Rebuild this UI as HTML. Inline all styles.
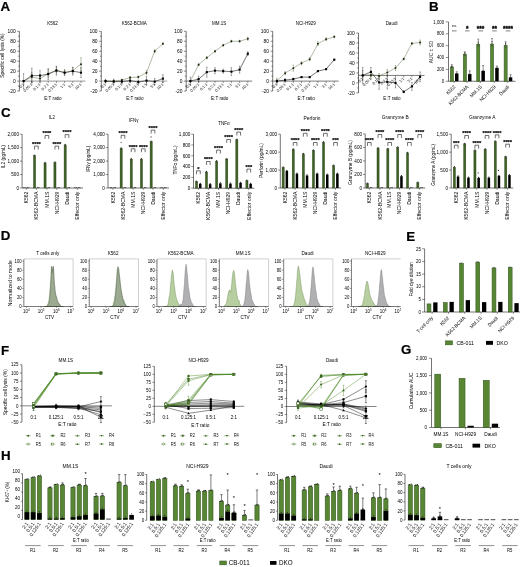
<!DOCTYPE html>
<html><head><meta charset="utf-8"><title>Figure</title>
<style>
html,body{margin:0;padding:0;background:#fff;}
svg{display:block;font-family:"Liberation Sans",sans-serif;}
</style></head><body>
<svg width="520" height="567" viewBox="0 0 520 567">
<rect x="0" y="0" width="520" height="567" fill="#fff"/>
<text transform="translate(0.6 11.3)" font-size="13.3" text-anchor="start" fill="#000" font-weight="bold" stroke="#000" stroke-width="0.2">A</text>
<text transform="translate(428.9 11.1)" font-size="13.3" text-anchor="start" fill="#000" font-weight="bold" stroke="#000" stroke-width="0.2">B</text>
<text transform="translate(0.9 116.5)" font-size="13.3" text-anchor="start" fill="#000" font-weight="bold" stroke="#000" stroke-width="0.2">C</text>
<text transform="translate(0.7 240.4)" font-size="13.3" text-anchor="start" fill="#000" font-weight="bold" stroke="#000" stroke-width="0.2">D</text>
<text transform="translate(406.2 240.6)" font-size="13.3" text-anchor="start" fill="#000" font-weight="bold" stroke="#000" stroke-width="0.2">E</text>
<text transform="translate(0.9 354.5)" font-size="13.3" text-anchor="start" fill="#000" font-weight="bold" stroke="#000" stroke-width="0.2">F</text>
<text transform="translate(401.1 354.3)" font-size="13.3" text-anchor="start" fill="#000" font-weight="bold" stroke="#000" stroke-width="0.2">G</text>
<text transform="translate(1 459.5)" font-size="13.3" text-anchor="start" fill="#000" font-weight="bold" stroke="#000" stroke-width="0.2">H</text>
<line x1="19.4" y1="31.3" x2="19.4" y2="91.06" stroke="#000" stroke-width="0.55" />
<line x1="17.2" y1="91.06" x2="19.4" y2="91.06" stroke="#000" stroke-width="0.45" />
<text transform="translate(15.7 92.76)" font-size="4.9" text-anchor="end" fill="#000" >-20</text>
<line x1="18.1" y1="86.08" x2="19.4" y2="86.08" stroke="#000" stroke-width="0.45" />
<line x1="17.2" y1="81.1" x2="19.4" y2="81.1" stroke="#000" stroke-width="0.45" />
<text transform="translate(15.7 82.8)" font-size="4.9" text-anchor="end" fill="#000" >0</text>
<line x1="18.1" y1="76.12" x2="19.4" y2="76.12" stroke="#000" stroke-width="0.45" />
<line x1="17.2" y1="71.14" x2="19.4" y2="71.14" stroke="#000" stroke-width="0.45" />
<text transform="translate(15.7 72.84)" font-size="4.9" text-anchor="end" fill="#000" >20</text>
<line x1="18.1" y1="66.16" x2="19.4" y2="66.16" stroke="#000" stroke-width="0.45" />
<line x1="17.2" y1="61.18" x2="19.4" y2="61.18" stroke="#000" stroke-width="0.45" />
<text transform="translate(15.7 62.88)" font-size="4.9" text-anchor="end" fill="#000" >40</text>
<line x1="18.1" y1="56.2" x2="19.4" y2="56.2" stroke="#000" stroke-width="0.45" />
<line x1="17.2" y1="51.22" x2="19.4" y2="51.22" stroke="#000" stroke-width="0.45" />
<text transform="translate(15.7 52.92)" font-size="4.9" text-anchor="end" fill="#000" >60</text>
<line x1="18.1" y1="46.24" x2="19.4" y2="46.24" stroke="#000" stroke-width="0.45" />
<line x1="17.2" y1="41.26" x2="19.4" y2="41.26" stroke="#000" stroke-width="0.45" />
<text transform="translate(15.7 42.96)" font-size="4.9" text-anchor="end" fill="#000" >80</text>
<line x1="18.1" y1="36.28" x2="19.4" y2="36.28" stroke="#000" stroke-width="0.45" />
<line x1="17.2" y1="31.3" x2="19.4" y2="31.3" stroke="#000" stroke-width="0.45" />
<text transform="translate(15.7 33)" font-size="4.9" text-anchor="end" fill="#000" >100</text>
<line x1="19.4" y1="81.1" x2="85.4" y2="81.1" stroke="#8a8a8a" stroke-width="0.9" />
<line x1="23.6" y1="81.1" x2="23.6" y2="83.1" stroke="#222" stroke-width="0.45" />
<text transform="translate(24.5 84.6) rotate(-45)" font-size="3.9" text-anchor="end" fill="#111" >0:1</text>
<line x1="31.8" y1="81.1" x2="31.8" y2="83.1" stroke="#222" stroke-width="0.45" />
<text transform="translate(32.7 84.6) rotate(-45)" font-size="3.9" text-anchor="end" fill="#111" >0.05:1</text>
<line x1="40" y1="81.1" x2="40" y2="83.1" stroke="#222" stroke-width="0.45" />
<text transform="translate(40.9 84.6) rotate(-45)" font-size="3.9" text-anchor="end" fill="#111" >0.1:1</text>
<line x1="48.2" y1="81.1" x2="48.2" y2="83.1" stroke="#222" stroke-width="0.45" />
<text transform="translate(49.1 84.6) rotate(-45)" font-size="3.9" text-anchor="end" fill="#111" >0.2:1</text>
<line x1="56.4" y1="81.1" x2="56.4" y2="83.1" stroke="#222" stroke-width="0.45" />
<text transform="translate(57.3 84.6) rotate(-45)" font-size="3.9" text-anchor="end" fill="#111" >0.33:1</text>
<line x1="64.6" y1="81.1" x2="64.6" y2="83.1" stroke="#222" stroke-width="0.45" />
<text transform="translate(65.5 84.6) rotate(-45)" font-size="3.9" text-anchor="end" fill="#111" >1:1</text>
<line x1="72.8" y1="81.1" x2="72.8" y2="83.1" stroke="#222" stroke-width="0.45" />
<text transform="translate(73.7 84.6) rotate(-45)" font-size="3.9" text-anchor="end" fill="#111" >3:1</text>
<line x1="81" y1="81.1" x2="81" y2="83.1" stroke="#222" stroke-width="0.45" />
<text transform="translate(81.9 84.6) rotate(-45)" font-size="3.9" text-anchor="end" fill="#111" >10:1</text>
<text transform="translate(52.4 24.9)" font-size="4.5" text-anchor="middle" fill="#000" >K562</text>
<text transform="translate(52.9 99.66)" font-size="4.6" text-anchor="middle" fill="#000" >E:T ratio</text>
<text transform="translate(4.3 55.5) rotate(-90)" font-size="4.75" text-anchor="middle" fill="#000" >Specific cell lysis (%)</text>
<line x1="31.8" y1="82.1" x2="31.8" y2="72.14" stroke="#2e4a18" stroke-width="0.35" />
<line x1="31.1" y1="82.1" x2="32.5" y2="82.1" stroke="#2e4a18" stroke-width="0.35" />
<line x1="31.1" y1="72.14" x2="32.5" y2="72.14" stroke="#2e4a18" stroke-width="0.35" />
<line x1="40" y1="82.59" x2="40" y2="74.63" stroke="#2e4a18" stroke-width="0.35" />
<line x1="39.3" y1="82.59" x2="40.7" y2="82.59" stroke="#2e4a18" stroke-width="0.35" />
<line x1="39.3" y1="74.63" x2="40.7" y2="74.63" stroke="#2e4a18" stroke-width="0.35" />
<line x1="48.2" y1="77.61" x2="48.2" y2="69.65" stroke="#2e4a18" stroke-width="0.35" />
<line x1="47.5" y1="77.61" x2="48.9" y2="77.61" stroke="#2e4a18" stroke-width="0.35" />
<line x1="47.5" y1="69.65" x2="48.9" y2="69.65" stroke="#2e4a18" stroke-width="0.35" />
<line x1="56.4" y1="73.13" x2="56.4" y2="67.16" stroke="#2e4a18" stroke-width="0.35" />
<line x1="55.7" y1="73.13" x2="57.1" y2="73.13" stroke="#2e4a18" stroke-width="0.35" />
<line x1="55.7" y1="67.16" x2="57.1" y2="67.16" stroke="#2e4a18" stroke-width="0.35" />
<line x1="64.6" y1="74.63" x2="64.6" y2="70.64" stroke="#2e4a18" stroke-width="0.35" />
<line x1="63.9" y1="74.63" x2="65.3" y2="74.63" stroke="#2e4a18" stroke-width="0.35" />
<line x1="63.9" y1="70.64" x2="65.3" y2="70.64" stroke="#2e4a18" stroke-width="0.35" />
<line x1="72.8" y1="73.63" x2="72.8" y2="67.65" stroke="#2e4a18" stroke-width="0.35" />
<line x1="72.1" y1="73.63" x2="73.5" y2="73.63" stroke="#2e4a18" stroke-width="0.35" />
<line x1="72.1" y1="67.65" x2="73.5" y2="67.65" stroke="#2e4a18" stroke-width="0.35" />
<line x1="81" y1="70.64" x2="81" y2="57.69" stroke="#2e4a18" stroke-width="0.35" />
<line x1="80.3" y1="70.64" x2="81.7" y2="70.64" stroke="#2e4a18" stroke-width="0.35" />
<line x1="80.3" y1="57.69" x2="81.7" y2="57.69" stroke="#2e4a18" stroke-width="0.35" />
<line x1="23.6" y1="88.57" x2="23.6" y2="73.63" stroke="#000" stroke-width="0.35" />
<line x1="22.9" y1="88.57" x2="24.3" y2="88.57" stroke="#000" stroke-width="0.35" />
<line x1="22.9" y1="73.63" x2="24.3" y2="73.63" stroke="#000" stroke-width="0.35" />
<line x1="31.8" y1="83.09" x2="31.8" y2="68.15" stroke="#000" stroke-width="0.35" />
<line x1="31.1" y1="83.09" x2="32.5" y2="83.09" stroke="#000" stroke-width="0.35" />
<line x1="31.1" y1="68.15" x2="32.5" y2="68.15" stroke="#000" stroke-width="0.35" />
<line x1="40" y1="80.6" x2="40" y2="70.64" stroke="#000" stroke-width="0.35" />
<line x1="39.3" y1="80.6" x2="40.7" y2="80.6" stroke="#000" stroke-width="0.35" />
<line x1="39.3" y1="70.64" x2="40.7" y2="70.64" stroke="#000" stroke-width="0.35" />
<line x1="48.2" y1="79.61" x2="48.2" y2="68.65" stroke="#000" stroke-width="0.35" />
<line x1="47.5" y1="79.61" x2="48.9" y2="79.61" stroke="#000" stroke-width="0.35" />
<line x1="47.5" y1="68.65" x2="48.9" y2="68.65" stroke="#000" stroke-width="0.35" />
<line x1="56.4" y1="75.12" x2="56.4" y2="66.16" stroke="#000" stroke-width="0.35" />
<line x1="55.7" y1="75.12" x2="57.1" y2="75.12" stroke="#000" stroke-width="0.35" />
<line x1="55.7" y1="66.16" x2="57.1" y2="66.16" stroke="#000" stroke-width="0.35" />
<line x1="64.6" y1="75.62" x2="64.6" y2="69.65" stroke="#000" stroke-width="0.35" />
<line x1="63.9" y1="75.62" x2="65.3" y2="75.62" stroke="#000" stroke-width="0.35" />
<line x1="63.9" y1="69.65" x2="65.3" y2="69.65" stroke="#000" stroke-width="0.35" />
<line x1="72.8" y1="75.12" x2="72.8" y2="67.16" stroke="#000" stroke-width="0.35" />
<line x1="72.1" y1="75.12" x2="73.5" y2="75.12" stroke="#000" stroke-width="0.35" />
<line x1="72.1" y1="67.16" x2="73.5" y2="67.16" stroke="#000" stroke-width="0.35" />
<line x1="81" y1="77.61" x2="81" y2="67.65" stroke="#000" stroke-width="0.35" />
<line x1="80.3" y1="77.61" x2="81.7" y2="77.61" stroke="#000" stroke-width="0.35" />
<line x1="80.3" y1="67.65" x2="81.7" y2="67.65" stroke="#000" stroke-width="0.35" />
<polyline points="23.6,81.1 31.8,77.12 40,78.61 48.2,73.63 56.4,70.14 64.6,72.63 72.8,70.64 81,64.17" fill="none" stroke="#56683f" stroke-width="0.45" stroke-linejoin="round" />
<polyline points="23.6,81.1 31.8,75.62 40,75.62 48.2,74.13 56.4,70.64 64.6,72.63 72.8,71.14 81,72.63" fill="none" stroke="#000" stroke-width="0.55" stroke-linejoin="round" />
<circle cx="23.6" cy="81.1" r="1" fill="#1d2b10"/>
<circle cx="31.8" cy="77.12" r="1" fill="#1d2b10"/>
<circle cx="40" cy="78.61" r="1" fill="#1d2b10"/>
<circle cx="48.2" cy="73.63" r="1" fill="#1d2b10"/>
<circle cx="56.4" cy="70.14" r="1" fill="#1d2b10"/>
<circle cx="64.6" cy="72.63" r="1" fill="#1d2b10"/>
<circle cx="72.8" cy="70.64" r="1" fill="#1d2b10"/>
<circle cx="81" cy="64.17" r="1" fill="#1d2b10"/>
<rect x="22.55" y="80.05" width="2.1" height="2.1" fill="#000" />
<rect x="30.75" y="74.57" width="2.1" height="2.1" fill="#000" />
<rect x="38.95" y="74.57" width="2.1" height="2.1" fill="#000" />
<rect x="47.15" y="73.08" width="2.1" height="2.1" fill="#000" />
<rect x="55.35" y="69.59" width="2.1" height="2.1" fill="#000" />
<rect x="63.55" y="71.58" width="2.1" height="2.1" fill="#000" />
<rect x="71.75" y="70.09" width="2.1" height="2.1" fill="#000" />
<rect x="79.95" y="71.58" width="2.1" height="2.1" fill="#000" />
<line x1="101.3" y1="31.3" x2="101.3" y2="91.06" stroke="#000" stroke-width="0.55" />
<line x1="99.1" y1="91.06" x2="101.3" y2="91.06" stroke="#000" stroke-width="0.45" />
<text transform="translate(97.6 92.76)" font-size="4.9" text-anchor="end" fill="#000" >-20</text>
<line x1="100" y1="86.08" x2="101.3" y2="86.08" stroke="#000" stroke-width="0.45" />
<line x1="99.1" y1="81.1" x2="101.3" y2="81.1" stroke="#000" stroke-width="0.45" />
<text transform="translate(97.6 82.8)" font-size="4.9" text-anchor="end" fill="#000" >0</text>
<line x1="100" y1="76.12" x2="101.3" y2="76.12" stroke="#000" stroke-width="0.45" />
<line x1="99.1" y1="71.14" x2="101.3" y2="71.14" stroke="#000" stroke-width="0.45" />
<text transform="translate(97.6 72.84)" font-size="4.9" text-anchor="end" fill="#000" >20</text>
<line x1="100" y1="66.16" x2="101.3" y2="66.16" stroke="#000" stroke-width="0.45" />
<line x1="99.1" y1="61.18" x2="101.3" y2="61.18" stroke="#000" stroke-width="0.45" />
<text transform="translate(97.6 62.88)" font-size="4.9" text-anchor="end" fill="#000" >40</text>
<line x1="100" y1="56.2" x2="101.3" y2="56.2" stroke="#000" stroke-width="0.45" />
<line x1="99.1" y1="51.22" x2="101.3" y2="51.22" stroke="#000" stroke-width="0.45" />
<text transform="translate(97.6 52.92)" font-size="4.9" text-anchor="end" fill="#000" >60</text>
<line x1="100" y1="46.24" x2="101.3" y2="46.24" stroke="#000" stroke-width="0.45" />
<line x1="99.1" y1="41.26" x2="101.3" y2="41.26" stroke="#000" stroke-width="0.45" />
<text transform="translate(97.6 42.96)" font-size="4.9" text-anchor="end" fill="#000" >80</text>
<line x1="100" y1="36.28" x2="101.3" y2="36.28" stroke="#000" stroke-width="0.45" />
<line x1="99.1" y1="31.3" x2="101.3" y2="31.3" stroke="#000" stroke-width="0.45" />
<text transform="translate(97.6 33)" font-size="4.9" text-anchor="end" fill="#000" >100</text>
<line x1="101.3" y1="81.1" x2="167.3" y2="81.1" stroke="#666" stroke-width="0.6" />
<line x1="105.5" y1="81.1" x2="105.5" y2="83.1" stroke="#222" stroke-width="0.45" />
<text transform="translate(106.4 84.6) rotate(-45)" font-size="3.9" text-anchor="end" fill="#111" >0:1</text>
<line x1="113.7" y1="81.1" x2="113.7" y2="83.1" stroke="#222" stroke-width="0.45" />
<text transform="translate(114.6 84.6) rotate(-45)" font-size="3.9" text-anchor="end" fill="#111" >0.05:1</text>
<line x1="121.9" y1="81.1" x2="121.9" y2="83.1" stroke="#222" stroke-width="0.45" />
<text transform="translate(122.8 84.6) rotate(-45)" font-size="3.9" text-anchor="end" fill="#111" >0.1:1</text>
<line x1="130.1" y1="81.1" x2="130.1" y2="83.1" stroke="#222" stroke-width="0.45" />
<text transform="translate(131 84.6) rotate(-45)" font-size="3.9" text-anchor="end" fill="#111" >0.2:1</text>
<line x1="138.3" y1="81.1" x2="138.3" y2="83.1" stroke="#222" stroke-width="0.45" />
<text transform="translate(139.2 84.6) rotate(-45)" font-size="3.9" text-anchor="end" fill="#111" >0.33:1</text>
<line x1="146.5" y1="81.1" x2="146.5" y2="83.1" stroke="#222" stroke-width="0.45" />
<text transform="translate(147.4 84.6) rotate(-45)" font-size="3.9" text-anchor="end" fill="#111" >1:1</text>
<line x1="154.7" y1="81.1" x2="154.7" y2="83.1" stroke="#222" stroke-width="0.45" />
<text transform="translate(155.6 84.6) rotate(-45)" font-size="3.9" text-anchor="end" fill="#111" >3:1</text>
<line x1="162.9" y1="81.1" x2="162.9" y2="83.1" stroke="#222" stroke-width="0.45" />
<text transform="translate(163.8 84.6) rotate(-45)" font-size="3.9" text-anchor="end" fill="#111" >10:1</text>
<text transform="translate(134.3 24.9)" font-size="4.5" text-anchor="middle" fill="#000" >K562-BCMA</text>
<text transform="translate(134.8 99.66)" font-size="4.6" text-anchor="middle" fill="#000" >E:T ratio</text>
<line x1="105.5" y1="82.1" x2="105.5" y2="80.1" stroke="#2e4a18" stroke-width="0.35" />
<line x1="104.8" y1="82.1" x2="106.2" y2="82.1" stroke="#2e4a18" stroke-width="0.35" />
<line x1="104.8" y1="80.1" x2="106.2" y2="80.1" stroke="#2e4a18" stroke-width="0.35" />
<line x1="113.7" y1="82.1" x2="113.7" y2="80.1" stroke="#2e4a18" stroke-width="0.35" />
<line x1="113" y1="82.1" x2="114.4" y2="82.1" stroke="#2e4a18" stroke-width="0.35" />
<line x1="113" y1="80.1" x2="114.4" y2="80.1" stroke="#2e4a18" stroke-width="0.35" />
<line x1="121.9" y1="81.1" x2="121.9" y2="79.11" stroke="#2e4a18" stroke-width="0.35" />
<line x1="121.2" y1="81.1" x2="122.6" y2="81.1" stroke="#2e4a18" stroke-width="0.35" />
<line x1="121.2" y1="79.11" x2="122.6" y2="79.11" stroke="#2e4a18" stroke-width="0.35" />
<line x1="130.1" y1="78.61" x2="130.1" y2="76.62" stroke="#2e4a18" stroke-width="0.35" />
<line x1="129.4" y1="78.61" x2="130.8" y2="78.61" stroke="#2e4a18" stroke-width="0.35" />
<line x1="129.4" y1="76.62" x2="130.8" y2="76.62" stroke="#2e4a18" stroke-width="0.35" />
<line x1="138.3" y1="78.11" x2="138.3" y2="76.12" stroke="#2e4a18" stroke-width="0.35" />
<line x1="137.6" y1="78.11" x2="139" y2="78.11" stroke="#2e4a18" stroke-width="0.35" />
<line x1="137.6" y1="76.12" x2="139" y2="76.12" stroke="#2e4a18" stroke-width="0.35" />
<line x1="146.5" y1="74.63" x2="146.5" y2="70.64" stroke="#2e4a18" stroke-width="0.35" />
<line x1="145.8" y1="74.63" x2="147.2" y2="74.63" stroke="#2e4a18" stroke-width="0.35" />
<line x1="145.8" y1="70.64" x2="147.2" y2="70.64" stroke="#2e4a18" stroke-width="0.35" />
<line x1="154.7" y1="52.71" x2="154.7" y2="49.73" stroke="#2e4a18" stroke-width="0.35" />
<line x1="154" y1="52.71" x2="155.4" y2="52.71" stroke="#2e4a18" stroke-width="0.35" />
<line x1="154" y1="49.73" x2="155.4" y2="49.73" stroke="#2e4a18" stroke-width="0.35" />
<line x1="162.9" y1="44.75" x2="162.9" y2="42.75" stroke="#2e4a18" stroke-width="0.35" />
<line x1="162.2" y1="44.75" x2="163.6" y2="44.75" stroke="#2e4a18" stroke-width="0.35" />
<line x1="162.2" y1="42.75" x2="163.6" y2="42.75" stroke="#2e4a18" stroke-width="0.35" />
<line x1="105.5" y1="83.09" x2="105.5" y2="79.11" stroke="#000" stroke-width="0.35" />
<line x1="104.8" y1="83.09" x2="106.2" y2="83.09" stroke="#000" stroke-width="0.35" />
<line x1="104.8" y1="79.11" x2="106.2" y2="79.11" stroke="#000" stroke-width="0.35" />
<line x1="113.7" y1="84.09" x2="113.7" y2="79.11" stroke="#000" stroke-width="0.35" />
<line x1="113" y1="84.09" x2="114.4" y2="84.09" stroke="#000" stroke-width="0.35" />
<line x1="113" y1="79.11" x2="114.4" y2="79.11" stroke="#000" stroke-width="0.35" />
<line x1="121.9" y1="83.59" x2="121.9" y2="79.61" stroke="#000" stroke-width="0.35" />
<line x1="121.2" y1="83.59" x2="122.6" y2="83.59" stroke="#000" stroke-width="0.35" />
<line x1="121.2" y1="79.61" x2="122.6" y2="79.61" stroke="#000" stroke-width="0.35" />
<line x1="130.1" y1="82.59" x2="130.1" y2="78.61" stroke="#000" stroke-width="0.35" />
<line x1="129.4" y1="82.59" x2="130.8" y2="82.59" stroke="#000" stroke-width="0.35" />
<line x1="129.4" y1="78.61" x2="130.8" y2="78.61" stroke="#000" stroke-width="0.35" />
<line x1="138.3" y1="84.09" x2="138.3" y2="80.1" stroke="#000" stroke-width="0.35" />
<line x1="137.6" y1="84.09" x2="139" y2="84.09" stroke="#000" stroke-width="0.35" />
<line x1="137.6" y1="80.1" x2="139" y2="80.1" stroke="#000" stroke-width="0.35" />
<line x1="146.5" y1="84.59" x2="146.5" y2="76.62" stroke="#000" stroke-width="0.35" />
<line x1="145.8" y1="84.59" x2="147.2" y2="84.59" stroke="#000" stroke-width="0.35" />
<line x1="145.8" y1="76.62" x2="147.2" y2="76.62" stroke="#000" stroke-width="0.35" />
<line x1="154.7" y1="84.59" x2="154.7" y2="78.61" stroke="#000" stroke-width="0.35" />
<line x1="154" y1="84.59" x2="155.4" y2="84.59" stroke="#000" stroke-width="0.35" />
<line x1="154" y1="78.61" x2="155.4" y2="78.61" stroke="#000" stroke-width="0.35" />
<line x1="162.9" y1="82.59" x2="162.9" y2="74.63" stroke="#000" stroke-width="0.35" />
<line x1="162.2" y1="82.59" x2="163.6" y2="82.59" stroke="#000" stroke-width="0.35" />
<line x1="162.2" y1="74.63" x2="163.6" y2="74.63" stroke="#000" stroke-width="0.35" />
<polyline points="105.5,81.1 113.7,81.1 121.9,80.1 130.1,77.61 138.3,77.12 146.5,72.63 154.7,51.22 162.9,43.75" fill="none" stroke="#56683f" stroke-width="0.45" stroke-linejoin="round" />
<polyline points="105.5,81.1 113.7,81.6 121.9,81.6 130.1,80.6 138.3,82.1 146.5,80.6 154.7,81.6 162.9,78.61" fill="none" stroke="#000" stroke-width="0.55" stroke-linejoin="round" />
<circle cx="105.5" cy="81.1" r="1" fill="#1d2b10"/>
<circle cx="113.7" cy="81.1" r="1" fill="#1d2b10"/>
<circle cx="121.9" cy="80.1" r="1" fill="#1d2b10"/>
<circle cx="130.1" cy="77.61" r="1" fill="#1d2b10"/>
<circle cx="138.3" cy="77.12" r="1" fill="#1d2b10"/>
<circle cx="146.5" cy="72.63" r="1" fill="#1d2b10"/>
<circle cx="154.7" cy="51.22" r="1" fill="#1d2b10"/>
<circle cx="162.9" cy="43.75" r="1" fill="#1d2b10"/>
<rect x="104.45" y="80.05" width="2.1" height="2.1" fill="#000" />
<rect x="112.65" y="80.55" width="2.1" height="2.1" fill="#000" />
<rect x="120.85" y="80.55" width="2.1" height="2.1" fill="#000" />
<rect x="129.05" y="79.55" width="2.1" height="2.1" fill="#000" />
<rect x="137.25" y="81.05" width="2.1" height="2.1" fill="#000" />
<rect x="145.45" y="79.55" width="2.1" height="2.1" fill="#000" />
<rect x="153.65" y="80.55" width="2.1" height="2.1" fill="#000" />
<rect x="161.85" y="77.56" width="2.1" height="2.1" fill="#000" />
<line x1="186.2" y1="31.3" x2="186.2" y2="91.06" stroke="#000" stroke-width="0.55" />
<line x1="184" y1="91.06" x2="186.2" y2="91.06" stroke="#000" stroke-width="0.45" />
<text transform="translate(182.5 92.76)" font-size="4.9" text-anchor="end" fill="#000" >-20</text>
<line x1="184.9" y1="86.08" x2="186.2" y2="86.08" stroke="#000" stroke-width="0.45" />
<line x1="184" y1="81.1" x2="186.2" y2="81.1" stroke="#000" stroke-width="0.45" />
<text transform="translate(182.5 82.8)" font-size="4.9" text-anchor="end" fill="#000" >0</text>
<line x1="184.9" y1="76.12" x2="186.2" y2="76.12" stroke="#000" stroke-width="0.45" />
<line x1="184" y1="71.14" x2="186.2" y2="71.14" stroke="#000" stroke-width="0.45" />
<text transform="translate(182.5 72.84)" font-size="4.9" text-anchor="end" fill="#000" >20</text>
<line x1="184.9" y1="66.16" x2="186.2" y2="66.16" stroke="#000" stroke-width="0.45" />
<line x1="184" y1="61.18" x2="186.2" y2="61.18" stroke="#000" stroke-width="0.45" />
<text transform="translate(182.5 62.88)" font-size="4.9" text-anchor="end" fill="#000" >40</text>
<line x1="184.9" y1="56.2" x2="186.2" y2="56.2" stroke="#000" stroke-width="0.45" />
<line x1="184" y1="51.22" x2="186.2" y2="51.22" stroke="#000" stroke-width="0.45" />
<text transform="translate(182.5 52.92)" font-size="4.9" text-anchor="end" fill="#000" >60</text>
<line x1="184.9" y1="46.24" x2="186.2" y2="46.24" stroke="#000" stroke-width="0.45" />
<line x1="184" y1="41.26" x2="186.2" y2="41.26" stroke="#000" stroke-width="0.45" />
<text transform="translate(182.5 42.96)" font-size="4.9" text-anchor="end" fill="#000" >80</text>
<line x1="184.9" y1="36.28" x2="186.2" y2="36.28" stroke="#000" stroke-width="0.45" />
<line x1="184" y1="31.3" x2="186.2" y2="31.3" stroke="#000" stroke-width="0.45" />
<text transform="translate(182.5 33)" font-size="4.9" text-anchor="end" fill="#000" >100</text>
<line x1="186.2" y1="81.1" x2="252.2" y2="81.1" stroke="#222" stroke-width="0.6" />
<line x1="190.4" y1="81.1" x2="190.4" y2="83.1" stroke="#222" stroke-width="0.45" />
<text transform="translate(191.3 84.6) rotate(-45)" font-size="3.9" text-anchor="end" fill="#111" >0:1</text>
<line x1="198.6" y1="81.1" x2="198.6" y2="83.1" stroke="#222" stroke-width="0.45" />
<text transform="translate(199.5 84.6) rotate(-45)" font-size="3.9" text-anchor="end" fill="#111" >0.05:1</text>
<line x1="206.8" y1="81.1" x2="206.8" y2="83.1" stroke="#222" stroke-width="0.45" />
<text transform="translate(207.7 84.6) rotate(-45)" font-size="3.9" text-anchor="end" fill="#111" >0.1:1</text>
<line x1="215" y1="81.1" x2="215" y2="83.1" stroke="#222" stroke-width="0.45" />
<text transform="translate(215.9 84.6) rotate(-45)" font-size="3.9" text-anchor="end" fill="#111" >0.2:1</text>
<line x1="223.2" y1="81.1" x2="223.2" y2="83.1" stroke="#222" stroke-width="0.45" />
<text transform="translate(224.1 84.6) rotate(-45)" font-size="3.9" text-anchor="end" fill="#111" >0.33:1</text>
<line x1="231.4" y1="81.1" x2="231.4" y2="83.1" stroke="#222" stroke-width="0.45" />
<text transform="translate(232.3 84.6) rotate(-45)" font-size="3.9" text-anchor="end" fill="#111" >1:1</text>
<line x1="239.6" y1="81.1" x2="239.6" y2="83.1" stroke="#222" stroke-width="0.45" />
<text transform="translate(240.5 84.6) rotate(-45)" font-size="3.9" text-anchor="end" fill="#111" >3:1</text>
<line x1="247.8" y1="81.1" x2="247.8" y2="83.1" stroke="#222" stroke-width="0.45" />
<text transform="translate(248.7 84.6) rotate(-45)" font-size="3.9" text-anchor="end" fill="#111" >10:1</text>
<text transform="translate(219.2 24.9)" font-size="4.5" text-anchor="middle" fill="#000" >MM.1S</text>
<text transform="translate(219.7 99.66)" font-size="4.6" text-anchor="middle" fill="#000" >E:T ratio</text>
<line x1="190.4" y1="82.1" x2="190.4" y2="80.1" stroke="#2e4a18" stroke-width="0.35" />
<line x1="189.7" y1="82.1" x2="191.1" y2="82.1" stroke="#2e4a18" stroke-width="0.35" />
<line x1="189.7" y1="80.1" x2="191.1" y2="80.1" stroke="#2e4a18" stroke-width="0.35" />
<line x1="198.6" y1="65.66" x2="198.6" y2="63.67" stroke="#2e4a18" stroke-width="0.35" />
<line x1="197.9" y1="65.66" x2="199.3" y2="65.66" stroke="#2e4a18" stroke-width="0.35" />
<line x1="197.9" y1="63.67" x2="199.3" y2="63.67" stroke="#2e4a18" stroke-width="0.35" />
<line x1="206.8" y1="58.69" x2="206.8" y2="56.7" stroke="#2e4a18" stroke-width="0.35" />
<line x1="206.1" y1="58.69" x2="207.5" y2="58.69" stroke="#2e4a18" stroke-width="0.35" />
<line x1="206.1" y1="56.7" x2="207.5" y2="56.7" stroke="#2e4a18" stroke-width="0.35" />
<line x1="215" y1="52.22" x2="215" y2="50.22" stroke="#2e4a18" stroke-width="0.35" />
<line x1="214.3" y1="52.22" x2="215.7" y2="52.22" stroke="#2e4a18" stroke-width="0.35" />
<line x1="214.3" y1="50.22" x2="215.7" y2="50.22" stroke="#2e4a18" stroke-width="0.35" />
<line x1="223.2" y1="46.24" x2="223.2" y2="44.25" stroke="#2e4a18" stroke-width="0.35" />
<line x1="222.5" y1="46.24" x2="223.9" y2="46.24" stroke="#2e4a18" stroke-width="0.35" />
<line x1="222.5" y1="44.25" x2="223.9" y2="44.25" stroke="#2e4a18" stroke-width="0.35" />
<line x1="231.4" y1="42.26" x2="231.4" y2="40.26" stroke="#2e4a18" stroke-width="0.35" />
<line x1="230.7" y1="42.26" x2="232.1" y2="42.26" stroke="#2e4a18" stroke-width="0.35" />
<line x1="230.7" y1="40.26" x2="232.1" y2="40.26" stroke="#2e4a18" stroke-width="0.35" />
<line x1="239.6" y1="42.26" x2="239.6" y2="40.26" stroke="#2e4a18" stroke-width="0.35" />
<line x1="238.9" y1="42.26" x2="240.3" y2="42.26" stroke="#2e4a18" stroke-width="0.35" />
<line x1="238.9" y1="40.26" x2="240.3" y2="40.26" stroke="#2e4a18" stroke-width="0.35" />
<line x1="247.8" y1="40.26" x2="247.8" y2="37.28" stroke="#2e4a18" stroke-width="0.35" />
<line x1="247.1" y1="40.26" x2="248.5" y2="40.26" stroke="#2e4a18" stroke-width="0.35" />
<line x1="247.1" y1="37.28" x2="248.5" y2="37.28" stroke="#2e4a18" stroke-width="0.35" />
<line x1="190.4" y1="85.08" x2="190.4" y2="77.12" stroke="#000" stroke-width="0.35" />
<line x1="189.7" y1="85.08" x2="191.1" y2="85.08" stroke="#000" stroke-width="0.35" />
<line x1="189.7" y1="77.12" x2="191.1" y2="77.12" stroke="#000" stroke-width="0.35" />
<line x1="198.6" y1="82.1" x2="198.6" y2="76.12" stroke="#000" stroke-width="0.35" />
<line x1="197.9" y1="82.1" x2="199.3" y2="82.1" stroke="#000" stroke-width="0.35" />
<line x1="197.9" y1="76.12" x2="199.3" y2="76.12" stroke="#000" stroke-width="0.35" />
<line x1="206.8" y1="77.12" x2="206.8" y2="67.16" stroke="#000" stroke-width="0.35" />
<line x1="206.1" y1="77.12" x2="207.5" y2="77.12" stroke="#000" stroke-width="0.35" />
<line x1="206.1" y1="67.16" x2="207.5" y2="67.16" stroke="#000" stroke-width="0.35" />
<line x1="215" y1="73.63" x2="215" y2="67.65" stroke="#000" stroke-width="0.35" />
<line x1="214.3" y1="73.63" x2="215.7" y2="73.63" stroke="#000" stroke-width="0.35" />
<line x1="214.3" y1="67.65" x2="215.7" y2="67.65" stroke="#000" stroke-width="0.35" />
<line x1="223.2" y1="73.13" x2="223.2" y2="69.15" stroke="#000" stroke-width="0.35" />
<line x1="222.5" y1="73.13" x2="223.9" y2="73.13" stroke="#000" stroke-width="0.35" />
<line x1="222.5" y1="69.15" x2="223.9" y2="69.15" stroke="#000" stroke-width="0.35" />
<line x1="231.4" y1="75.62" x2="231.4" y2="67.65" stroke="#000" stroke-width="0.35" />
<line x1="230.7" y1="75.62" x2="232.1" y2="75.62" stroke="#000" stroke-width="0.35" />
<line x1="230.7" y1="67.65" x2="232.1" y2="67.65" stroke="#000" stroke-width="0.35" />
<line x1="239.6" y1="73.13" x2="239.6" y2="66.16" stroke="#000" stroke-width="0.35" />
<line x1="238.9" y1="73.13" x2="240.3" y2="73.13" stroke="#000" stroke-width="0.35" />
<line x1="238.9" y1="66.16" x2="240.3" y2="66.16" stroke="#000" stroke-width="0.35" />
<line x1="247.8" y1="55.7" x2="247.8" y2="51.72" stroke="#000" stroke-width="0.35" />
<line x1="247.1" y1="55.7" x2="248.5" y2="55.7" stroke="#000" stroke-width="0.35" />
<line x1="247.1" y1="51.72" x2="248.5" y2="51.72" stroke="#000" stroke-width="0.35" />
<polyline points="190.4,81.1 198.6,64.67 206.8,57.69 215,51.22 223.2,45.24 231.4,41.26 239.6,41.26 247.8,38.77" fill="none" stroke="#56683f" stroke-width="0.45" stroke-linejoin="round" />
<polyline points="190.4,81.1 198.6,79.11 206.8,72.14 215,70.64 223.2,71.14 231.4,71.64 239.6,69.65 247.8,53.71" fill="none" stroke="#000" stroke-width="0.55" stroke-linejoin="round" />
<circle cx="190.4" cy="81.1" r="1" fill="#1d2b10"/>
<circle cx="198.6" cy="64.67" r="1" fill="#1d2b10"/>
<circle cx="206.8" cy="57.69" r="1" fill="#1d2b10"/>
<circle cx="215" cy="51.22" r="1" fill="#1d2b10"/>
<circle cx="223.2" cy="45.24" r="1" fill="#1d2b10"/>
<circle cx="231.4" cy="41.26" r="1" fill="#1d2b10"/>
<circle cx="239.6" cy="41.26" r="1" fill="#1d2b10"/>
<circle cx="247.8" cy="38.77" r="1" fill="#1d2b10"/>
<rect x="189.35" y="80.05" width="2.1" height="2.1" fill="#000" />
<rect x="197.55" y="78.06" width="2.1" height="2.1" fill="#000" />
<rect x="205.75" y="71.09" width="2.1" height="2.1" fill="#000" />
<rect x="213.95" y="69.59" width="2.1" height="2.1" fill="#000" />
<rect x="222.15" y="70.09" width="2.1" height="2.1" fill="#000" />
<rect x="230.35" y="70.59" width="2.1" height="2.1" fill="#000" />
<rect x="238.55" y="68.6" width="2.1" height="2.1" fill="#000" />
<rect x="246.75" y="52.66" width="2.1" height="2.1" fill="#000" />
<line x1="272.7" y1="31.3" x2="272.7" y2="91.06" stroke="#000" stroke-width="0.55" />
<line x1="270.5" y1="91.06" x2="272.7" y2="91.06" stroke="#000" stroke-width="0.45" />
<text transform="translate(269 92.76)" font-size="4.9" text-anchor="end" fill="#000" >-20</text>
<line x1="271.4" y1="86.08" x2="272.7" y2="86.08" stroke="#000" stroke-width="0.45" />
<line x1="270.5" y1="81.1" x2="272.7" y2="81.1" stroke="#000" stroke-width="0.45" />
<text transform="translate(269 82.8)" font-size="4.9" text-anchor="end" fill="#000" >0</text>
<line x1="271.4" y1="76.12" x2="272.7" y2="76.12" stroke="#000" stroke-width="0.45" />
<line x1="270.5" y1="71.14" x2="272.7" y2="71.14" stroke="#000" stroke-width="0.45" />
<text transform="translate(269 72.84)" font-size="4.9" text-anchor="end" fill="#000" >20</text>
<line x1="271.4" y1="66.16" x2="272.7" y2="66.16" stroke="#000" stroke-width="0.45" />
<line x1="270.5" y1="61.18" x2="272.7" y2="61.18" stroke="#000" stroke-width="0.45" />
<text transform="translate(269 62.88)" font-size="4.9" text-anchor="end" fill="#000" >40</text>
<line x1="271.4" y1="56.2" x2="272.7" y2="56.2" stroke="#000" stroke-width="0.45" />
<line x1="270.5" y1="51.22" x2="272.7" y2="51.22" stroke="#000" stroke-width="0.45" />
<text transform="translate(269 52.92)" font-size="4.9" text-anchor="end" fill="#000" >60</text>
<line x1="271.4" y1="46.24" x2="272.7" y2="46.24" stroke="#000" stroke-width="0.45" />
<line x1="270.5" y1="41.26" x2="272.7" y2="41.26" stroke="#000" stroke-width="0.45" />
<text transform="translate(269 42.96)" font-size="4.9" text-anchor="end" fill="#000" >80</text>
<line x1="271.4" y1="36.28" x2="272.7" y2="36.28" stroke="#000" stroke-width="0.45" />
<line x1="270.5" y1="31.3" x2="272.7" y2="31.3" stroke="#000" stroke-width="0.45" />
<text transform="translate(269 33)" font-size="4.9" text-anchor="end" fill="#000" >100</text>
<line x1="272.7" y1="81.1" x2="338.7" y2="81.1" stroke="#222" stroke-width="0.6" />
<line x1="276.9" y1="81.1" x2="276.9" y2="83.1" stroke="#222" stroke-width="0.45" />
<text transform="translate(277.8 84.6) rotate(-45)" font-size="3.9" text-anchor="end" fill="#111" >0:1</text>
<line x1="285.1" y1="81.1" x2="285.1" y2="83.1" stroke="#222" stroke-width="0.45" />
<text transform="translate(286 84.6) rotate(-45)" font-size="3.9" text-anchor="end" fill="#111" >0.05:1</text>
<line x1="293.3" y1="81.1" x2="293.3" y2="83.1" stroke="#222" stroke-width="0.45" />
<text transform="translate(294.2 84.6) rotate(-45)" font-size="3.9" text-anchor="end" fill="#111" >0.1:1</text>
<line x1="301.5" y1="81.1" x2="301.5" y2="83.1" stroke="#222" stroke-width="0.45" />
<text transform="translate(302.4 84.6) rotate(-45)" font-size="3.9" text-anchor="end" fill="#111" >0.2:1</text>
<line x1="309.7" y1="81.1" x2="309.7" y2="83.1" stroke="#222" stroke-width="0.45" />
<text transform="translate(310.6 84.6) rotate(-45)" font-size="3.9" text-anchor="end" fill="#111" >0.33:1</text>
<line x1="317.9" y1="81.1" x2="317.9" y2="83.1" stroke="#222" stroke-width="0.45" />
<text transform="translate(318.8 84.6) rotate(-45)" font-size="3.9" text-anchor="end" fill="#111" >1:1</text>
<line x1="326.1" y1="81.1" x2="326.1" y2="83.1" stroke="#222" stroke-width="0.45" />
<text transform="translate(327 84.6) rotate(-45)" font-size="3.9" text-anchor="end" fill="#111" >3:1</text>
<line x1="334.3" y1="81.1" x2="334.3" y2="83.1" stroke="#222" stroke-width="0.45" />
<text transform="translate(335.2 84.6) rotate(-45)" font-size="3.9" text-anchor="end" fill="#111" >10:1</text>
<text transform="translate(305.7 24.9)" font-size="4.5" text-anchor="middle" fill="#000" >NCI-H929</text>
<text transform="translate(306.2 99.66)" font-size="4.6" text-anchor="middle" fill="#000" >E:T ratio</text>
<line x1="276.9" y1="84.09" x2="276.9" y2="78.11" stroke="#2e4a18" stroke-width="0.35" />
<line x1="276.2" y1="84.09" x2="277.6" y2="84.09" stroke="#2e4a18" stroke-width="0.35" />
<line x1="276.2" y1="78.11" x2="277.6" y2="78.11" stroke="#2e4a18" stroke-width="0.35" />
<line x1="285.1" y1="74.63" x2="285.1" y2="71.64" stroke="#2e4a18" stroke-width="0.35" />
<line x1="284.4" y1="74.63" x2="285.8" y2="74.63" stroke="#2e4a18" stroke-width="0.35" />
<line x1="284.4" y1="71.64" x2="285.8" y2="71.64" stroke="#2e4a18" stroke-width="0.35" />
<line x1="293.3" y1="71.14" x2="293.3" y2="65.16" stroke="#2e4a18" stroke-width="0.35" />
<line x1="292.6" y1="71.14" x2="294" y2="71.14" stroke="#2e4a18" stroke-width="0.35" />
<line x1="292.6" y1="65.16" x2="294" y2="65.16" stroke="#2e4a18" stroke-width="0.35" />
<line x1="301.5" y1="64.67" x2="301.5" y2="61.68" stroke="#2e4a18" stroke-width="0.35" />
<line x1="300.8" y1="64.67" x2="302.2" y2="64.67" stroke="#2e4a18" stroke-width="0.35" />
<line x1="300.8" y1="61.68" x2="302.2" y2="61.68" stroke="#2e4a18" stroke-width="0.35" />
<line x1="309.7" y1="60.68" x2="309.7" y2="57.69" stroke="#2e4a18" stroke-width="0.35" />
<line x1="309" y1="60.68" x2="310.4" y2="60.68" stroke="#2e4a18" stroke-width="0.35" />
<line x1="309" y1="57.69" x2="310.4" y2="57.69" stroke="#2e4a18" stroke-width="0.35" />
<line x1="317.9" y1="45.74" x2="317.9" y2="41.76" stroke="#2e4a18" stroke-width="0.35" />
<line x1="317.2" y1="45.74" x2="318.6" y2="45.74" stroke="#2e4a18" stroke-width="0.35" />
<line x1="317.2" y1="41.76" x2="318.6" y2="41.76" stroke="#2e4a18" stroke-width="0.35" />
<line x1="326.1" y1="40.76" x2="326.1" y2="37.77" stroke="#2e4a18" stroke-width="0.35" />
<line x1="325.4" y1="40.76" x2="326.8" y2="40.76" stroke="#2e4a18" stroke-width="0.35" />
<line x1="325.4" y1="37.77" x2="326.8" y2="37.77" stroke="#2e4a18" stroke-width="0.35" />
<line x1="334.3" y1="37.77" x2="334.3" y2="35.78" stroke="#2e4a18" stroke-width="0.35" />
<line x1="333.6" y1="37.77" x2="335" y2="37.77" stroke="#2e4a18" stroke-width="0.35" />
<line x1="333.6" y1="35.78" x2="335" y2="35.78" stroke="#2e4a18" stroke-width="0.35" />
<line x1="276.9" y1="82.59" x2="276.9" y2="79.61" stroke="#000" stroke-width="0.35" />
<line x1="276.2" y1="82.59" x2="277.6" y2="82.59" stroke="#000" stroke-width="0.35" />
<line x1="276.2" y1="79.61" x2="277.6" y2="79.61" stroke="#000" stroke-width="0.35" />
<line x1="285.1" y1="81.6" x2="285.1" y2="78.61" stroke="#000" stroke-width="0.35" />
<line x1="284.4" y1="81.6" x2="285.8" y2="81.6" stroke="#000" stroke-width="0.35" />
<line x1="284.4" y1="78.61" x2="285.8" y2="78.61" stroke="#000" stroke-width="0.35" />
<line x1="293.3" y1="80.1" x2="293.3" y2="78.11" stroke="#000" stroke-width="0.35" />
<line x1="292.6" y1="80.1" x2="294" y2="80.1" stroke="#000" stroke-width="0.35" />
<line x1="292.6" y1="78.11" x2="294" y2="78.11" stroke="#000" stroke-width="0.35" />
<line x1="301.5" y1="77.61" x2="301.5" y2="76.62" stroke="#000" stroke-width="0.35" />
<line x1="300.8" y1="77.61" x2="302.2" y2="77.61" stroke="#000" stroke-width="0.35" />
<line x1="300.8" y1="76.62" x2="302.2" y2="76.62" stroke="#000" stroke-width="0.35" />
<line x1="309.7" y1="77.61" x2="309.7" y2="76.62" stroke="#000" stroke-width="0.35" />
<line x1="309" y1="77.61" x2="310.4" y2="77.61" stroke="#000" stroke-width="0.35" />
<line x1="309" y1="76.62" x2="310.4" y2="76.62" stroke="#000" stroke-width="0.35" />
<line x1="317.9" y1="71.64" x2="317.9" y2="70.64" stroke="#000" stroke-width="0.35" />
<line x1="317.2" y1="71.64" x2="318.6" y2="71.64" stroke="#000" stroke-width="0.35" />
<line x1="317.2" y1="70.64" x2="318.6" y2="70.64" stroke="#000" stroke-width="0.35" />
<line x1="326.1" y1="69.65" x2="326.1" y2="68.65" stroke="#000" stroke-width="0.35" />
<line x1="325.4" y1="69.65" x2="326.8" y2="69.65" stroke="#000" stroke-width="0.35" />
<line x1="325.4" y1="68.65" x2="326.8" y2="68.65" stroke="#000" stroke-width="0.35" />
<line x1="334.3" y1="60.18" x2="334.3" y2="59.19" stroke="#000" stroke-width="0.35" />
<line x1="333.6" y1="60.18" x2="335" y2="60.18" stroke="#000" stroke-width="0.35" />
<line x1="333.6" y1="59.19" x2="335" y2="59.19" stroke="#000" stroke-width="0.35" />
<polyline points="276.9,81.1 285.1,73.13 293.3,68.15 301.5,63.17 309.7,59.19 317.9,43.75 326.1,39.27 334.3,36.78" fill="none" stroke="#56683f" stroke-width="0.45" stroke-linejoin="round" />
<polyline points="276.9,81.1 285.1,80.1 293.3,79.11 301.5,77.12 309.7,77.12 317.9,71.14 326.1,69.15 334.3,59.69" fill="none" stroke="#000" stroke-width="0.55" stroke-linejoin="round" />
<circle cx="276.9" cy="81.1" r="1" fill="#1d2b10"/>
<circle cx="285.1" cy="73.13" r="1" fill="#1d2b10"/>
<circle cx="293.3" cy="68.15" r="1" fill="#1d2b10"/>
<circle cx="301.5" cy="63.17" r="1" fill="#1d2b10"/>
<circle cx="309.7" cy="59.19" r="1" fill="#1d2b10"/>
<circle cx="317.9" cy="43.75" r="1" fill="#1d2b10"/>
<circle cx="326.1" cy="39.27" r="1" fill="#1d2b10"/>
<circle cx="334.3" cy="36.78" r="1" fill="#1d2b10"/>
<rect x="275.85" y="80.05" width="2.1" height="2.1" fill="#000" />
<rect x="284.05" y="79.05" width="2.1" height="2.1" fill="#000" />
<rect x="292.25" y="78.06" width="2.1" height="2.1" fill="#000" />
<rect x="300.45" y="76.07" width="2.1" height="2.1" fill="#000" />
<rect x="308.65" y="76.07" width="2.1" height="2.1" fill="#000" />
<rect x="316.85" y="70.09" width="2.1" height="2.1" fill="#000" />
<rect x="325.05" y="68.1" width="2.1" height="2.1" fill="#000" />
<rect x="333.25" y="58.64" width="2.1" height="2.1" fill="#000" />
<line x1="358.5" y1="33" x2="358.5" y2="92.88" stroke="#000" stroke-width="0.55" />
<line x1="356.3" y1="92.88" x2="358.5" y2="92.88" stroke="#000" stroke-width="0.45" />
<text transform="translate(354.8 94.58)" font-size="4.9" text-anchor="end" fill="#000" >-20</text>
<line x1="357.2" y1="87.89" x2="358.5" y2="87.89" stroke="#000" stroke-width="0.45" />
<line x1="356.3" y1="82.9" x2="358.5" y2="82.9" stroke="#000" stroke-width="0.45" />
<text transform="translate(354.8 84.6)" font-size="4.9" text-anchor="end" fill="#000" >0</text>
<line x1="357.2" y1="77.91" x2="358.5" y2="77.91" stroke="#000" stroke-width="0.45" />
<line x1="356.3" y1="72.92" x2="358.5" y2="72.92" stroke="#000" stroke-width="0.45" />
<text transform="translate(354.8 74.62)" font-size="4.9" text-anchor="end" fill="#000" >20</text>
<line x1="357.2" y1="67.93" x2="358.5" y2="67.93" stroke="#000" stroke-width="0.45" />
<line x1="356.3" y1="62.94" x2="358.5" y2="62.94" stroke="#000" stroke-width="0.45" />
<text transform="translate(354.8 64.64)" font-size="4.9" text-anchor="end" fill="#000" >40</text>
<line x1="357.2" y1="57.95" x2="358.5" y2="57.95" stroke="#000" stroke-width="0.45" />
<line x1="356.3" y1="52.96" x2="358.5" y2="52.96" stroke="#000" stroke-width="0.45" />
<text transform="translate(354.8 54.66)" font-size="4.9" text-anchor="end" fill="#000" >60</text>
<line x1="357.2" y1="47.97" x2="358.5" y2="47.97" stroke="#000" stroke-width="0.45" />
<line x1="356.3" y1="42.98" x2="358.5" y2="42.98" stroke="#000" stroke-width="0.45" />
<text transform="translate(354.8 44.68)" font-size="4.9" text-anchor="end" fill="#000" >80</text>
<line x1="357.2" y1="37.99" x2="358.5" y2="37.99" stroke="#000" stroke-width="0.45" />
<line x1="356.3" y1="33" x2="358.5" y2="33" stroke="#000" stroke-width="0.45" />
<text transform="translate(354.8 34.7)" font-size="4.9" text-anchor="end" fill="#000" >100</text>
<line x1="358.5" y1="75.42" x2="424.5" y2="75.42" stroke="#222" stroke-width="0.6" />
<line x1="362.7" y1="75.42" x2="362.7" y2="77.42" stroke="#222" stroke-width="0.45" />
<text transform="translate(363.6 78.92) rotate(-45)" font-size="3.9" text-anchor="end" fill="#111" >0:1</text>
<line x1="370.9" y1="75.42" x2="370.9" y2="77.42" stroke="#222" stroke-width="0.45" />
<text transform="translate(371.8 78.92) rotate(-45)" font-size="3.9" text-anchor="end" fill="#111" >0.05:1</text>
<line x1="379.1" y1="75.42" x2="379.1" y2="77.42" stroke="#222" stroke-width="0.45" />
<text transform="translate(380 78.92) rotate(-45)" font-size="3.9" text-anchor="end" fill="#111" >0.1:1</text>
<line x1="387.3" y1="75.42" x2="387.3" y2="77.42" stroke="#222" stroke-width="0.45" />
<text transform="translate(388.2 78.92) rotate(-45)" font-size="3.9" text-anchor="end" fill="#111" >0.2:1</text>
<line x1="395.5" y1="75.42" x2="395.5" y2="77.42" stroke="#222" stroke-width="0.45" />
<text transform="translate(396.4 78.92) rotate(-45)" font-size="3.9" text-anchor="end" fill="#111" >0.33:1</text>
<line x1="403.7" y1="75.42" x2="403.7" y2="77.42" stroke="#222" stroke-width="0.45" />
<text transform="translate(404.6 78.92) rotate(-45)" font-size="3.9" text-anchor="end" fill="#111" >1:1</text>
<line x1="411.9" y1="75.42" x2="411.9" y2="77.42" stroke="#222" stroke-width="0.45" />
<text transform="translate(412.8 78.92) rotate(-45)" font-size="3.9" text-anchor="end" fill="#111" >3:1</text>
<line x1="420.1" y1="75.42" x2="420.1" y2="77.42" stroke="#222" stroke-width="0.45" />
<text transform="translate(421 78.92) rotate(-45)" font-size="3.9" text-anchor="end" fill="#111" >10:1</text>
<text transform="translate(391.5 25.4)" font-size="4.5" text-anchor="middle" fill="#000" >Daudi</text>
<text transform="translate(392 100.48)" font-size="4.6" text-anchor="middle" fill="#000" >E:T ratio</text>
<line x1="362.7" y1="80.41" x2="362.7" y2="70.43" stroke="#2e4a18" stroke-width="0.35" />
<line x1="362" y1="80.41" x2="363.4" y2="80.41" stroke="#2e4a18" stroke-width="0.35" />
<line x1="362" y1="70.43" x2="363.4" y2="70.43" stroke="#2e4a18" stroke-width="0.35" />
<line x1="370.9" y1="78.91" x2="370.9" y2="70.92" stroke="#2e4a18" stroke-width="0.35" />
<line x1="370.2" y1="78.91" x2="371.6" y2="78.91" stroke="#2e4a18" stroke-width="0.35" />
<line x1="370.2" y1="70.92" x2="371.6" y2="70.92" stroke="#2e4a18" stroke-width="0.35" />
<line x1="379.1" y1="78.41" x2="379.1" y2="73.42" stroke="#2e4a18" stroke-width="0.35" />
<line x1="378.4" y1="78.41" x2="379.8" y2="78.41" stroke="#2e4a18" stroke-width="0.35" />
<line x1="378.4" y1="73.42" x2="379.8" y2="73.42" stroke="#2e4a18" stroke-width="0.35" />
<line x1="387.3" y1="75.42" x2="387.3" y2="69.43" stroke="#2e4a18" stroke-width="0.35" />
<line x1="386.6" y1="75.42" x2="388" y2="75.42" stroke="#2e4a18" stroke-width="0.35" />
<line x1="386.6" y1="69.43" x2="388" y2="69.43" stroke="#2e4a18" stroke-width="0.35" />
<line x1="395.5" y1="70.43" x2="395.5" y2="65.44" stroke="#2e4a18" stroke-width="0.35" />
<line x1="394.8" y1="70.43" x2="396.2" y2="70.43" stroke="#2e4a18" stroke-width="0.35" />
<line x1="394.8" y1="65.44" x2="396.2" y2="65.44" stroke="#2e4a18" stroke-width="0.35" />
<line x1="403.7" y1="59.95" x2="403.7" y2="57.95" stroke="#2e4a18" stroke-width="0.35" />
<line x1="403" y1="59.95" x2="404.4" y2="59.95" stroke="#2e4a18" stroke-width="0.35" />
<line x1="403" y1="57.95" x2="404.4" y2="57.95" stroke="#2e4a18" stroke-width="0.35" />
<line x1="411.9" y1="44.48" x2="411.9" y2="42.48" stroke="#2e4a18" stroke-width="0.35" />
<line x1="411.2" y1="44.48" x2="412.6" y2="44.48" stroke="#2e4a18" stroke-width="0.35" />
<line x1="411.2" y1="42.48" x2="412.6" y2="42.48" stroke="#2e4a18" stroke-width="0.35" />
<line x1="420.1" y1="44.98" x2="420.1" y2="39.99" stroke="#2e4a18" stroke-width="0.35" />
<line x1="419.4" y1="44.98" x2="420.8" y2="44.98" stroke="#2e4a18" stroke-width="0.35" />
<line x1="419.4" y1="39.99" x2="420.8" y2="39.99" stroke="#2e4a18" stroke-width="0.35" />
<line x1="362.7" y1="83.4" x2="362.7" y2="67.43" stroke="#000" stroke-width="0.35" />
<line x1="362" y1="83.4" x2="363.4" y2="83.4" stroke="#000" stroke-width="0.35" />
<line x1="362" y1="67.43" x2="363.4" y2="67.43" stroke="#000" stroke-width="0.35" />
<line x1="370.9" y1="76.41" x2="370.9" y2="67.43" stroke="#000" stroke-width="0.35" />
<line x1="370.2" y1="76.41" x2="371.6" y2="76.41" stroke="#000" stroke-width="0.35" />
<line x1="370.2" y1="67.43" x2="371.6" y2="67.43" stroke="#000" stroke-width="0.35" />
<line x1="379.1" y1="89.39" x2="379.1" y2="75.42" stroke="#000" stroke-width="0.35" />
<line x1="378.4" y1="89.39" x2="379.8" y2="89.39" stroke="#000" stroke-width="0.35" />
<line x1="378.4" y1="75.42" x2="379.8" y2="75.42" stroke="#000" stroke-width="0.35" />
<line x1="387.3" y1="88.89" x2="387.3" y2="74.92" stroke="#000" stroke-width="0.35" />
<line x1="386.6" y1="88.89" x2="388" y2="88.89" stroke="#000" stroke-width="0.35" />
<line x1="386.6" y1="74.92" x2="388" y2="74.92" stroke="#000" stroke-width="0.35" />
<line x1="395.5" y1="87.89" x2="395.5" y2="77.91" stroke="#000" stroke-width="0.35" />
<line x1="394.8" y1="87.89" x2="396.2" y2="87.89" stroke="#000" stroke-width="0.35" />
<line x1="394.8" y1="77.91" x2="396.2" y2="77.91" stroke="#000" stroke-width="0.35" />
<line x1="403.7" y1="92.88" x2="403.7" y2="90.88" stroke="#000" stroke-width="0.35" />
<line x1="403" y1="92.88" x2="404.4" y2="92.88" stroke="#000" stroke-width="0.35" />
<line x1="403" y1="90.88" x2="404.4" y2="90.88" stroke="#000" stroke-width="0.35" />
<line x1="411.9" y1="90.39" x2="411.9" y2="82.4" stroke="#000" stroke-width="0.35" />
<line x1="411.2" y1="90.39" x2="412.6" y2="90.39" stroke="#000" stroke-width="0.35" />
<line x1="411.2" y1="82.4" x2="412.6" y2="82.4" stroke="#000" stroke-width="0.35" />
<line x1="420.1" y1="81.9" x2="420.1" y2="71.92" stroke="#000" stroke-width="0.35" />
<line x1="419.4" y1="81.9" x2="420.8" y2="81.9" stroke="#000" stroke-width="0.35" />
<line x1="419.4" y1="71.92" x2="420.8" y2="71.92" stroke="#000" stroke-width="0.35" />
<polyline points="362.7,75.42 370.9,74.92 379.1,75.91 387.3,72.42 395.5,67.93 403.7,58.95 411.9,43.48 420.1,42.48" fill="none" stroke="#56683f" stroke-width="0.45" stroke-linejoin="round" />
<polyline points="362.7,75.42 370.9,71.92 379.1,82.4 387.3,81.9 395.5,82.9 403.7,91.88 411.9,86.39 420.1,76.91" fill="none" stroke="#000" stroke-width="0.55" stroke-linejoin="round" />
<circle cx="362.7" cy="75.42" r="1" fill="#1d2b10"/>
<circle cx="370.9" cy="74.92" r="1" fill="#1d2b10"/>
<circle cx="379.1" cy="75.91" r="1" fill="#1d2b10"/>
<circle cx="387.3" cy="72.42" r="1" fill="#1d2b10"/>
<circle cx="395.5" cy="67.93" r="1" fill="#1d2b10"/>
<circle cx="403.7" cy="58.95" r="1" fill="#1d2b10"/>
<circle cx="411.9" cy="43.48" r="1" fill="#1d2b10"/>
<circle cx="420.1" cy="42.48" r="1" fill="#1d2b10"/>
<rect x="361.65" y="74.37" width="2.1" height="2.1" fill="#000" />
<rect x="369.85" y="70.87" width="2.1" height="2.1" fill="#000" />
<rect x="378.05" y="81.35" width="2.1" height="2.1" fill="#000" />
<rect x="386.25" y="80.85" width="2.1" height="2.1" fill="#000" />
<rect x="394.45" y="81.85" width="2.1" height="2.1" fill="#000" />
<rect x="402.65" y="90.83" width="2.1" height="2.1" fill="#000" />
<rect x="410.85" y="85.34" width="2.1" height="2.1" fill="#000" />
<rect x="419.05" y="75.86" width="2.1" height="2.1" fill="#000" />
<line x1="448.5" y1="21.9" x2="448.5" y2="81.25" stroke="#000" stroke-width="0.55" />
<line x1="448.5" y1="81.25" x2="515.5" y2="81.25" stroke="#000" stroke-width="0.55" />
<line x1="445.7" y1="81.25" x2="448.5" y2="81.25" stroke="#000" stroke-width="0.45" />
<text transform="translate(444.1 82.95) scale(0.9 1)" font-size="4.8" text-anchor="end" fill="#000" >0</text>
<line x1="445.7" y1="69.38" x2="448.5" y2="69.38" stroke="#000" stroke-width="0.45" />
<text transform="translate(444.1 71.08) scale(0.9 1)" font-size="4.8" text-anchor="end" fill="#000" >200</text>
<line x1="445.7" y1="57.51" x2="448.5" y2="57.51" stroke="#000" stroke-width="0.45" />
<text transform="translate(444.1 59.21) scale(0.9 1)" font-size="4.8" text-anchor="end" fill="#000" >400</text>
<line x1="445.7" y1="45.64" x2="448.5" y2="45.64" stroke="#000" stroke-width="0.45" />
<text transform="translate(444.1 47.34) scale(0.9 1)" font-size="4.8" text-anchor="end" fill="#000" >600</text>
<line x1="445.7" y1="33.77" x2="448.5" y2="33.77" stroke="#000" stroke-width="0.45" />
<text transform="translate(444.1 35.47) scale(0.9 1)" font-size="4.8" text-anchor="end" fill="#000" >800</text>
<line x1="445.7" y1="21.9" x2="448.5" y2="21.9" stroke="#000" stroke-width="0.45" />
<text transform="translate(444.1 23.6) scale(0.9 1)" font-size="4.8" text-anchor="end" fill="#000" >1,000</text>
<text transform="translate(433.2 51.88) rotate(-90) scale(1 1)" font-size="4.9" text-anchor="middle" fill="#222" >AUC ± SD</text>
<line x1="454" y1="81.25" x2="454" y2="83.05" stroke="#000" stroke-width="0.45" />
<line x1="451.85" y1="64.63" x2="451.85" y2="67.01" stroke="#222" stroke-width="0.45" />
<line x1="450.85" y1="64.63" x2="452.85" y2="64.63" stroke="#222" stroke-width="0.45" />
<line x1="450.85" y1="67.01" x2="452.85" y2="67.01" stroke="#222" stroke-width="0.45" />
<line x1="456.75" y1="71.75" x2="456.75" y2="73.53" stroke="#000" stroke-width="0.45" />
<line x1="455.75" y1="71.75" x2="457.75" y2="71.75" stroke="#000" stroke-width="0.45" />
<line x1="455.75" y1="73.53" x2="457.75" y2="73.53" stroke="#000" stroke-width="0.45" />
<rect x="450.35" y="67.01" width="3" height="14.24" fill="#5d8d39" stroke="#36591f" stroke-width="0.6" />
<line x1="451.35" y1="67.41" x2="451.35" y2="81.25" stroke="#48712a" stroke-width="0.25" />
<line x1="452.35" y1="67.41" x2="452.35" y2="81.25" stroke="#48712a" stroke-width="0.25" />
<rect x="455" y="73.53" width="3.5" height="7.72" fill="#000" />
<circle cx="451.85" cy="67.58" r="0.55" fill="#333"/>
<circle cx="451.85" cy="66.58" r="0.55" fill="#333"/>
<circle cx="451.85" cy="66.01" r="0.55" fill="#333"/>
<line x1="452" y1="30.9" x2="456.6" y2="30.9" stroke="#000" stroke-width="0.5" />
<text transform="translate(454.2 27.2)" font-size="4.4" text-anchor="middle" fill="#000" >ns</text>
<text transform="translate(455.8 87.25) rotate(-45) scale(0.95 1)" font-size="4.9" text-anchor="end" fill="#000" >K562</text>
<line x1="467" y1="81.25" x2="467" y2="83.05" stroke="#000" stroke-width="0.45" />
<line x1="464.85" y1="51.87" x2="464.85" y2="54.25" stroke="#222" stroke-width="0.45" />
<line x1="463.85" y1="51.87" x2="465.85" y2="51.87" stroke="#222" stroke-width="0.45" />
<line x1="463.85" y1="54.25" x2="465.85" y2="54.25" stroke="#222" stroke-width="0.45" />
<line x1="469.75" y1="70.86" x2="469.75" y2="74.13" stroke="#000" stroke-width="0.45" />
<line x1="468.75" y1="70.86" x2="470.75" y2="70.86" stroke="#000" stroke-width="0.45" />
<line x1="468.75" y1="74.13" x2="470.75" y2="74.13" stroke="#000" stroke-width="0.45" />
<rect x="463.35" y="54.25" width="3" height="27" fill="#5d8d39" stroke="#36591f" stroke-width="0.6" />
<line x1="464.35" y1="54.65" x2="464.35" y2="81.25" stroke="#48712a" stroke-width="0.25" />
<line x1="465.35" y1="54.65" x2="465.35" y2="81.25" stroke="#48712a" stroke-width="0.25" />
<rect x="468" y="74.13" width="3.5" height="7.12" fill="#000" />
<circle cx="464.85" cy="55.33" r="0.55" fill="#333"/>
<circle cx="464.85" cy="53.44" r="0.55" fill="#333"/>
<circle cx="464.85" cy="52.36" r="0.55" fill="#333"/>
<line x1="465" y1="30.9" x2="469.6" y2="30.9" stroke="#000" stroke-width="0.5" />
<text transform="translate(467.2 30.88)" font-size="6.4" text-anchor="middle" fill="#000" font-weight="bold" letter-spacing="0" stroke="#000" stroke-width="0.3">*</text>
<text transform="translate(468.8 87.25) rotate(-45) scale(0.95 1)" font-size="4.9" text-anchor="end" fill="#000" >K562-BCMA</text>
<line x1="480.4" y1="81.25" x2="480.4" y2="83.05" stroke="#000" stroke-width="0.45" />
<line x1="478.25" y1="39.11" x2="478.25" y2="44.45" stroke="#222" stroke-width="0.45" />
<line x1="477.25" y1="39.11" x2="479.25" y2="39.11" stroke="#222" stroke-width="0.45" />
<line x1="477.25" y1="44.45" x2="479.25" y2="44.45" stroke="#222" stroke-width="0.45" />
<line x1="483.15" y1="65.52" x2="483.15" y2="70.86" stroke="#000" stroke-width="0.45" />
<line x1="482.15" y1="65.52" x2="484.15" y2="65.52" stroke="#000" stroke-width="0.45" />
<line x1="482.15" y1="70.86" x2="484.15" y2="70.86" stroke="#000" stroke-width="0.45" />
<rect x="476.75" y="44.45" width="3" height="36.8" fill="#5d8d39" stroke="#36591f" stroke-width="0.6" />
<line x1="477.75" y1="44.85" x2="477.75" y2="81.25" stroke="#48712a" stroke-width="0.25" />
<line x1="478.75" y1="44.85" x2="478.75" y2="81.25" stroke="#48712a" stroke-width="0.25" />
<rect x="481.4" y="70.86" width="3.5" height="10.39" fill="#000" />
<circle cx="478.25" cy="45.92" r="0.55" fill="#333"/>
<circle cx="478.25" cy="43.35" r="0.55" fill="#333"/>
<circle cx="478.25" cy="41.88" r="0.55" fill="#333"/>
<line x1="478.4" y1="30.9" x2="483" y2="30.9" stroke="#000" stroke-width="0.5" />
<text transform="translate(480.6 30.88)" font-size="6.4" text-anchor="middle" fill="#000" font-weight="bold" letter-spacing="0" stroke="#000" stroke-width="0.3">***</text>
<text transform="translate(482.2 87.25) rotate(-45) scale(0.95 1)" font-size="4.9" text-anchor="end" fill="#000" >MM.1S</text>
<line x1="494.2" y1="81.25" x2="494.2" y2="83.05" stroke="#000" stroke-width="0.45" />
<line x1="492.05" y1="38.52" x2="492.05" y2="44.16" stroke="#222" stroke-width="0.45" />
<line x1="491.05" y1="38.52" x2="493.05" y2="38.52" stroke="#222" stroke-width="0.45" />
<line x1="491.05" y1="44.16" x2="493.05" y2="44.16" stroke="#222" stroke-width="0.45" />
<line x1="496.95" y1="66.12" x2="496.95" y2="67.9" stroke="#000" stroke-width="0.45" />
<line x1="495.95" y1="66.12" x2="497.95" y2="66.12" stroke="#000" stroke-width="0.45" />
<line x1="495.95" y1="67.9" x2="497.95" y2="67.9" stroke="#000" stroke-width="0.45" />
<rect x="490.55" y="44.16" width="3" height="37.09" fill="#5d8d39" stroke="#36591f" stroke-width="0.6" />
<line x1="491.55" y1="44.56" x2="491.55" y2="81.25" stroke="#48712a" stroke-width="0.25" />
<line x1="492.55" y1="44.56" x2="492.55" y2="81.25" stroke="#48712a" stroke-width="0.25" />
<rect x="495.2" y="67.9" width="3.5" height="13.35" fill="#000" />
<circle cx="492.05" cy="45.64" r="0.55" fill="#333"/>
<circle cx="492.05" cy="43.04" r="0.55" fill="#333"/>
<circle cx="492.05" cy="41.56" r="0.55" fill="#333"/>
<line x1="492.2" y1="30.9" x2="496.8" y2="30.9" stroke="#000" stroke-width="0.5" />
<text transform="translate(494.4 30.88)" font-size="6.4" text-anchor="middle" fill="#000" font-weight="bold" letter-spacing="0" stroke="#000" stroke-width="0.3">**</text>
<text transform="translate(496 87.25) rotate(-45) scale(0.95 1)" font-size="4.9" text-anchor="end" fill="#000" >NCI-H929</text>
<line x1="507.8" y1="81.25" x2="507.8" y2="83.05" stroke="#000" stroke-width="0.45" />
<line x1="505.65" y1="41.78" x2="505.65" y2="45.64" stroke="#222" stroke-width="0.45" />
<line x1="504.65" y1="41.78" x2="506.65" y2="41.78" stroke="#222" stroke-width="0.45" />
<line x1="504.65" y1="45.64" x2="506.65" y2="45.64" stroke="#222" stroke-width="0.45" />
<line x1="510.55" y1="74.72" x2="510.55" y2="77.39" stroke="#000" stroke-width="0.45" />
<line x1="509.55" y1="74.72" x2="511.55" y2="74.72" stroke="#000" stroke-width="0.45" />
<line x1="509.55" y1="77.39" x2="511.55" y2="77.39" stroke="#000" stroke-width="0.45" />
<rect x="504.15" y="45.64" width="3" height="35.61" fill="#5d8d39" stroke="#36591f" stroke-width="0.6" />
<line x1="505.15" y1="46.04" x2="505.15" y2="81.25" stroke="#48712a" stroke-width="0.25" />
<line x1="506.15" y1="46.04" x2="506.15" y2="81.25" stroke="#48712a" stroke-width="0.25" />
<rect x="508.8" y="77.39" width="3.5" height="3.86" fill="#000" />
<circle cx="505.65" cy="47.06" r="0.55" fill="#333"/>
<circle cx="505.65" cy="44.57" r="0.55" fill="#333"/>
<circle cx="505.65" cy="43.15" r="0.55" fill="#333"/>
<line x1="505.8" y1="30.9" x2="510.4" y2="30.9" stroke="#000" stroke-width="0.5" />
<text transform="translate(508 30.88)" font-size="6.4" text-anchor="middle" fill="#000" font-weight="bold" letter-spacing="0" stroke="#000" stroke-width="0.3">****</text>
<text transform="translate(509.6 87.25) rotate(-45) scale(0.95 1)" font-size="4.9" text-anchor="end" fill="#000" >Daudi</text>
<line x1="22.1" y1="134.2" x2="22.1" y2="188" stroke="#000" stroke-width="0.55" />
<line x1="22.1" y1="188" x2="83" y2="188" stroke="#000" stroke-width="0.55" />
<line x1="19.9" y1="188" x2="22.1" y2="188" stroke="#000" stroke-width="0.45" />
<text transform="translate(19 189.7) scale(0.93 1)" font-size="5" text-anchor="end" fill="#000" >0</text>
<line x1="19.9" y1="174.55" x2="22.1" y2="174.55" stroke="#000" stroke-width="0.45" />
<text transform="translate(19 176.25) scale(0.93 1)" font-size="5" text-anchor="end" fill="#000" >500</text>
<line x1="19.9" y1="161.1" x2="22.1" y2="161.1" stroke="#000" stroke-width="0.45" />
<text transform="translate(19 162.8) scale(0.93 1)" font-size="5" text-anchor="end" fill="#000" >1,000</text>
<line x1="19.9" y1="147.65" x2="22.1" y2="147.65" stroke="#000" stroke-width="0.45" />
<text transform="translate(19 149.35) scale(0.93 1)" font-size="5" text-anchor="end" fill="#000" >1,500</text>
<line x1="19.9" y1="134.2" x2="22.1" y2="134.2" stroke="#000" stroke-width="0.45" />
<text transform="translate(19 135.9) scale(0.93 1)" font-size="5" text-anchor="end" fill="#000" >2,000</text>
<text transform="translate(4.9 156.5) rotate(-90) scale(0.93 1)" font-size="4.8" text-anchor="middle" fill="#000" >IL2 (pg/mL)</text>
<text transform="translate(51.8 118.8) scale(0.93 1)" font-size="4.6" text-anchor="middle" fill="#000" >IL2</text>
<line x1="26.3" y1="188" x2="26.3" y2="189.8" stroke="#000" stroke-width="0.45" />
<circle cx="23.8" cy="187.6" r="0.65" fill="#444"/>
<circle cx="25.1" cy="187.6" r="0.65" fill="#444"/>
<circle cx="27.5" cy="187.6" r="0.65" fill="#444"/>
<circle cx="28.8" cy="187.6" r="0.65" fill="#444"/>
<text transform="translate(28 191.6) rotate(-90) scale(0.98 1)" font-size="5.2" text-anchor="end" fill="#000" >K562</text>
<line x1="36.4" y1="188" x2="36.4" y2="189.8" stroke="#000" stroke-width="0.45" />
<rect x="33.5" y="155.72" width="2.1" height="32.28" fill="#3f6226" stroke="#2b4419" stroke-width="0.45" />
<circle cx="34.55" cy="155.22" r="0.65" fill="#2a2a2a"/>
<circle cx="34.55" cy="156.82" r="0.55" fill="#34432a"/>
<circle cx="37.6" cy="187.6" r="0.65" fill="#444"/>
<circle cx="38.9" cy="187.6" r="0.65" fill="#444"/>
<path d="M34.55 149.5V146.1H38.25V149.5" fill="none" stroke="#111" stroke-width="0.6" />
<text transform="translate(36.4 145.99)" font-size="5.7" text-anchor="middle" fill="#000" font-weight="bold" letter-spacing="0" stroke="#000" stroke-width="0.18">****</text>
<text transform="translate(38.1 191.6) rotate(-90) scale(0.98 1)" font-size="5.2" text-anchor="end" fill="#000" >K562-BCMA</text>
<line x1="46.9" y1="188" x2="46.9" y2="189.8" stroke="#000" stroke-width="0.45" />
<rect x="44" y="162.98" width="2.1" height="25.02" fill="#3f6226" stroke="#2b4419" stroke-width="0.45" />
<circle cx="45.05" cy="162.48" r="0.65" fill="#2a2a2a"/>
<circle cx="45.05" cy="164.08" r="0.55" fill="#34432a"/>
<circle cx="48.1" cy="187.6" r="0.65" fill="#444"/>
<circle cx="49.4" cy="187.6" r="0.65" fill="#444"/>
<path d="M45.05 138.9V135.5H48.75V138.9" fill="none" stroke="#111" stroke-width="0.6" />
<text transform="translate(46.9 135.39)" font-size="5.7" text-anchor="middle" fill="#000" font-weight="bold" letter-spacing="0" stroke="#000" stroke-width="0.18">****</text>
<text transform="translate(48.6 191.6) rotate(-90) scale(0.98 1)" font-size="5.2" text-anchor="end" fill="#000" >MM.1S</text>
<line x1="56.8" y1="188" x2="56.8" y2="189.8" stroke="#000" stroke-width="0.45" />
<rect x="53.9" y="162.44" width="2.1" height="25.56" fill="#3f6226" stroke="#2b4419" stroke-width="0.45" />
<circle cx="54.95" cy="161.94" r="0.65" fill="#2a2a2a"/>
<circle cx="54.95" cy="163.54" r="0.55" fill="#34432a"/>
<circle cx="58" cy="187.6" r="0.65" fill="#444"/>
<circle cx="59.3" cy="187.6" r="0.65" fill="#444"/>
<path d="M54.95 149.5V146.1H58.65V149.5" fill="none" stroke="#111" stroke-width="0.6" />
<text transform="translate(56.8 145.99)" font-size="5.7" text-anchor="middle" fill="#000" font-weight="bold" letter-spacing="0" stroke="#000" stroke-width="0.18">****</text>
<text transform="translate(58.5 191.6) rotate(-90) scale(0.98 1)" font-size="5.2" text-anchor="end" fill="#000" >NCI-H929</text>
<line x1="67" y1="188" x2="67" y2="189.8" stroke="#000" stroke-width="0.45" />
<rect x="64.1" y="144.96" width="2.1" height="43.04" fill="#3f6226" stroke="#2b4419" stroke-width="0.45" />
<circle cx="65.15" cy="144.46" r="0.65" fill="#2a2a2a"/>
<circle cx="65.15" cy="146.06" r="0.55" fill="#34432a"/>
<circle cx="68.2" cy="187.6" r="0.65" fill="#444"/>
<circle cx="69.5" cy="187.6" r="0.65" fill="#444"/>
<path d="M65.15 138V134.6H68.85V138" fill="none" stroke="#111" stroke-width="0.6" />
<text transform="translate(67 134.49)" font-size="5.7" text-anchor="middle" fill="#000" font-weight="bold" letter-spacing="0" stroke="#000" stroke-width="0.18">****</text>
<text transform="translate(68.7 191.6) rotate(-90) scale(0.98 1)" font-size="5.2" text-anchor="end" fill="#000" >Daudi</text>
<line x1="77.4" y1="188" x2="77.4" y2="189.8" stroke="#000" stroke-width="0.45" />
<circle cx="74.9" cy="187.6" r="0.65" fill="#444"/>
<circle cx="76.2" cy="187.6" r="0.65" fill="#444"/>
<circle cx="78.6" cy="187.6" r="0.65" fill="#444"/>
<circle cx="79.9" cy="187.6" r="0.65" fill="#444"/>
<text transform="translate(79.1 191.6) rotate(-90) scale(0.98 1)" font-size="5.2" text-anchor="end" fill="#000" >Effector only</text>
<line x1="108" y1="134.2" x2="108" y2="188" stroke="#000" stroke-width="0.55" />
<line x1="108" y1="188" x2="169" y2="188" stroke="#000" stroke-width="0.55" />
<line x1="105.8" y1="188" x2="108" y2="188" stroke="#000" stroke-width="0.45" />
<text transform="translate(104.9 189.7) scale(0.93 1)" font-size="5" text-anchor="end" fill="#000" >0</text>
<line x1="105.8" y1="174.55" x2="108" y2="174.55" stroke="#000" stroke-width="0.45" />
<text transform="translate(104.9 176.25) scale(0.93 1)" font-size="5" text-anchor="end" fill="#000" >1,000</text>
<line x1="105.8" y1="161.1" x2="108" y2="161.1" stroke="#000" stroke-width="0.45" />
<text transform="translate(104.9 162.8) scale(0.93 1)" font-size="5" text-anchor="end" fill="#000" >2,000</text>
<line x1="105.8" y1="147.65" x2="108" y2="147.65" stroke="#000" stroke-width="0.45" />
<text transform="translate(104.9 149.35) scale(0.93 1)" font-size="5" text-anchor="end" fill="#000" >3,000</text>
<line x1="105.8" y1="134.2" x2="108" y2="134.2" stroke="#000" stroke-width="0.45" />
<text transform="translate(104.9 135.9) scale(0.93 1)" font-size="5" text-anchor="end" fill="#000" >4,000</text>
<text transform="translate(90.4 158.8) rotate(-90) scale(0.93 1)" font-size="4.8" text-anchor="middle" fill="#000" >IFNγ (pg/mL)</text>
<text transform="translate(133.8 122.2) scale(0.93 1)" font-size="4.8" text-anchor="middle" fill="#000" >IFNγ</text>
<line x1="112.9" y1="188" x2="112.9" y2="189.8" stroke="#000" stroke-width="0.45" />
<circle cx="110.4" cy="187.6" r="0.65" fill="#444"/>
<circle cx="111.7" cy="187.6" r="0.65" fill="#444"/>
<circle cx="114.1" cy="187.6" r="0.65" fill="#444"/>
<circle cx="115.4" cy="187.6" r="0.65" fill="#444"/>
<text transform="translate(114.6 191.6) rotate(-90) scale(0.98 1)" font-size="5.2" text-anchor="end" fill="#000" >K562</text>
<line x1="123" y1="188" x2="123" y2="189.8" stroke="#000" stroke-width="0.45" />
<rect x="120.1" y="148.32" width="2.1" height="39.68" fill="#3f6226" stroke="#2b4419" stroke-width="0.45" />
<circle cx="121.15" cy="147.82" r="0.65" fill="#2a2a2a"/>
<circle cx="121.15" cy="149.42" r="0.55" fill="#34432a"/>
<circle cx="124.2" cy="187.6" r="0.65" fill="#444"/>
<circle cx="125.5" cy="187.6" r="0.65" fill="#444"/>
<circle cx="121.1" cy="142.27" r="0.6" fill="#333"/>
<path d="M121.15 138.7V135.3H124.85V138.7" fill="none" stroke="#111" stroke-width="0.6" />
<text transform="translate(123 135.19)" font-size="5.7" text-anchor="middle" fill="#000" font-weight="bold" letter-spacing="0" stroke="#000" stroke-width="0.18">****</text>
<text transform="translate(124.7 191.6) rotate(-90) scale(0.98 1)" font-size="5.2" text-anchor="end" fill="#000" >K562-BCMA</text>
<line x1="133.1" y1="188" x2="133.1" y2="189.8" stroke="#000" stroke-width="0.45" />
<rect x="130.2" y="159.08" width="2.1" height="28.92" fill="#3f6226" stroke="#2b4419" stroke-width="0.45" />
<circle cx="131.25" cy="158.58" r="0.65" fill="#2a2a2a"/>
<circle cx="131.25" cy="160.18" r="0.55" fill="#34432a"/>
<circle cx="134.3" cy="187.6" r="0.65" fill="#444"/>
<circle cx="135.6" cy="187.6" r="0.65" fill="#444"/>
<path d="M131.25 152.2V148.8H134.95V152.2" fill="none" stroke="#111" stroke-width="0.6" />
<text transform="translate(133.1 148.69)" font-size="5.7" text-anchor="middle" fill="#000" font-weight="bold" letter-spacing="0" stroke="#000" stroke-width="0.18">****</text>
<text transform="translate(134.8 191.6) rotate(-90) scale(0.98 1)" font-size="5.2" text-anchor="end" fill="#000" >MM.1S</text>
<line x1="143.3" y1="188" x2="143.3" y2="189.8" stroke="#000" stroke-width="0.45" />
<rect x="140.4" y="159.08" width="2.1" height="28.92" fill="#3f6226" stroke="#2b4419" stroke-width="0.45" />
<circle cx="141.45" cy="158.58" r="0.65" fill="#2a2a2a"/>
<circle cx="141.45" cy="160.18" r="0.55" fill="#34432a"/>
<circle cx="144.5" cy="187.6" r="0.65" fill="#444"/>
<circle cx="145.8" cy="187.6" r="0.65" fill="#444"/>
<path d="M141.45 152.2V148.8H145.15V152.2" fill="none" stroke="#111" stroke-width="0.6" />
<text transform="translate(143.3 148.69)" font-size="5.7" text-anchor="middle" fill="#000" font-weight="bold" letter-spacing="0" stroke="#000" stroke-width="0.18">****</text>
<text transform="translate(145 191.6) rotate(-90) scale(0.98 1)" font-size="5.2" text-anchor="end" fill="#000" >NCI-H929</text>
<line x1="153" y1="188" x2="153" y2="189.8" stroke="#000" stroke-width="0.45" />
<rect x="150.1" y="141.6" width="2.1" height="46.4" fill="#3f6226" stroke="#2b4419" stroke-width="0.45" />
<circle cx="151.15" cy="141.1" r="0.65" fill="#2a2a2a"/>
<circle cx="151.15" cy="142.7" r="0.55" fill="#34432a"/>
<circle cx="154.2" cy="187.6" r="0.65" fill="#444"/>
<circle cx="155.5" cy="187.6" r="0.65" fill="#444"/>
<circle cx="151.1" cy="136.89" r="0.6" fill="#333"/>
<path d="M151.15 133.5V130.1H154.85V133.5" fill="none" stroke="#111" stroke-width="0.6" />
<text transform="translate(153 129.99)" font-size="5.7" text-anchor="middle" fill="#000" font-weight="bold" letter-spacing="0" stroke="#000" stroke-width="0.18">****</text>
<text transform="translate(154.7 191.6) rotate(-90) scale(0.98 1)" font-size="5.2" text-anchor="end" fill="#000" >Daudi</text>
<line x1="163.4" y1="188" x2="163.4" y2="189.8" stroke="#000" stroke-width="0.45" />
<circle cx="160.9" cy="187.6" r="0.65" fill="#444"/>
<circle cx="162.2" cy="187.6" r="0.65" fill="#444"/>
<circle cx="164.6" cy="187.6" r="0.65" fill="#444"/>
<circle cx="165.9" cy="187.6" r="0.65" fill="#444"/>
<text transform="translate(165.1 191.6) rotate(-90) scale(0.98 1)" font-size="5.2" text-anchor="end" fill="#000" >Effector only</text>
<line x1="193.5" y1="134.2" x2="193.5" y2="188.2" stroke="#000" stroke-width="0.55" />
<line x1="193.5" y1="188.2" x2="254.4" y2="188.2" stroke="#000" stroke-width="0.55" />
<line x1="191.3" y1="188.2" x2="193.5" y2="188.2" stroke="#000" stroke-width="0.45" />
<text transform="translate(190.4 189.9) scale(0.93 1)" font-size="5" text-anchor="end" fill="#000" >0</text>
<line x1="191.3" y1="177.4" x2="193.5" y2="177.4" stroke="#000" stroke-width="0.45" />
<text transform="translate(190.4 179.1) scale(0.93 1)" font-size="5" text-anchor="end" fill="#000" >200</text>
<line x1="191.3" y1="166.6" x2="193.5" y2="166.6" stroke="#000" stroke-width="0.45" />
<text transform="translate(190.4 168.3) scale(0.93 1)" font-size="5" text-anchor="end" fill="#000" >400</text>
<line x1="191.3" y1="155.8" x2="193.5" y2="155.8" stroke="#000" stroke-width="0.45" />
<text transform="translate(190.4 157.5) scale(0.93 1)" font-size="5" text-anchor="end" fill="#000" >600</text>
<line x1="191.3" y1="145" x2="193.5" y2="145" stroke="#000" stroke-width="0.45" />
<text transform="translate(190.4 146.7) scale(0.93 1)" font-size="5" text-anchor="end" fill="#000" >800</text>
<line x1="191.3" y1="134.2" x2="193.5" y2="134.2" stroke="#000" stroke-width="0.45" />
<text transform="translate(190.4 135.9) scale(0.93 1)" font-size="5" text-anchor="end" fill="#000" >1,000</text>
<text transform="translate(176.7 160) rotate(-90) scale(0.93 1)" font-size="5" text-anchor="middle" fill="#000" >TNFα (pg/mL)</text>
<text transform="translate(223.95 124.6) scale(0.93 1)" font-size="4.9" text-anchor="middle" fill="#000" >TNFα</text>
<line x1="198.4" y1="188.2" x2="198.4" y2="190" stroke="#000" stroke-width="0.45" />
<rect x="195.5" y="181.72" width="2.1" height="6.48" fill="#3f6226" stroke="#2b4419" stroke-width="0.45" />
<circle cx="196.55" cy="181.22" r="0.65" fill="#2a2a2a"/>
<circle cx="196.55" cy="182.82" r="0.55" fill="#34432a"/>
<rect x="199" y="183.88" width="2.5" height="4.32" fill="#000" />
<circle cx="200.25" cy="183.38" r="0.65" fill="#1a1a1a"/>
<path d="M196.55 174.2V170.8H200.25V174.2" fill="none" stroke="#111" stroke-width="0.6" />
<text transform="translate(198.4 170.69)" font-size="5.7" text-anchor="middle" fill="#000" font-weight="bold" letter-spacing="0" stroke="#000" stroke-width="0.18">*</text>
<text transform="translate(200.1 191.8) rotate(-90) scale(0.98 1)" font-size="5.2" text-anchor="end" fill="#000" >K562</text>
<line x1="208.3" y1="188.2" x2="208.3" y2="190" stroke="#000" stroke-width="0.45" />
<rect x="205.4" y="172" width="2.1" height="16.2" fill="#3f6226" stroke="#2b4419" stroke-width="0.45" />
<circle cx="206.45" cy="171.5" r="0.65" fill="#2a2a2a"/>
<circle cx="206.45" cy="173.1" r="0.55" fill="#34432a"/>
<rect x="208.9" y="184.15" width="2.5" height="4.05" fill="#000" />
<circle cx="210.15" cy="183.65" r="0.65" fill="#1a1a1a"/>
<path d="M206.45 164.9V161.5H210.15V164.9" fill="none" stroke="#111" stroke-width="0.6" />
<text transform="translate(208.3 161.39)" font-size="5.7" text-anchor="middle" fill="#000" font-weight="bold" letter-spacing="0" stroke="#000" stroke-width="0.18">****</text>
<text transform="translate(210 191.8) rotate(-90) scale(0.98 1)" font-size="5.2" text-anchor="end" fill="#000" >K562-BCMA</text>
<line x1="218.5" y1="188.2" x2="218.5" y2="190" stroke="#000" stroke-width="0.45" />
<rect x="215.6" y="161.2" width="2.1" height="27" fill="#3f6226" stroke="#2b4419" stroke-width="0.45" />
<circle cx="216.65" cy="160.7" r="0.65" fill="#2a2a2a"/>
<circle cx="216.65" cy="162.3" r="0.55" fill="#34432a"/>
<rect x="219.1" y="183.34" width="2.5" height="4.86" fill="#000" />
<circle cx="220.35" cy="182.84" r="0.65" fill="#1a1a1a"/>
<path d="M216.65 153.5V150.1H220.35V153.5" fill="none" stroke="#111" stroke-width="0.6" />
<text transform="translate(218.5 149.99)" font-size="5.7" text-anchor="middle" fill="#000" font-weight="bold" letter-spacing="0" stroke="#000" stroke-width="0.18">****</text>
<text transform="translate(220.2 191.8) rotate(-90) scale(0.98 1)" font-size="5.2" text-anchor="end" fill="#000" >MM.1S</text>
<line x1="228.6" y1="188.2" x2="228.6" y2="190" stroke="#000" stroke-width="0.45" />
<rect x="225.7" y="159.04" width="2.1" height="29.16" fill="#3f6226" stroke="#2b4419" stroke-width="0.45" />
<circle cx="226.75" cy="158.54" r="0.65" fill="#2a2a2a"/>
<circle cx="226.75" cy="160.14" r="0.55" fill="#34432a"/>
<rect x="229.2" y="183.61" width="2.5" height="4.59" fill="#000" />
<circle cx="230.45" cy="183.11" r="0.65" fill="#1a1a1a"/>
<path d="M226.75 142.9V139.5H230.45V142.9" fill="none" stroke="#111" stroke-width="0.6" />
<text transform="translate(228.6 139.39)" font-size="5.7" text-anchor="middle" fill="#000" font-weight="bold" letter-spacing="0" stroke="#000" stroke-width="0.18">****</text>
<text transform="translate(230.3 191.8) rotate(-90) scale(0.98 1)" font-size="5.2" text-anchor="end" fill="#000" >NCI-H929</text>
<line x1="238.7" y1="188.2" x2="238.7" y2="190" stroke="#000" stroke-width="0.45" />
<rect x="235.8" y="139.6" width="2.1" height="48.6" fill="#3f6226" stroke="#2b4419" stroke-width="0.45" />
<circle cx="236.85" cy="139.1" r="0.65" fill="#2a2a2a"/>
<circle cx="236.85" cy="140.7" r="0.55" fill="#34432a"/>
<rect x="239.3" y="182.8" width="2.5" height="5.4" fill="#000" />
<circle cx="240.55" cy="182.3" r="0.65" fill="#1a1a1a"/>
<path d="M236.85 135.5V132.1H240.55V135.5" fill="none" stroke="#111" stroke-width="0.6" />
<text transform="translate(238.7 131.99)" font-size="5.7" text-anchor="middle" fill="#000" font-weight="bold" letter-spacing="0" stroke="#000" stroke-width="0.18">****</text>
<text transform="translate(240.4 191.8) rotate(-90) scale(0.98 1)" font-size="5.2" text-anchor="end" fill="#000" >Daudi</text>
<line x1="248.8" y1="188.2" x2="248.8" y2="190" stroke="#000" stroke-width="0.45" />
<rect x="245.9" y="180.64" width="2.1" height="7.56" fill="#3f6226" stroke="#2b4419" stroke-width="0.45" />
<circle cx="246.95" cy="180.14" r="0.65" fill="#2a2a2a"/>
<circle cx="246.95" cy="181.74" r="0.55" fill="#34432a"/>
<rect x="249.4" y="183.88" width="2.5" height="4.32" fill="#000" />
<circle cx="250.65" cy="183.38" r="0.65" fill="#1a1a1a"/>
<path d="M246.95 172.5V169.1H250.65V172.5" fill="none" stroke="#111" stroke-width="0.6" />
<text transform="translate(248.8 168.99)" font-size="5.7" text-anchor="middle" fill="#000" font-weight="bold" letter-spacing="0" stroke="#000" stroke-width="0.18">***</text>
<text transform="translate(250.5 191.8) rotate(-90) scale(0.98 1)" font-size="5.2" text-anchor="end" fill="#000" >Effector only</text>
<line x1="280.3" y1="134.2" x2="280.3" y2="188" stroke="#000" stroke-width="0.55" />
<line x1="280.3" y1="188" x2="341.1" y2="188" stroke="#000" stroke-width="0.55" />
<line x1="278.1" y1="188" x2="280.3" y2="188" stroke="#000" stroke-width="0.45" />
<text transform="translate(277.2 189.7) scale(0.93 1)" font-size="5" text-anchor="end" fill="#000" >0</text>
<line x1="278.1" y1="170.07" x2="280.3" y2="170.07" stroke="#000" stroke-width="0.45" />
<text transform="translate(277.2 171.77) scale(0.93 1)" font-size="5" text-anchor="end" fill="#000" >1,000</text>
<line x1="278.1" y1="152.13" x2="280.3" y2="152.13" stroke="#000" stroke-width="0.45" />
<text transform="translate(277.2 153.83) scale(0.93 1)" font-size="5" text-anchor="end" fill="#000" >2,000</text>
<line x1="278.1" y1="134.2" x2="280.3" y2="134.2" stroke="#000" stroke-width="0.45" />
<text transform="translate(277.2 135.9) scale(0.93 1)" font-size="5" text-anchor="end" fill="#000" >3,000</text>
<text transform="translate(263.4 160.5) rotate(-90) scale(0.93 1)" font-size="5.2" text-anchor="middle" fill="#000" >Perforin (pg/mL)</text>
<text transform="translate(312 120) scale(0.93 1)" font-size="5.2" text-anchor="middle" fill="#000" >Perforin</text>
<line x1="285" y1="188" x2="285" y2="189.8" stroke="#000" stroke-width="0.45" />
<rect x="282.1" y="167.38" width="2.1" height="20.62" fill="#3f6226" stroke="#2b4419" stroke-width="0.45" />
<circle cx="283.15" cy="166.88" r="0.65" fill="#2a2a2a"/>
<circle cx="283.15" cy="168.48" r="0.55" fill="#34432a"/>
<rect x="285.6" y="170.96" width="2.5" height="17.04" fill="#000" />
<circle cx="286.85" cy="170.46" r="0.65" fill="#1a1a1a"/>
<text transform="translate(286.7 191.6) rotate(-90) scale(0.98 1)" font-size="5.2" text-anchor="end" fill="#000" >K562</text>
<line x1="295.1" y1="188" x2="295.1" y2="189.8" stroke="#000" stroke-width="0.45" />
<rect x="292.2" y="149.44" width="2.1" height="38.56" fill="#3f6226" stroke="#2b4419" stroke-width="0.45" />
<circle cx="293.25" cy="148.94" r="0.65" fill="#2a2a2a"/>
<circle cx="293.25" cy="150.54" r="0.55" fill="#34432a"/>
<rect x="295.7" y="173.65" width="2.5" height="14.35" fill="#000" />
<circle cx="296.95" cy="173.15" r="0.65" fill="#1a1a1a"/>
<path d="M293.25 145.9V142.5H296.95V145.9" fill="none" stroke="#111" stroke-width="0.6" />
<text transform="translate(295.1 142.39)" font-size="5.7" text-anchor="middle" fill="#000" font-weight="bold" letter-spacing="0" stroke="#000" stroke-width="0.18">****</text>
<text transform="translate(296.8 191.6) rotate(-90) scale(0.98 1)" font-size="5.2" text-anchor="end" fill="#000" >K562-BCMA</text>
<line x1="305.2" y1="188" x2="305.2" y2="189.8" stroke="#000" stroke-width="0.45" />
<rect x="302.3" y="153.93" width="2.1" height="34.07" fill="#3f6226" stroke="#2b4419" stroke-width="0.45" />
<circle cx="303.35" cy="153.43" r="0.65" fill="#2a2a2a"/>
<circle cx="303.35" cy="155.03" r="0.55" fill="#34432a"/>
<rect x="305.8" y="175.45" width="2.5" height="12.55" fill="#000" />
<circle cx="307.05" cy="174.95" r="0.65" fill="#1a1a1a"/>
<path d="M303.35 136.7V133.3H307.05V136.7" fill="none" stroke="#111" stroke-width="0.6" />
<text transform="translate(305.2 133.19)" font-size="5.7" text-anchor="middle" fill="#000" font-weight="bold" letter-spacing="0" stroke="#000" stroke-width="0.18">****</text>
<text transform="translate(306.9 191.6) rotate(-90) scale(0.98 1)" font-size="5.2" text-anchor="end" fill="#000" >MM.1S</text>
<line x1="315.3" y1="188" x2="315.3" y2="189.8" stroke="#000" stroke-width="0.45" />
<rect x="312.4" y="150.34" width="2.1" height="37.66" fill="#3f6226" stroke="#2b4419" stroke-width="0.45" />
<circle cx="313.45" cy="149.84" r="0.65" fill="#2a2a2a"/>
<circle cx="313.45" cy="151.44" r="0.55" fill="#34432a"/>
<rect x="315.9" y="173.65" width="2.5" height="14.35" fill="#000" />
<circle cx="317.15" cy="173.15" r="0.65" fill="#1a1a1a"/>
<path d="M313.45 145.9V142.5H317.15V145.9" fill="none" stroke="#111" stroke-width="0.6" />
<text transform="translate(315.3 142.39)" font-size="5.7" text-anchor="middle" fill="#000" font-weight="bold" letter-spacing="0" stroke="#000" stroke-width="0.18">****</text>
<text transform="translate(317 191.6) rotate(-90) scale(0.98 1)" font-size="5.2" text-anchor="end" fill="#000" >NCI-H929</text>
<line x1="325.4" y1="188" x2="325.4" y2="189.8" stroke="#000" stroke-width="0.45" />
<rect x="322.5" y="142.27" width="2.1" height="45.73" fill="#3f6226" stroke="#2b4419" stroke-width="0.45" />
<circle cx="323.55" cy="141.77" r="0.65" fill="#2a2a2a"/>
<circle cx="323.55" cy="143.37" r="0.55" fill="#34432a"/>
<rect x="326" y="174.55" width="2.5" height="13.45" fill="#000" />
<circle cx="327.25" cy="174.05" r="0.65" fill="#1a1a1a"/>
<path d="M323.55 136.7V133.3H327.25V136.7" fill="none" stroke="#111" stroke-width="0.6" />
<text transform="translate(325.4 133.19)" font-size="5.7" text-anchor="middle" fill="#000" font-weight="bold" letter-spacing="0" stroke="#000" stroke-width="0.18">****</text>
<text transform="translate(327.1 191.6) rotate(-90) scale(0.98 1)" font-size="5.2" text-anchor="end" fill="#000" >Daudi</text>
<line x1="335.5" y1="188" x2="335.5" y2="189.8" stroke="#000" stroke-width="0.45" />
<rect x="332.6" y="165.58" width="2.1" height="22.42" fill="#3f6226" stroke="#2b4419" stroke-width="0.45" />
<circle cx="333.65" cy="165.08" r="0.65" fill="#2a2a2a"/>
<circle cx="333.65" cy="166.68" r="0.55" fill="#34432a"/>
<rect x="336.1" y="173.65" width="2.5" height="14.35" fill="#000" />
<circle cx="337.35" cy="173.15" r="0.65" fill="#1a1a1a"/>
<path d="M333.65 145.9V142.5H337.35V145.9" fill="none" stroke="#111" stroke-width="0.6" />
<text transform="translate(335.5 142.39)" font-size="5.7" text-anchor="middle" fill="#000" font-weight="bold" letter-spacing="0" stroke="#000" stroke-width="0.18">***</text>
<text transform="translate(337.2 191.6) rotate(-90) scale(0.98 1)" font-size="5.2" text-anchor="end" fill="#000" >Effector only</text>
<line x1="365.2" y1="133.9" x2="365.2" y2="188" stroke="#000" stroke-width="0.55" />
<line x1="365.2" y1="188" x2="425.3" y2="188" stroke="#000" stroke-width="0.55" />
<line x1="363" y1="188" x2="365.2" y2="188" stroke="#000" stroke-width="0.45" />
<text transform="translate(362.1 189.7) scale(0.93 1)" font-size="5" text-anchor="end" fill="#000" >0</text>
<line x1="363" y1="174.47" x2="365.2" y2="174.47" stroke="#000" stroke-width="0.45" />
<text transform="translate(362.1 176.17) scale(0.93 1)" font-size="5" text-anchor="end" fill="#000" >200</text>
<line x1="363" y1="160.95" x2="365.2" y2="160.95" stroke="#000" stroke-width="0.45" />
<text transform="translate(362.1 162.65) scale(0.93 1)" font-size="5" text-anchor="end" fill="#000" >400</text>
<line x1="363" y1="147.43" x2="365.2" y2="147.43" stroke="#000" stroke-width="0.45" />
<text transform="translate(362.1 149.12) scale(0.93 1)" font-size="5" text-anchor="end" fill="#000" >600</text>
<line x1="363" y1="133.9" x2="365.2" y2="133.9" stroke="#000" stroke-width="0.45" />
<text transform="translate(362.1 135.6) scale(0.93 1)" font-size="5" text-anchor="end" fill="#000" >800</text>
<text transform="translate(352.2 162.5) rotate(-90) scale(0.93 1)" font-size="5.2" text-anchor="middle" fill="#000" >Granzyme B (pg/mL)</text>
<text transform="translate(395.25 119.3) scale(0.93 1)" font-size="5.2" text-anchor="middle" fill="#000" >Granzyme B</text>
<line x1="369.3" y1="188" x2="369.3" y2="189.8" stroke="#000" stroke-width="0.45" />
<rect x="366.4" y="183.6" width="2.1" height="4.4" fill="#3f6226" stroke="#2b4419" stroke-width="0.45" />
<circle cx="367.45" cy="183.1" r="0.65" fill="#2a2a2a"/>
<circle cx="367.45" cy="184.7" r="0.55" fill="#34432a"/>
<circle cx="370.5" cy="187.6" r="0.65" fill="#444"/>
<circle cx="371.8" cy="187.6" r="0.65" fill="#444"/>
<path d="M367.45 145.9V142.5H371.15V145.9" fill="none" stroke="#111" stroke-width="0.6" />
<text transform="translate(369.3 142.39)" font-size="5.7" text-anchor="middle" fill="#000" font-weight="bold" letter-spacing="0" stroke="#000" stroke-width="0.18">****</text>
<text transform="translate(371 191.6) rotate(-90) scale(0.98 1)" font-size="5.2" text-anchor="end" fill="#000" >K562</text>
<line x1="379.9" y1="188" x2="379.9" y2="189.8" stroke="#000" stroke-width="0.45" />
<rect x="377" y="148.1" width="2.1" height="39.9" fill="#3f6226" stroke="#2b4419" stroke-width="0.45" />
<circle cx="378.05" cy="147.6" r="0.65" fill="#2a2a2a"/>
<circle cx="378.05" cy="149.2" r="0.55" fill="#34432a"/>
<circle cx="381.1" cy="187.6" r="0.65" fill="#444"/>
<circle cx="382.4" cy="187.6" r="0.65" fill="#444"/>
<path d="M378.05 137.9V134.5H381.75V137.9" fill="none" stroke="#111" stroke-width="0.6" />
<text transform="translate(379.9 134.39)" font-size="5.7" text-anchor="middle" fill="#000" font-weight="bold" letter-spacing="0" stroke="#000" stroke-width="0.18">****</text>
<text transform="translate(381.6 191.6) rotate(-90) scale(0.98 1)" font-size="5.2" text-anchor="end" fill="#000" >K562-BCMA</text>
<line x1="389.7" y1="188" x2="389.7" y2="189.8" stroke="#000" stroke-width="0.45" />
<rect x="386.8" y="148.78" width="2.1" height="39.22" fill="#3f6226" stroke="#2b4419" stroke-width="0.45" />
<circle cx="387.85" cy="148.28" r="0.65" fill="#2a2a2a"/>
<circle cx="387.85" cy="149.88" r="0.55" fill="#34432a"/>
<circle cx="390.9" cy="187.6" r="0.65" fill="#444"/>
<circle cx="392.2" cy="187.6" r="0.65" fill="#444"/>
<path d="M387.85 145.9V142.5H391.55V145.9" fill="none" stroke="#111" stroke-width="0.6" />
<text transform="translate(389.7 142.39)" font-size="5.7" text-anchor="middle" fill="#000" font-weight="bold" letter-spacing="0" stroke="#000" stroke-width="0.18">****</text>
<text transform="translate(391.4 191.6) rotate(-90) scale(0.98 1)" font-size="5.2" text-anchor="end" fill="#000" >MM.1S</text>
<line x1="399.6" y1="188" x2="399.6" y2="189.8" stroke="#000" stroke-width="0.45" />
<rect x="396.7" y="147.43" width="2.1" height="40.57" fill="#3f6226" stroke="#2b4419" stroke-width="0.45" />
<circle cx="397.75" cy="146.93" r="0.65" fill="#2a2a2a"/>
<circle cx="397.75" cy="148.53" r="0.55" fill="#34432a"/>
<rect x="400.2" y="176.17" width="2.5" height="11.83" fill="#000" />
<circle cx="401.45" cy="175.67" r="0.65" fill="#1a1a1a"/>
<path d="M397.75 137.9V134.5H401.45V137.9" fill="none" stroke="#111" stroke-width="0.6" />
<text transform="translate(399.6 134.39)" font-size="5.7" text-anchor="middle" fill="#000" font-weight="bold" letter-spacing="0" stroke="#000" stroke-width="0.18">****</text>
<text transform="translate(401.3 191.6) rotate(-90) scale(0.98 1)" font-size="5.2" text-anchor="end" fill="#000" >NCI-H929</text>
<line x1="409.4" y1="188" x2="409.4" y2="189.8" stroke="#000" stroke-width="0.45" />
<rect x="406.5" y="152.84" width="2.1" height="35.16" fill="#3f6226" stroke="#2b4419" stroke-width="0.45" />
<circle cx="407.55" cy="152.34" r="0.65" fill="#2a2a2a"/>
<circle cx="407.55" cy="153.94" r="0.55" fill="#34432a"/>
<circle cx="410.6" cy="187.6" r="0.65" fill="#444"/>
<circle cx="411.9" cy="187.6" r="0.65" fill="#444"/>
<path d="M407.55 145.9V142.5H411.25V145.9" fill="none" stroke="#111" stroke-width="0.6" />
<text transform="translate(409.4 142.39)" font-size="5.7" text-anchor="middle" fill="#000" font-weight="bold" letter-spacing="0" stroke="#000" stroke-width="0.18">****</text>
<text transform="translate(411.1 191.6) rotate(-90) scale(0.98 1)" font-size="5.2" text-anchor="end" fill="#000" >Daudi</text>
<line x1="419.7" y1="188" x2="419.7" y2="189.8" stroke="#000" stroke-width="0.45" />
<rect x="416.8" y="182.59" width="2.1" height="5.41" fill="#3f6226" stroke="#2b4419" stroke-width="0.45" />
<circle cx="417.85" cy="182.09" r="0.65" fill="#2a2a2a"/>
<circle cx="417.85" cy="183.69" r="0.55" fill="#34432a"/>
<circle cx="420.9" cy="187.6" r="0.65" fill="#444"/>
<circle cx="422.2" cy="187.6" r="0.65" fill="#444"/>
<path d="M417.85 137.9V134.5H421.55V137.9" fill="none" stroke="#111" stroke-width="0.6" />
<text transform="translate(419.7 134.39)" font-size="5.7" text-anchor="middle" fill="#000" font-weight="bold" letter-spacing="0" stroke="#000" stroke-width="0.18">****</text>
<text transform="translate(421.4 191.6) rotate(-90) scale(0.98 1)" font-size="5.2" text-anchor="end" fill="#000" >Effector only</text>
<line x1="451.2" y1="134.2" x2="451.2" y2="188" stroke="#000" stroke-width="0.55" />
<line x1="451.2" y1="188" x2="513.2" y2="188" stroke="#000" stroke-width="0.55" />
<line x1="449" y1="188" x2="451.2" y2="188" stroke="#000" stroke-width="0.45" />
<text transform="translate(448.1 189.7) scale(0.93 1)" font-size="5" text-anchor="end" fill="#000" >0</text>
<line x1="449" y1="170.07" x2="451.2" y2="170.07" stroke="#000" stroke-width="0.45" />
<text transform="translate(448.1 171.77) scale(0.93 1)" font-size="5" text-anchor="end" fill="#000" >500</text>
<line x1="449" y1="152.13" x2="451.2" y2="152.13" stroke="#000" stroke-width="0.45" />
<text transform="translate(448.1 153.83) scale(0.93 1)" font-size="5" text-anchor="end" fill="#000" >1,000</text>
<line x1="449" y1="134.2" x2="451.2" y2="134.2" stroke="#000" stroke-width="0.45" />
<text transform="translate(448.1 135.9) scale(0.93 1)" font-size="5" text-anchor="end" fill="#000" >1,500</text>
<text transform="translate(435.3 164.8) rotate(-90) scale(0.93 1)" font-size="4.9" text-anchor="middle" fill="#000" >Granzyme A (pg/mL)</text>
<text transform="translate(482.2 119.3) scale(0.93 1)" font-size="5.2" text-anchor="middle" fill="#000" >Granzyme A</text>
<line x1="456.2" y1="188" x2="456.2" y2="189.8" stroke="#000" stroke-width="0.45" />
<rect x="453.3" y="167.2" width="2.1" height="20.8" fill="#3f6226" stroke="#2b4419" stroke-width="0.45" />
<circle cx="454.35" cy="166.7" r="0.65" fill="#2a2a2a"/>
<circle cx="454.35" cy="168.3" r="0.55" fill="#34432a"/>
<rect x="456.8" y="176.52" width="2.5" height="11.48" fill="#000" />
<circle cx="458.05" cy="176.02" r="0.65" fill="#1a1a1a"/>
<path d="M454.35 148.6V145.2H458.05V148.6" fill="none" stroke="#111" stroke-width="0.6" />
<text transform="translate(456.2 145.09)" font-size="5.7" text-anchor="middle" fill="#000" font-weight="bold" letter-spacing="0" stroke="#000" stroke-width="0.18">***</text>
<text transform="translate(457.9 191.6) rotate(-90) scale(0.98 1)" font-size="5.2" text-anchor="end" fill="#000" >K562</text>
<line x1="466.6" y1="188" x2="466.6" y2="189.8" stroke="#000" stroke-width="0.45" />
<rect x="463.7" y="143.88" width="2.1" height="44.12" fill="#3f6226" stroke="#2b4419" stroke-width="0.45" />
<circle cx="464.75" cy="143.38" r="0.65" fill="#2a2a2a"/>
<circle cx="464.75" cy="144.98" r="0.55" fill="#34432a"/>
<rect x="467.2" y="177.6" width="2.5" height="10.4" fill="#000" />
<circle cx="468.45" cy="177.1" r="0.65" fill="#1a1a1a"/>
<path d="M464.75 138.9V135.5H468.45V138.9" fill="none" stroke="#111" stroke-width="0.6" />
<text transform="translate(466.6 135.39)" font-size="5.7" text-anchor="middle" fill="#000" font-weight="bold" letter-spacing="0" stroke="#000" stroke-width="0.18">****</text>
<text transform="translate(468.3 191.6) rotate(-90) scale(0.98 1)" font-size="5.2" text-anchor="end" fill="#000" >K562-BCMA</text>
<line x1="476.8" y1="188" x2="476.8" y2="189.8" stroke="#000" stroke-width="0.45" />
<rect x="473.9" y="150.34" width="2.1" height="37.66" fill="#3f6226" stroke="#2b4419" stroke-width="0.45" />
<circle cx="474.95" cy="149.84" r="0.65" fill="#2a2a2a"/>
<circle cx="474.95" cy="151.44" r="0.55" fill="#34432a"/>
<rect x="477.4" y="177.96" width="2.5" height="10.04" fill="#000" />
<circle cx="478.65" cy="177.46" r="0.65" fill="#1a1a1a"/>
<circle cx="478.2" cy="172.94" r="0.6" fill="#333"/>
<path d="M474.95 148.6V145.2H478.65V148.6" fill="none" stroke="#111" stroke-width="0.6" />
<text transform="translate(476.8 145.09)" font-size="5.7" text-anchor="middle" fill="#000" font-weight="bold" letter-spacing="0" stroke="#000" stroke-width="0.18">****</text>
<text transform="translate(478.5 191.6) rotate(-90) scale(0.98 1)" font-size="5.2" text-anchor="end" fill="#000" >MM.1S</text>
<line x1="487" y1="188" x2="487" y2="189.8" stroke="#000" stroke-width="0.45" />
<rect x="484.1" y="149.26" width="2.1" height="38.74" fill="#3f6226" stroke="#2b4419" stroke-width="0.45" />
<circle cx="485.15" cy="148.76" r="0.65" fill="#2a2a2a"/>
<circle cx="485.15" cy="150.36" r="0.55" fill="#34432a"/>
<rect x="487.6" y="177.6" width="2.5" height="10.4" fill="#000" />
<circle cx="488.85" cy="177.1" r="0.65" fill="#1a1a1a"/>
<path d="M485.15 138.9V135.5H488.85V138.9" fill="none" stroke="#111" stroke-width="0.6" />
<text transform="translate(487 135.39)" font-size="5.7" text-anchor="middle" fill="#000" font-weight="bold" letter-spacing="0" stroke="#000" stroke-width="0.18">****</text>
<text transform="translate(488.7 191.6) rotate(-90) scale(0.98 1)" font-size="5.2" text-anchor="end" fill="#000" >NCI-H929</text>
<line x1="497.1" y1="188" x2="497.1" y2="189.8" stroke="#000" stroke-width="0.45" />
<rect x="494.2" y="141.37" width="2.1" height="46.63" fill="#3f6226" stroke="#2b4419" stroke-width="0.45" />
<circle cx="495.25" cy="140.87" r="0.65" fill="#2a2a2a"/>
<circle cx="495.25" cy="142.47" r="0.55" fill="#34432a"/>
<rect x="497.7" y="175.81" width="2.5" height="12.19" fill="#000" />
<circle cx="498.95" cy="175.31" r="0.65" fill="#1a1a1a"/>
<circle cx="498.4" cy="170.43" r="0.6" fill="#333"/>
<path d="M495.25 138.3V134.9H498.95V138.3" fill="none" stroke="#111" stroke-width="0.6" />
<text transform="translate(497.1 134.79)" font-size="5.7" text-anchor="middle" fill="#000" font-weight="bold" letter-spacing="0" stroke="#000" stroke-width="0.18">****</text>
<text transform="translate(498.8 191.6) rotate(-90) scale(0.98 1)" font-size="5.2" text-anchor="end" fill="#000" >Daudi</text>
<line x1="507.6" y1="188" x2="507.6" y2="189.8" stroke="#000" stroke-width="0.45" />
<rect x="504.7" y="156.8" width="2.1" height="31.2" fill="#3f6226" stroke="#2b4419" stroke-width="0.45" />
<circle cx="505.75" cy="156.3" r="0.65" fill="#2a2a2a"/>
<circle cx="505.75" cy="157.9" r="0.55" fill="#34432a"/>
<rect x="508.2" y="175.09" width="2.5" height="12.91" fill="#000" />
<circle cx="509.45" cy="174.59" r="0.65" fill="#1a1a1a"/>
<path d="M505.75 147.6V144.2H509.45V147.6" fill="none" stroke="#111" stroke-width="0.6" />
<text transform="translate(507.6 144.09)" font-size="5.7" text-anchor="middle" fill="#000" font-weight="bold" letter-spacing="0" stroke="#000" stroke-width="0.18">****</text>
<text transform="translate(509.3 191.6) rotate(-90) scale(0.98 1)" font-size="5.2" text-anchor="end" fill="#000" >Effector only</text>
<path d="M43.7 306.5 L46.2 306.5 L46.82 305.5 L47.44 304.49 L48 303.94 L48.56 301.27 L48.93 300.46 L49.3 296.45 L49.61 293.45 L49.92 289.62 L50.2 286.98 L50.48 281.58 L50.76 278.49 L51.04 271.93 L51.22 269.51 L51.41 266.3 L51.66 268.31 L51.9 270.32 L52.15 269.24 L52.4 271.53 L52.84 267.71 L53.28 266.3 L53.54 268.85 L53.81 273.54 L54.07 279.88 L54.34 283.99 L54.69 287.06 L55.04 290.42 L55.57 294.13 L56.1 296.05 L56.8 299.57 L57.5 300.47 L58.38 303.66 L59.26 303.69 L60.23 305.09 L61.2 306.5 L63.7 306.5Z" fill="#a9c192" stroke="#6f8a55" stroke-width="0.4" fill-opacity="0.9" stroke-linejoin="round"/>
<path d="M44.7 306.5 L47.2 306.5 L47.74 305.5 L48.28 304.5 L48.77 303.95 L49.25 301.31 L49.58 298.74 L49.9 296.52 L50.17 293.65 L50.44 289.74 L50.68 285.34 L50.93 281.76 L51.17 276.47 L51.41 272.19 L51.57 271.13 L51.74 266.6 L51.95 268.6 L52.17 270.59 L52.38 273.13 L52.6 271.79 L53.01 267.85 L53.42 266.6 L53.67 271.15 L53.91 273.78 L54.16 280.03 L54.4 284.16 L54.73 285.37 L55.06 290.54 L55.55 293.45 L56.04 296.13 L56.7 296.98 L57.36 300.51 L58.18 302.21 L59 303.71 L59.9 305.1 L60.8 306.5 L63.3 306.5Z" fill="#8b9189" stroke="#5c625a" stroke-width="0.4" fill-opacity="0.55" stroke-linejoin="round"/>
<line x1="23.9" y1="258.9" x2="73.1" y2="258.9" stroke="#999" stroke-width="0.45" />
<line x1="73.1" y1="258.9" x2="73.1" y2="306.5" stroke="#999" stroke-width="0.45" />
<line x1="23.9" y1="258.9" x2="23.9" y2="306.5" stroke="#222" stroke-width="0.55" />
<line x1="23.9" y1="306.5" x2="73.1" y2="306.5" stroke="#222" stroke-width="0.6" />
<line x1="22.3" y1="306.5" x2="23.9" y2="306.5" stroke="#222" stroke-width="0.45" />
<text transform="translate(21.7 308.1) scale(0.95 1)" font-size="4.5" text-anchor="end" fill="#000" >0</text>
<line x1="23" y1="304.24" x2="23.9" y2="304.24" stroke="#444" stroke-width="0.3" />
<line x1="23" y1="301.97" x2="23.9" y2="301.97" stroke="#444" stroke-width="0.3" />
<line x1="23" y1="299.7" x2="23.9" y2="299.7" stroke="#444" stroke-width="0.3" />
<line x1="22.3" y1="297.44" x2="23.9" y2="297.44" stroke="#222" stroke-width="0.45" />
<text transform="translate(21.7 299.04) scale(0.95 1)" font-size="4.5" text-anchor="end" fill="#000" >20</text>
<line x1="23" y1="295.18" x2="23.9" y2="295.18" stroke="#444" stroke-width="0.3" />
<line x1="23" y1="292.91" x2="23.9" y2="292.91" stroke="#444" stroke-width="0.3" />
<line x1="23" y1="290.64" x2="23.9" y2="290.64" stroke="#444" stroke-width="0.3" />
<line x1="22.3" y1="288.38" x2="23.9" y2="288.38" stroke="#222" stroke-width="0.45" />
<text transform="translate(21.7 289.98) scale(0.95 1)" font-size="4.5" text-anchor="end" fill="#000" >40</text>
<line x1="23" y1="286.12" x2="23.9" y2="286.12" stroke="#444" stroke-width="0.3" />
<line x1="23" y1="283.85" x2="23.9" y2="283.85" stroke="#444" stroke-width="0.3" />
<line x1="23" y1="281.58" x2="23.9" y2="281.58" stroke="#444" stroke-width="0.3" />
<line x1="22.3" y1="279.32" x2="23.9" y2="279.32" stroke="#222" stroke-width="0.45" />
<text transform="translate(21.7 280.92) scale(0.95 1)" font-size="4.5" text-anchor="end" fill="#000" >60</text>
<line x1="23" y1="277.06" x2="23.9" y2="277.06" stroke="#444" stroke-width="0.3" />
<line x1="23" y1="274.79" x2="23.9" y2="274.79" stroke="#444" stroke-width="0.3" />
<line x1="23" y1="272.52" x2="23.9" y2="272.52" stroke="#444" stroke-width="0.3" />
<line x1="22.3" y1="270.26" x2="23.9" y2="270.26" stroke="#222" stroke-width="0.45" />
<text transform="translate(21.7 271.86) scale(0.95 1)" font-size="4.5" text-anchor="end" fill="#000" >80</text>
<line x1="23" y1="268" x2="23.9" y2="268" stroke="#444" stroke-width="0.3" />
<line x1="23" y1="265.73" x2="23.9" y2="265.73" stroke="#444" stroke-width="0.3" />
<line x1="23" y1="263.46" x2="23.9" y2="263.46" stroke="#444" stroke-width="0.3" />
<line x1="22.3" y1="261.2" x2="23.9" y2="261.2" stroke="#222" stroke-width="0.45" />
<text transform="translate(21.7 262.8) scale(0.95 1)" font-size="4.5" text-anchor="end" fill="#000" >100</text>
<line x1="26.4" y1="306.5" x2="26.4" y2="307.9" stroke="#222" stroke-width="0.45" />
<text transform="translate(25.6 312.9) scale(0.92 1)" font-size="4.9" text-anchor="middle" fill="#000" >10</text>
<text transform="translate(28.1 310.6)" font-size="3" text-anchor="start" fill="#000" >4</text>
<line x1="41" y1="306.5" x2="41" y2="307.9" stroke="#222" stroke-width="0.45" />
<text transform="translate(40.2 312.9) scale(0.92 1)" font-size="4.9" text-anchor="middle" fill="#000" >10</text>
<text transform="translate(42.7 310.6)" font-size="3" text-anchor="start" fill="#000" >5</text>
<line x1="56.4" y1="306.5" x2="56.4" y2="307.9" stroke="#222" stroke-width="0.45" />
<text transform="translate(55.6 312.9) scale(0.92 1)" font-size="4.9" text-anchor="middle" fill="#000" >10</text>
<text transform="translate(58.1 310.6)" font-size="3" text-anchor="start" fill="#000" >6</text>
<line x1="70.6" y1="306.5" x2="70.6" y2="307.9" stroke="#222" stroke-width="0.45" />
<text transform="translate(69.8 312.9) scale(0.92 1)" font-size="4.9" text-anchor="middle" fill="#000" >10</text>
<text transform="translate(72.3 310.6)" font-size="3" text-anchor="start" fill="#000" >7</text>
<text transform="translate(49.5 318.9) scale(0.95 1)" font-size="4.8" text-anchor="middle" fill="#000" >CTV</text>
<text transform="translate(47.7 254.6) scale(0.93 1)" font-size="5" text-anchor="middle" fill="#000" >T cells only</text>
<text transform="translate(12.1 283.2) rotate(-90) scale(0.97 1)" font-size="5.3" text-anchor="middle" fill="#000" >Normalized to mode</text>
<path d="M109.3 306.5 L111.8 306.5 L112.42 305.7 L113.04 304.9 L113.6 301.93 L114.16 301.3 L114.59 297.01 L115.02 295.3 L115.4 291.56 L115.77 287.7 L116.08 284.85 L116.39 280.1 L116.67 278.5 L116.95 272.9 L117.22 269.85 L117.5 268.1 L117.75 267.3 L118 266.5 L118.35 267.9 L118.7 269.3 L119.06 272.42 L119.41 275.3 L119.8 278.26 L120.2 283.3 L120.64 287.21 L121.08 290.1 L121.61 291.82 L122.14 295.7 L122.71 298.61 L123.28 299.7 L124.07 300.29 L124.86 303.3 L125.83 304.9 L126.8 306.5 L129.3 306.5Z" fill="#a9c192" stroke="#6f8a55" stroke-width="0.4" fill-opacity="0.9" stroke-linejoin="round"/>
<path d="M110.3 306.5 L112.8 306.5 L113.34 305.71 L113.88 304.93 L114.37 302.68 L114.85 301.39 L115.23 297.49 L115.61 295.5 L115.93 290.6 L116.26 288.03 L116.53 282.56 L116.8 280.56 L117.04 276.08 L117.28 273.49 L117.53 269.47 L117.77 268.77 L117.98 267.99 L118.2 267.2 L118.53 268.58 L118.86 269.95 L119.18 274.75 L119.51 275.85 L119.88 279.91 L120.25 283.71 L120.66 285.3 L121.07 290.39 L121.56 292.55 L122.05 295.89 L122.59 296.28 L123.12 299.82 L123.86 303.11 L124.6 303.36 L125.5 304.93 L126.4 306.5 L128.9 306.5Z" fill="#8b9189" stroke="#5c625a" stroke-width="0.4" fill-opacity="0.55" stroke-linejoin="round"/>
<line x1="89.3" y1="258.9" x2="138.5" y2="258.9" stroke="#999" stroke-width="0.45" />
<line x1="138.5" y1="258.9" x2="138.5" y2="306.5" stroke="#999" stroke-width="0.45" />
<line x1="89.3" y1="258.9" x2="89.3" y2="306.5" stroke="#222" stroke-width="0.55" />
<line x1="89.3" y1="306.5" x2="138.5" y2="306.5" stroke="#222" stroke-width="0.6" />
<line x1="87.7" y1="306.5" x2="89.3" y2="306.5" stroke="#222" stroke-width="0.45" />
<text transform="translate(87.1 308.1) scale(0.95 1)" font-size="4.5" text-anchor="end" fill="#000" >0</text>
<line x1="88.4" y1="304.24" x2="89.3" y2="304.24" stroke="#444" stroke-width="0.3" />
<line x1="88.4" y1="301.97" x2="89.3" y2="301.97" stroke="#444" stroke-width="0.3" />
<line x1="88.4" y1="299.7" x2="89.3" y2="299.7" stroke="#444" stroke-width="0.3" />
<line x1="87.7" y1="297.44" x2="89.3" y2="297.44" stroke="#222" stroke-width="0.45" />
<text transform="translate(87.1 299.04) scale(0.95 1)" font-size="4.5" text-anchor="end" fill="#000" >20</text>
<line x1="88.4" y1="295.18" x2="89.3" y2="295.18" stroke="#444" stroke-width="0.3" />
<line x1="88.4" y1="292.91" x2="89.3" y2="292.91" stroke="#444" stroke-width="0.3" />
<line x1="88.4" y1="290.64" x2="89.3" y2="290.64" stroke="#444" stroke-width="0.3" />
<line x1="87.7" y1="288.38" x2="89.3" y2="288.38" stroke="#222" stroke-width="0.45" />
<text transform="translate(87.1 289.98) scale(0.95 1)" font-size="4.5" text-anchor="end" fill="#000" >40</text>
<line x1="88.4" y1="286.12" x2="89.3" y2="286.12" stroke="#444" stroke-width="0.3" />
<line x1="88.4" y1="283.85" x2="89.3" y2="283.85" stroke="#444" stroke-width="0.3" />
<line x1="88.4" y1="281.58" x2="89.3" y2="281.58" stroke="#444" stroke-width="0.3" />
<line x1="87.7" y1="279.32" x2="89.3" y2="279.32" stroke="#222" stroke-width="0.45" />
<text transform="translate(87.1 280.92) scale(0.95 1)" font-size="4.5" text-anchor="end" fill="#000" >60</text>
<line x1="88.4" y1="277.06" x2="89.3" y2="277.06" stroke="#444" stroke-width="0.3" />
<line x1="88.4" y1="274.79" x2="89.3" y2="274.79" stroke="#444" stroke-width="0.3" />
<line x1="88.4" y1="272.52" x2="89.3" y2="272.52" stroke="#444" stroke-width="0.3" />
<line x1="87.7" y1="270.26" x2="89.3" y2="270.26" stroke="#222" stroke-width="0.45" />
<text transform="translate(87.1 271.86) scale(0.95 1)" font-size="4.5" text-anchor="end" fill="#000" >80</text>
<line x1="88.4" y1="268" x2="89.3" y2="268" stroke="#444" stroke-width="0.3" />
<line x1="88.4" y1="265.73" x2="89.3" y2="265.73" stroke="#444" stroke-width="0.3" />
<line x1="88.4" y1="263.46" x2="89.3" y2="263.46" stroke="#444" stroke-width="0.3" />
<line x1="87.7" y1="261.2" x2="89.3" y2="261.2" stroke="#222" stroke-width="0.45" />
<text transform="translate(87.1 262.8) scale(0.95 1)" font-size="4.5" text-anchor="end" fill="#000" >100</text>
<line x1="91.1" y1="306.5" x2="91.1" y2="307.9" stroke="#222" stroke-width="0.45" />
<text transform="translate(90.3 312.9) scale(0.92 1)" font-size="4.9" text-anchor="middle" fill="#000" >10</text>
<text transform="translate(92.8 310.6)" font-size="3" text-anchor="start" fill="#000" >4</text>
<line x1="106" y1="306.5" x2="106" y2="307.9" stroke="#222" stroke-width="0.45" />
<text transform="translate(105.2 312.9) scale(0.92 1)" font-size="4.9" text-anchor="middle" fill="#000" >10</text>
<text transform="translate(107.7 310.6)" font-size="3" text-anchor="start" fill="#000" >5</text>
<line x1="120.7" y1="306.5" x2="120.7" y2="307.9" stroke="#222" stroke-width="0.45" />
<text transform="translate(119.9 312.9) scale(0.92 1)" font-size="4.9" text-anchor="middle" fill="#000" >10</text>
<text transform="translate(122.4 310.6)" font-size="3" text-anchor="start" fill="#000" >6</text>
<line x1="136" y1="306.5" x2="136" y2="307.9" stroke="#222" stroke-width="0.45" />
<text transform="translate(135.2 312.9) scale(0.92 1)" font-size="4.9" text-anchor="middle" fill="#000" >10</text>
<text transform="translate(137.7 310.6)" font-size="3" text-anchor="start" fill="#000" >7</text>
<text transform="translate(114.9 318.9) scale(0.95 1)" font-size="4.8" text-anchor="middle" fill="#000" >CTV</text>
<text transform="translate(113.1 254.6) scale(0.93 1)" font-size="5" text-anchor="middle" fill="#000" >K562</text>
<path d="M163.7 306.5 L166.2 306.5 L166.82 305.77 L167.44 305.04 L168 304.4 L168.56 301.75 L168.99 297.33 L169.42 296.28 L169.8 294.18 L170.17 289.35 L170.48 285.13 L170.79 282.41 L171.07 280.64 L171.35 275.84 L171.62 274.57 L171.9 271.46 L172.15 270.73 L172.4 270 L172.71 271.28 L173.02 272.56 L173.32 273.47 L173.63 278.03 L173.98 282.74 L174.33 285.33 L174.71 287.91 L175.09 291.54 L175.56 294.24 L176.02 296.64 L176.52 298.64 L177.02 300.3 L177.71 301.96 L178.41 303.58 L179.25 305.04 L180.1 306.5 L182.6 306.5Z" fill="#b3cb9c" stroke="#64874a" stroke-width="0.4" fill-opacity="0.95" stroke-linejoin="round"/>
<path d="M178.2 306.5 L180.7 304.07 L181.24 304.27 L181.78 304.55 L182.27 303.66 L182.75 301.01 L183.13 299.32 L183.51 294.68 L183.83 290.04 L184.16 286.67 L184.43 284.46 L184.7 278.65 L184.94 274.7 L185.18 271.05 L185.42 269.09 L185.67 265.99 L185.88 265.14 L186.1 264.3 L186.4 265.78 L186.71 267.25 L187.01 272.28 L187.32 273.58 L187.66 277.77 L188 282.02 L188.38 287.56 L188.76 289.2 L189.22 292.43 L189.67 295.11 L190.17 299.03 L190.66 299.33 L191.34 302.95 L192.03 303.12 L192.86 304.81 L193.7 306.5 L196.2 306.5Z" fill="#a9a9ad" stroke="#707074" stroke-width="0.4" fill-opacity="0.92" stroke-linejoin="round"/>
<line x1="157" y1="258.9" x2="206.2" y2="258.9" stroke="#999" stroke-width="0.45" />
<line x1="206.2" y1="258.9" x2="206.2" y2="306.5" stroke="#999" stroke-width="0.45" />
<line x1="157" y1="258.9" x2="157" y2="306.5" stroke="#222" stroke-width="0.55" />
<line x1="157" y1="306.5" x2="206.2" y2="306.5" stroke="#222" stroke-width="0.6" />
<line x1="155.4" y1="306.5" x2="157" y2="306.5" stroke="#222" stroke-width="0.45" />
<text transform="translate(154.8 308.1) scale(0.95 1)" font-size="4.5" text-anchor="end" fill="#000" >0</text>
<line x1="156.1" y1="304.24" x2="157" y2="304.24" stroke="#444" stroke-width="0.3" />
<line x1="156.1" y1="301.97" x2="157" y2="301.97" stroke="#444" stroke-width="0.3" />
<line x1="156.1" y1="299.7" x2="157" y2="299.7" stroke="#444" stroke-width="0.3" />
<line x1="155.4" y1="297.44" x2="157" y2="297.44" stroke="#222" stroke-width="0.45" />
<text transform="translate(154.8 299.04) scale(0.95 1)" font-size="4.5" text-anchor="end" fill="#000" >20</text>
<line x1="156.1" y1="295.18" x2="157" y2="295.18" stroke="#444" stroke-width="0.3" />
<line x1="156.1" y1="292.91" x2="157" y2="292.91" stroke="#444" stroke-width="0.3" />
<line x1="156.1" y1="290.64" x2="157" y2="290.64" stroke="#444" stroke-width="0.3" />
<line x1="155.4" y1="288.38" x2="157" y2="288.38" stroke="#222" stroke-width="0.45" />
<text transform="translate(154.8 289.98) scale(0.95 1)" font-size="4.5" text-anchor="end" fill="#000" >40</text>
<line x1="156.1" y1="286.12" x2="157" y2="286.12" stroke="#444" stroke-width="0.3" />
<line x1="156.1" y1="283.85" x2="157" y2="283.85" stroke="#444" stroke-width="0.3" />
<line x1="156.1" y1="281.58" x2="157" y2="281.58" stroke="#444" stroke-width="0.3" />
<line x1="155.4" y1="279.32" x2="157" y2="279.32" stroke="#222" stroke-width="0.45" />
<text transform="translate(154.8 280.92) scale(0.95 1)" font-size="4.5" text-anchor="end" fill="#000" >60</text>
<line x1="156.1" y1="277.06" x2="157" y2="277.06" stroke="#444" stroke-width="0.3" />
<line x1="156.1" y1="274.79" x2="157" y2="274.79" stroke="#444" stroke-width="0.3" />
<line x1="156.1" y1="272.52" x2="157" y2="272.52" stroke="#444" stroke-width="0.3" />
<line x1="155.4" y1="270.26" x2="157" y2="270.26" stroke="#222" stroke-width="0.45" />
<text transform="translate(154.8 271.86) scale(0.95 1)" font-size="4.5" text-anchor="end" fill="#000" >80</text>
<line x1="156.1" y1="268" x2="157" y2="268" stroke="#444" stroke-width="0.3" />
<line x1="156.1" y1="265.73" x2="157" y2="265.73" stroke="#444" stroke-width="0.3" />
<line x1="156.1" y1="263.46" x2="157" y2="263.46" stroke="#444" stroke-width="0.3" />
<line x1="155.4" y1="261.2" x2="157" y2="261.2" stroke="#222" stroke-width="0.45" />
<text transform="translate(154.8 262.8) scale(0.95 1)" font-size="4.5" text-anchor="end" fill="#000" >100</text>
<line x1="159" y1="306.5" x2="159" y2="307.9" stroke="#222" stroke-width="0.45" />
<text transform="translate(158.2 312.9) scale(0.92 1)" font-size="4.9" text-anchor="middle" fill="#000" >10</text>
<text transform="translate(160.7 310.6)" font-size="3" text-anchor="start" fill="#000" >4</text>
<line x1="173.8" y1="306.5" x2="173.8" y2="307.9" stroke="#222" stroke-width="0.45" />
<text transform="translate(173 312.9) scale(0.92 1)" font-size="4.9" text-anchor="middle" fill="#000" >10</text>
<text transform="translate(175.5 310.6)" font-size="3" text-anchor="start" fill="#000" >5</text>
<line x1="188.6" y1="306.5" x2="188.6" y2="307.9" stroke="#222" stroke-width="0.45" />
<text transform="translate(187.8 312.9) scale(0.92 1)" font-size="4.9" text-anchor="middle" fill="#000" >10</text>
<text transform="translate(190.3 310.6)" font-size="3" text-anchor="start" fill="#000" >6</text>
<line x1="203.4" y1="306.5" x2="203.4" y2="307.9" stroke="#222" stroke-width="0.45" />
<text transform="translate(202.6 312.9) scale(0.92 1)" font-size="4.9" text-anchor="middle" fill="#000" >10</text>
<text transform="translate(205.1 310.6)" font-size="3" text-anchor="start" fill="#000" >7</text>
<text transform="translate(182.6 318.9) scale(0.95 1)" font-size="4.8" text-anchor="middle" fill="#000" >CTV</text>
<text transform="translate(180.8 254.6) scale(0.93 1)" font-size="5" text-anchor="middle" fill="#000" >K562-BCMA</text>
<path d="M223.7 306.5 L226.2 303.69 L226.96 300.58 L227.72 296.3 L228.4 292.48 L229.09 290.13 L229.62 289.99 L230.15 291.41 L230.61 292.64 L231.06 289.49 L231.44 287.11 L231.82 282.61 L232.17 278.22 L232.51 276.09 L232.85 272.75 L233.19 271.75 L233.5 271.02 L233.8 270.3 L234.1 271.57 L234.41 272.83 L234.71 274.99 L235.02 278.26 L235.36 283.11 L235.7 285.5 L236.08 288.51 L236.46 291.66 L236.92 294.82 L237.37 296.73 L237.87 299.44 L238.36 300.35 L239.04 300.34 L239.73 303.6 L240.56 305.05 L241.4 306.5 L243.9 306.5Z" fill="#b3cb9c" stroke="#64874a" stroke-width="0.4" fill-opacity="0.95" stroke-linejoin="round"/>
<path d="M239.9 306.5 L242.4 306.5 L242.94 305.76 L243.48 305.02 L243.97 303.49 L244.45 301.69 L244.83 299.38 L245.21 296.14 L245.53 293.96 L245.86 289.11 L246.13 284.24 L246.4 282.08 L246.64 280.58 L246.88 275.42 L247.12 273.19 L247.37 270.98 L247.58 270.24 L247.8 269.5 L248.1 270.8 L248.41 272.09 L248.71 273.39 L249.02 277.64 L249.36 282.89 L249.7 285.04 L250.08 287.98 L250.46 291.33 L250.92 293.49 L251.37 296.51 L251.87 300.06 L252.36 300.21 L253.04 302.32 L253.73 303.54 L254.56 305.02 L255.4 306.5 L257.9 306.5Z" fill="#a9a9ad" stroke="#707074" stroke-width="0.4" fill-opacity="0.92" stroke-linejoin="round"/>
<line x1="219.4" y1="258.9" x2="268.6" y2="258.9" stroke="#999" stroke-width="0.45" />
<line x1="268.6" y1="258.9" x2="268.6" y2="306.5" stroke="#999" stroke-width="0.45" />
<line x1="219.4" y1="258.9" x2="219.4" y2="306.5" stroke="#222" stroke-width="0.55" />
<line x1="219.4" y1="306.5" x2="268.6" y2="306.5" stroke="#222" stroke-width="0.6" />
<line x1="217.8" y1="306.5" x2="219.4" y2="306.5" stroke="#222" stroke-width="0.45" />
<text transform="translate(217.2 308.1) scale(0.95 1)" font-size="4.5" text-anchor="end" fill="#000" >0</text>
<line x1="218.5" y1="304.24" x2="219.4" y2="304.24" stroke="#444" stroke-width="0.3" />
<line x1="218.5" y1="301.97" x2="219.4" y2="301.97" stroke="#444" stroke-width="0.3" />
<line x1="218.5" y1="299.7" x2="219.4" y2="299.7" stroke="#444" stroke-width="0.3" />
<line x1="217.8" y1="297.44" x2="219.4" y2="297.44" stroke="#222" stroke-width="0.45" />
<text transform="translate(217.2 299.04) scale(0.95 1)" font-size="4.5" text-anchor="end" fill="#000" >20</text>
<line x1="218.5" y1="295.18" x2="219.4" y2="295.18" stroke="#444" stroke-width="0.3" />
<line x1="218.5" y1="292.91" x2="219.4" y2="292.91" stroke="#444" stroke-width="0.3" />
<line x1="218.5" y1="290.64" x2="219.4" y2="290.64" stroke="#444" stroke-width="0.3" />
<line x1="217.8" y1="288.38" x2="219.4" y2="288.38" stroke="#222" stroke-width="0.45" />
<text transform="translate(217.2 289.98) scale(0.95 1)" font-size="4.5" text-anchor="end" fill="#000" >40</text>
<line x1="218.5" y1="286.12" x2="219.4" y2="286.12" stroke="#444" stroke-width="0.3" />
<line x1="218.5" y1="283.85" x2="219.4" y2="283.85" stroke="#444" stroke-width="0.3" />
<line x1="218.5" y1="281.58" x2="219.4" y2="281.58" stroke="#444" stroke-width="0.3" />
<line x1="217.8" y1="279.32" x2="219.4" y2="279.32" stroke="#222" stroke-width="0.45" />
<text transform="translate(217.2 280.92) scale(0.95 1)" font-size="4.5" text-anchor="end" fill="#000" >60</text>
<line x1="218.5" y1="277.06" x2="219.4" y2="277.06" stroke="#444" stroke-width="0.3" />
<line x1="218.5" y1="274.79" x2="219.4" y2="274.79" stroke="#444" stroke-width="0.3" />
<line x1="218.5" y1="272.52" x2="219.4" y2="272.52" stroke="#444" stroke-width="0.3" />
<line x1="217.8" y1="270.26" x2="219.4" y2="270.26" stroke="#222" stroke-width="0.45" />
<text transform="translate(217.2 271.86) scale(0.95 1)" font-size="4.5" text-anchor="end" fill="#000" >80</text>
<line x1="218.5" y1="268" x2="219.4" y2="268" stroke="#444" stroke-width="0.3" />
<line x1="218.5" y1="265.73" x2="219.4" y2="265.73" stroke="#444" stroke-width="0.3" />
<line x1="218.5" y1="263.46" x2="219.4" y2="263.46" stroke="#444" stroke-width="0.3" />
<line x1="217.8" y1="261.2" x2="219.4" y2="261.2" stroke="#222" stroke-width="0.45" />
<text transform="translate(217.2 262.8) scale(0.95 1)" font-size="4.5" text-anchor="end" fill="#000" >100</text>
<line x1="221.4" y1="306.5" x2="221.4" y2="307.9" stroke="#222" stroke-width="0.45" />
<text transform="translate(220.6 312.9) scale(0.92 1)" font-size="4.9" text-anchor="middle" fill="#000" >10</text>
<text transform="translate(223.1 310.6)" font-size="3" text-anchor="start" fill="#000" >4</text>
<line x1="236.2" y1="306.5" x2="236.2" y2="307.9" stroke="#222" stroke-width="0.45" />
<text transform="translate(235.4 312.9) scale(0.92 1)" font-size="4.9" text-anchor="middle" fill="#000" >10</text>
<text transform="translate(237.9 310.6)" font-size="3" text-anchor="start" fill="#000" >5</text>
<line x1="251" y1="306.5" x2="251" y2="307.9" stroke="#222" stroke-width="0.45" />
<text transform="translate(250.2 312.9) scale(0.92 1)" font-size="4.9" text-anchor="middle" fill="#000" >10</text>
<text transform="translate(252.7 310.6)" font-size="3" text-anchor="start" fill="#000" >6</text>
<line x1="265.8" y1="306.5" x2="265.8" y2="307.9" stroke="#222" stroke-width="0.45" />
<text transform="translate(265 312.9) scale(0.92 1)" font-size="4.9" text-anchor="middle" fill="#000" >10</text>
<text transform="translate(267.5 310.6)" font-size="3" text-anchor="start" fill="#000" >7</text>
<text transform="translate(245 318.9) scale(0.95 1)" font-size="4.8" text-anchor="middle" fill="#000" >CTV</text>
<text transform="translate(243.2 254.6) scale(0.93 1)" font-size="5" text-anchor="middle" fill="#000" >MM.1S</text>
<path d="M290.2 306.5 L292.7 306.5 L293.26 305.69 L293.82 304.88 L294.32 303.16 L294.83 301.24 L295.22 297.56 L295.61 295.16 L295.95 290.64 L296.28 287.46 L296.56 285.06 L296.84 279.77 L297.1 278.11 L297.35 272.48 L297.6 270.56 L297.85 267.62 L298.08 266.81 L298.3 266 L298.69 267.42 L299.08 268.83 L299.48 272.79 L299.87 274.91 L300.31 277.7 L300.75 283.01 L301.24 285.68 L301.73 289.89 L302.32 292.32 L302.91 294.23 L303.54 296.19 L304.18 298.82 L305.06 300.78 L305.94 303.26 L307.02 304.88 L308.1 306.41 L310.6 306.5Z" fill="#b3cb9c" stroke="#64874a" stroke-width="0.4" fill-opacity="0.95" stroke-linejoin="round"/>
<path d="M305.1 306.5 L307.6 306.5 L308.14 305.71 L308.68 304.91 L309.17 303.31 L309.65 301.34 L310.03 298.12 L310.41 295.38 L310.73 289.93 L311.06 287.84 L311.33 284.21 L311.6 280.3 L311.84 276.69 L312.08 273.15 L312.32 270.42 L312.57 268.39 L312.78 267.59 L313 266.8 L313.3 268.19 L313.61 269.58 L313.91 273.81 L314.22 275.53 L314.56 279.46 L314.9 283.47 L315.28 286.33 L315.66 290.22 L316.12 291.84 L316.57 295.78 L317.07 299.38 L317.56 299.75 L318.24 302.32 L318.93 303.32 L319.76 304.91 L320.6 306.5 L323.1 306.5Z" fill="#a9a9ad" stroke="#707074" stroke-width="0.4" fill-opacity="0.92" stroke-linejoin="round"/>
<line x1="283.7" y1="258.9" x2="332.9" y2="258.9" stroke="#999" stroke-width="0.45" />
<line x1="332.9" y1="258.9" x2="332.9" y2="306.5" stroke="#999" stroke-width="0.45" />
<line x1="283.7" y1="258.9" x2="283.7" y2="306.5" stroke="#222" stroke-width="0.55" />
<line x1="283.7" y1="306.5" x2="332.9" y2="306.5" stroke="#222" stroke-width="0.6" />
<line x1="282.1" y1="306.5" x2="283.7" y2="306.5" stroke="#222" stroke-width="0.45" />
<text transform="translate(281.5 308.1) scale(0.95 1)" font-size="4.5" text-anchor="end" fill="#000" >0</text>
<line x1="282.8" y1="304.24" x2="283.7" y2="304.24" stroke="#444" stroke-width="0.3" />
<line x1="282.8" y1="301.97" x2="283.7" y2="301.97" stroke="#444" stroke-width="0.3" />
<line x1="282.8" y1="299.7" x2="283.7" y2="299.7" stroke="#444" stroke-width="0.3" />
<line x1="282.1" y1="297.44" x2="283.7" y2="297.44" stroke="#222" stroke-width="0.45" />
<text transform="translate(281.5 299.04) scale(0.95 1)" font-size="4.5" text-anchor="end" fill="#000" >20</text>
<line x1="282.8" y1="295.18" x2="283.7" y2="295.18" stroke="#444" stroke-width="0.3" />
<line x1="282.8" y1="292.91" x2="283.7" y2="292.91" stroke="#444" stroke-width="0.3" />
<line x1="282.8" y1="290.64" x2="283.7" y2="290.64" stroke="#444" stroke-width="0.3" />
<line x1="282.1" y1="288.38" x2="283.7" y2="288.38" stroke="#222" stroke-width="0.45" />
<text transform="translate(281.5 289.98) scale(0.95 1)" font-size="4.5" text-anchor="end" fill="#000" >40</text>
<line x1="282.8" y1="286.12" x2="283.7" y2="286.12" stroke="#444" stroke-width="0.3" />
<line x1="282.8" y1="283.85" x2="283.7" y2="283.85" stroke="#444" stroke-width="0.3" />
<line x1="282.8" y1="281.58" x2="283.7" y2="281.58" stroke="#444" stroke-width="0.3" />
<line x1="282.1" y1="279.32" x2="283.7" y2="279.32" stroke="#222" stroke-width="0.45" />
<text transform="translate(281.5 280.92) scale(0.95 1)" font-size="4.5" text-anchor="end" fill="#000" >60</text>
<line x1="282.8" y1="277.06" x2="283.7" y2="277.06" stroke="#444" stroke-width="0.3" />
<line x1="282.8" y1="274.79" x2="283.7" y2="274.79" stroke="#444" stroke-width="0.3" />
<line x1="282.8" y1="272.52" x2="283.7" y2="272.52" stroke="#444" stroke-width="0.3" />
<line x1="282.1" y1="270.26" x2="283.7" y2="270.26" stroke="#222" stroke-width="0.45" />
<text transform="translate(281.5 271.86) scale(0.95 1)" font-size="4.5" text-anchor="end" fill="#000" >80</text>
<line x1="282.8" y1="268" x2="283.7" y2="268" stroke="#444" stroke-width="0.3" />
<line x1="282.8" y1="265.73" x2="283.7" y2="265.73" stroke="#444" stroke-width="0.3" />
<line x1="282.8" y1="263.46" x2="283.7" y2="263.46" stroke="#444" stroke-width="0.3" />
<line x1="282.1" y1="261.2" x2="283.7" y2="261.2" stroke="#222" stroke-width="0.45" />
<text transform="translate(281.5 262.8) scale(0.95 1)" font-size="4.5" text-anchor="end" fill="#000" >100</text>
<line x1="285.7" y1="306.5" x2="285.7" y2="307.9" stroke="#222" stroke-width="0.45" />
<text transform="translate(284.9 312.9) scale(0.92 1)" font-size="4.9" text-anchor="middle" fill="#000" >10</text>
<text transform="translate(287.4 310.6)" font-size="3" text-anchor="start" fill="#000" >4</text>
<line x1="300.5" y1="306.5" x2="300.5" y2="307.9" stroke="#222" stroke-width="0.45" />
<text transform="translate(299.7 312.9) scale(0.92 1)" font-size="4.9" text-anchor="middle" fill="#000" >10</text>
<text transform="translate(302.2 310.6)" font-size="3" text-anchor="start" fill="#000" >5</text>
<line x1="315.3" y1="306.5" x2="315.3" y2="307.9" stroke="#222" stroke-width="0.45" />
<text transform="translate(314.5 312.9) scale(0.92 1)" font-size="4.9" text-anchor="middle" fill="#000" >10</text>
<text transform="translate(317 310.6)" font-size="3" text-anchor="start" fill="#000" >6</text>
<line x1="330.1" y1="306.5" x2="330.1" y2="307.9" stroke="#222" stroke-width="0.45" />
<text transform="translate(329.3 312.9) scale(0.92 1)" font-size="4.9" text-anchor="middle" fill="#000" >10</text>
<text transform="translate(331.8 310.6)" font-size="3" text-anchor="start" fill="#000" >7</text>
<text transform="translate(309.3 318.9) scale(0.95 1)" font-size="4.8" text-anchor="middle" fill="#000" >CTV</text>
<text transform="translate(307.5 254.6) scale(0.93 1)" font-size="5" text-anchor="middle" fill="#000" >Daudi</text>
<path d="M357.7 306.5 L360.2 306.5 L360.88 305.99 L361.56 305.48 L362.17 305.34 L362.78 303.19 L363.26 300.76 L363.74 299.36 L364.14 296.55 L364.55 294.51 L364.89 290.97 L365.23 289.67 L365.54 287.96 L365.84 285.08 L366.15 284.17 L366.46 282.02 L366.73 281.51 L367 281 L367.38 281.89 L367.76 282.79 L368.14 284.1 L368.52 286.61 L368.95 288.76 L369.38 291.71 L369.85 294.38 L370.32 296.05 L370.89 297.36 L371.46 299.33 L372.08 300.5 L372.7 302.02 L373.56 302.6 L374.41 304.46 L375.45 305.48 L376.5 306.44 L379 306.5Z" fill="#b3cb9c" stroke="#64874a" stroke-width="0.4" fill-opacity="0.95" stroke-linejoin="round"/>
<path d="M373.4 306.5 L375.9 306.5 L376.44 305.76 L376.98 305.02 L377.47 304.25 L377.95 301.69 L378.33 298.23 L378.71 296.14 L379.03 291.94 L379.36 289.11 L379.63 284.3 L379.9 282.08 L380.14 279.91 L380.38 275.42 L380.62 274.2 L380.87 270.98 L381.08 270.24 L381.3 269.5 L381.6 270.8 L381.91 272.09 L382.21 276.17 L382.52 277.64 L382.86 282.36 L383.2 285.04 L383.58 287.32 L383.96 291.33 L384.42 295.29 L384.87 296.51 L385.37 298.24 L385.86 300.21 L386.54 302.93 L387.23 303.54 L388.06 305.02 L388.9 306.5 L391.4 306.5Z" fill="#a9a9ad" stroke="#707074" stroke-width="0.4" fill-opacity="0.92" stroke-linejoin="round"/>
<line x1="351.5" y1="258.9" x2="400.7" y2="258.9" stroke="#999" stroke-width="0.45" />
<line x1="351.5" y1="258.9" x2="351.5" y2="306.5" stroke="#222" stroke-width="0.55" />
<line x1="351.5" y1="306.5" x2="400.7" y2="306.5" stroke="#222" stroke-width="0.6" />
<line x1="349.9" y1="306.5" x2="351.5" y2="306.5" stroke="#222" stroke-width="0.45" />
<text transform="translate(349.3 308.1) scale(0.95 1)" font-size="4.5" text-anchor="end" fill="#000" >0</text>
<line x1="350.6" y1="304.24" x2="351.5" y2="304.24" stroke="#444" stroke-width="0.3" />
<line x1="350.6" y1="301.97" x2="351.5" y2="301.97" stroke="#444" stroke-width="0.3" />
<line x1="350.6" y1="299.7" x2="351.5" y2="299.7" stroke="#444" stroke-width="0.3" />
<line x1="349.9" y1="297.44" x2="351.5" y2="297.44" stroke="#222" stroke-width="0.45" />
<text transform="translate(349.3 299.04) scale(0.95 1)" font-size="4.5" text-anchor="end" fill="#000" >20</text>
<line x1="350.6" y1="295.18" x2="351.5" y2="295.18" stroke="#444" stroke-width="0.3" />
<line x1="350.6" y1="292.91" x2="351.5" y2="292.91" stroke="#444" stroke-width="0.3" />
<line x1="350.6" y1="290.64" x2="351.5" y2="290.64" stroke="#444" stroke-width="0.3" />
<line x1="349.9" y1="288.38" x2="351.5" y2="288.38" stroke="#222" stroke-width="0.45" />
<text transform="translate(349.3 289.98) scale(0.95 1)" font-size="4.5" text-anchor="end" fill="#000" >40</text>
<line x1="350.6" y1="286.12" x2="351.5" y2="286.12" stroke="#444" stroke-width="0.3" />
<line x1="350.6" y1="283.85" x2="351.5" y2="283.85" stroke="#444" stroke-width="0.3" />
<line x1="350.6" y1="281.58" x2="351.5" y2="281.58" stroke="#444" stroke-width="0.3" />
<line x1="349.9" y1="279.32" x2="351.5" y2="279.32" stroke="#222" stroke-width="0.45" />
<text transform="translate(349.3 280.92) scale(0.95 1)" font-size="4.5" text-anchor="end" fill="#000" >60</text>
<line x1="350.6" y1="277.06" x2="351.5" y2="277.06" stroke="#444" stroke-width="0.3" />
<line x1="350.6" y1="274.79" x2="351.5" y2="274.79" stroke="#444" stroke-width="0.3" />
<line x1="350.6" y1="272.52" x2="351.5" y2="272.52" stroke="#444" stroke-width="0.3" />
<line x1="349.9" y1="270.26" x2="351.5" y2="270.26" stroke="#222" stroke-width="0.45" />
<text transform="translate(349.3 271.86) scale(0.95 1)" font-size="4.5" text-anchor="end" fill="#000" >80</text>
<line x1="350.6" y1="268" x2="351.5" y2="268" stroke="#444" stroke-width="0.3" />
<line x1="350.6" y1="265.73" x2="351.5" y2="265.73" stroke="#444" stroke-width="0.3" />
<line x1="350.6" y1="263.46" x2="351.5" y2="263.46" stroke="#444" stroke-width="0.3" />
<line x1="349.9" y1="261.2" x2="351.5" y2="261.2" stroke="#222" stroke-width="0.45" />
<text transform="translate(349.3 262.8) scale(0.95 1)" font-size="4.5" text-anchor="end" fill="#000" >100</text>
<line x1="353.5" y1="306.5" x2="353.5" y2="307.9" stroke="#222" stroke-width="0.45" />
<text transform="translate(352.7 312.9) scale(0.92 1)" font-size="4.9" text-anchor="middle" fill="#000" >10</text>
<text transform="translate(355.2 310.6)" font-size="3" text-anchor="start" fill="#000" >4</text>
<line x1="368.3" y1="306.5" x2="368.3" y2="307.9" stroke="#222" stroke-width="0.45" />
<text transform="translate(367.5 312.9) scale(0.92 1)" font-size="4.9" text-anchor="middle" fill="#000" >10</text>
<text transform="translate(370 310.6)" font-size="3" text-anchor="start" fill="#000" >5</text>
<line x1="383.1" y1="306.5" x2="383.1" y2="307.9" stroke="#222" stroke-width="0.45" />
<text transform="translate(382.3 312.9) scale(0.92 1)" font-size="4.9" text-anchor="middle" fill="#000" >10</text>
<text transform="translate(384.8 310.6)" font-size="3" text-anchor="start" fill="#000" >6</text>
<line x1="397.9" y1="306.5" x2="397.9" y2="307.9" stroke="#222" stroke-width="0.45" />
<text transform="translate(397.1 312.9) scale(0.92 1)" font-size="4.9" text-anchor="middle" fill="#000" >10</text>
<text transform="translate(399.6 310.6)" font-size="3" text-anchor="start" fill="#000" >7</text>
<text transform="translate(377.1 318.9) scale(0.95 1)" font-size="4.8" text-anchor="middle" fill="#000" >CTV</text>
<text transform="translate(375.3 254.6) scale(0.93 1)" font-size="5" text-anchor="middle" fill="#000" >NCI-H929</text>
<line x1="424.6" y1="248.8" x2="424.6" y2="312" stroke="#000" stroke-width="0.55" />
<line x1="424.6" y1="312" x2="520" y2="312" stroke="#000" stroke-width="0.55" />
<line x1="422" y1="312" x2="424.6" y2="312" stroke="#000" stroke-width="0.45" />
<text transform="translate(420.9 313.7) scale(0.93 1)" font-size="4.8" text-anchor="end" fill="#000" >0</text>
<line x1="422" y1="299.36" x2="424.6" y2="299.36" stroke="#000" stroke-width="0.45" />
<text transform="translate(420.9 301.06) scale(0.93 1)" font-size="4.8" text-anchor="end" fill="#000" >5</text>
<line x1="422" y1="286.72" x2="424.6" y2="286.72" stroke="#000" stroke-width="0.45" />
<text transform="translate(420.9 288.42) scale(0.93 1)" font-size="4.8" text-anchor="end" fill="#000" >10</text>
<line x1="422" y1="274.08" x2="424.6" y2="274.08" stroke="#000" stroke-width="0.45" />
<text transform="translate(420.9 275.78) scale(0.93 1)" font-size="4.8" text-anchor="end" fill="#000" >15</text>
<line x1="422" y1="261.44" x2="424.6" y2="261.44" stroke="#000" stroke-width="0.45" />
<text transform="translate(420.9 263.14) scale(0.93 1)" font-size="4.8" text-anchor="end" fill="#000" >20</text>
<line x1="422" y1="248.8" x2="424.6" y2="248.8" stroke="#000" stroke-width="0.45" />
<text transform="translate(420.9 250.5) scale(0.93 1)" font-size="4.8" text-anchor="end" fill="#000" >25</text>
<text transform="translate(413.4 279.4) rotate(-90) scale(0.93 1)" font-size="5.1" text-anchor="middle" fill="#000" >Fold dye dilution</text>
<line x1="432.2" y1="312" x2="432.2" y2="313.8" stroke="#000" stroke-width="0.45" />
<rect x="427.1" y="303.91" width="3.8" height="8.09" fill="#5d8d39" stroke="#36591f" stroke-width="0.6" />
<line x1="428.05" y1="304.31" x2="428.05" y2="312" stroke="#48712a" stroke-width="0.25" />
<line x1="429" y1="304.31" x2="429" y2="312" stroke="#48712a" stroke-width="0.25" />
<line x1="429.95" y1="304.31" x2="429.95" y2="312" stroke="#48712a" stroke-width="0.25" />
<rect x="433.2" y="302.39" width="4.3" height="9.61" fill="#000" />
<text transform="translate(433.3 318.4) rotate(-45) scale(0.95 1)" font-size="4.9" text-anchor="end" fill="#000" >T-cell only</text>
<line x1="448.5" y1="312" x2="448.5" y2="313.8" stroke="#000" stroke-width="0.45" />
<rect x="443.4" y="302.65" width="3.8" height="9.35" fill="#5d8d39" stroke="#36591f" stroke-width="0.6" />
<line x1="444.35" y1="303.05" x2="444.35" y2="312" stroke="#48712a" stroke-width="0.25" />
<line x1="445.3" y1="303.05" x2="445.3" y2="312" stroke="#48712a" stroke-width="0.25" />
<line x1="446.25" y1="303.05" x2="446.25" y2="312" stroke="#48712a" stroke-width="0.25" />
<rect x="449.5" y="301.89" width="4.3" height="10.11" fill="#000" />
<text transform="translate(449.6 318.4) rotate(-45) scale(0.95 1)" font-size="4.9" text-anchor="end" fill="#000" >K562</text>
<line x1="464.7" y1="312" x2="464.7" y2="313.8" stroke="#000" stroke-width="0.45" />
<rect x="459.6" y="263.46" width="3.8" height="48.54" fill="#5d8d39" stroke="#36591f" stroke-width="0.6" />
<line x1="460.55" y1="263.86" x2="460.55" y2="312" stroke="#48712a" stroke-width="0.25" />
<line x1="461.5" y1="263.86" x2="461.5" y2="312" stroke="#48712a" stroke-width="0.25" />
<line x1="462.45" y1="263.86" x2="462.45" y2="312" stroke="#48712a" stroke-width="0.25" />
<rect x="465.7" y="300.12" width="4.3" height="11.88" fill="#000" />
<line x1="460.2" y1="262.96" x2="462.6" y2="262.96" stroke="#222" stroke-width="0.5" />
<text transform="translate(465.8 318.4) rotate(-45) scale(0.95 1)" font-size="4.9" text-anchor="end" fill="#000" >K562-BCMA</text>
<line x1="481" y1="312" x2="481" y2="313.8" stroke="#000" stroke-width="0.45" />
<rect x="475.9" y="262.2" width="3.8" height="49.8" fill="#5d8d39" stroke="#36591f" stroke-width="0.6" />
<line x1="476.85" y1="262.6" x2="476.85" y2="312" stroke="#48712a" stroke-width="0.25" />
<line x1="477.8" y1="262.6" x2="477.8" y2="312" stroke="#48712a" stroke-width="0.25" />
<line x1="478.75" y1="262.6" x2="478.75" y2="312" stroke="#48712a" stroke-width="0.25" />
<rect x="482" y="302.14" width="4.3" height="9.86" fill="#000" />
<line x1="476.5" y1="261.7" x2="478.9" y2="261.7" stroke="#222" stroke-width="0.5" />
<text transform="translate(482.1 318.4) rotate(-45) scale(0.95 1)" font-size="4.9" text-anchor="end" fill="#000" >MM.1S</text>
<line x1="497.2" y1="312" x2="497.2" y2="313.8" stroke="#000" stroke-width="0.45" />
<rect x="492.1" y="268.01" width="3.8" height="43.99" fill="#5d8d39" stroke="#36591f" stroke-width="0.6" />
<line x1="493.05" y1="268.41" x2="493.05" y2="312" stroke="#48712a" stroke-width="0.25" />
<line x1="494" y1="268.41" x2="494" y2="312" stroke="#48712a" stroke-width="0.25" />
<line x1="494.95" y1="268.41" x2="494.95" y2="312" stroke="#48712a" stroke-width="0.25" />
<rect x="498.2" y="301.89" width="4.3" height="10.11" fill="#000" />
<line x1="492.7" y1="267.51" x2="495.1" y2="267.51" stroke="#222" stroke-width="0.5" />
<text transform="translate(498.3 318.4) rotate(-45) scale(0.95 1)" font-size="4.9" text-anchor="end" fill="#000" >Daudi</text>
<line x1="513.4" y1="312" x2="513.4" y2="313.8" stroke="#000" stroke-width="0.45" />
<rect x="508.3" y="267.51" width="3.8" height="44.49" fill="#5d8d39" stroke="#36591f" stroke-width="0.6" />
<line x1="509.25" y1="267.91" x2="509.25" y2="312" stroke="#48712a" stroke-width="0.25" />
<line x1="510.2" y1="267.91" x2="510.2" y2="312" stroke="#48712a" stroke-width="0.25" />
<line x1="511.15" y1="267.91" x2="511.15" y2="312" stroke="#48712a" stroke-width="0.25" />
<rect x="514.4" y="303.15" width="4.3" height="8.85" fill="#000" />
<line x1="508.9" y1="267.01" x2="511.3" y2="267.01" stroke="#222" stroke-width="0.5" />
<text transform="translate(514.5 318.4) rotate(-45) scale(0.95 1)" font-size="4.9" text-anchor="end" fill="#000" >NCI-H929</text>
<rect x="445.5" y="340.9" width="7" height="3.9" fill="#5d8d39" stroke="#36591f" stroke-width="0.6" />
<line x1="446.67" y1="341.3" x2="446.67" y2="344.8" stroke="#48712a" stroke-width="0.25" />
<line x1="447.83" y1="341.3" x2="447.83" y2="344.8" stroke="#48712a" stroke-width="0.25" />
<line x1="449" y1="341.3" x2="449" y2="344.8" stroke="#48712a" stroke-width="0.25" />
<line x1="450.17" y1="341.3" x2="450.17" y2="344.8" stroke="#48712a" stroke-width="0.25" />
<line x1="451.33" y1="341.3" x2="451.33" y2="344.8" stroke="#48712a" stroke-width="0.25" />
<text transform="translate(456.6 344.7) scale(0.93 1)" font-size="5.6" text-anchor="start" fill="#000" >CB-011</text>
<rect x="486" y="340.9" width="7" height="3.9" fill="#000" />
<text transform="translate(496.5 344.7) scale(0.93 1)" font-size="5.6" text-anchor="start" fill="#000" >DKO</text>
<line x1="431.5" y1="358.3" x2="431.5" y2="427.5" stroke="#000" stroke-width="0.55" />
<line x1="431.5" y1="427.5" x2="500" y2="427.5" stroke="#000" stroke-width="0.55" />
<line x1="429" y1="427.5" x2="431.5" y2="427.5" stroke="#000" stroke-width="0.45" />
<text transform="translate(427.1 429.2) scale(0.93 1)" font-size="4.8" text-anchor="end" fill="#000" >0</text>
<line x1="429" y1="410.2" x2="431.5" y2="410.2" stroke="#000" stroke-width="0.45" />
<text transform="translate(427.1 411.9) scale(0.93 1)" font-size="4.8" text-anchor="end" fill="#000" >500</text>
<line x1="429" y1="392.9" x2="431.5" y2="392.9" stroke="#000" stroke-width="0.45" />
<text transform="translate(427.1 394.6) scale(0.93 1)" font-size="4.8" text-anchor="end" fill="#000" >1,000</text>
<line x1="429" y1="375.6" x2="431.5" y2="375.6" stroke="#000" stroke-width="0.45" />
<text transform="translate(427.1 377.3) scale(0.93 1)" font-size="4.8" text-anchor="end" fill="#000" >1,500</text>
<line x1="429" y1="358.3" x2="431.5" y2="358.3" stroke="#000" stroke-width="0.45" />
<text transform="translate(427.1 360) scale(0.93 1)" font-size="4.8" text-anchor="end" fill="#000" >2,000</text>
<text transform="translate(413.2 390.9) rotate(-90) scale(0.93 1)" font-size="5.4" text-anchor="middle" fill="#000" >Cumulative AUC</text>
<rect x="434.8" y="374.22" width="5.9" height="53.28" fill="#5d8d39" stroke="#36591f" stroke-width="0.6" />
<line x1="435.98" y1="374.62" x2="435.98" y2="427.5" stroke="#48712a" stroke-width="0.25" />
<line x1="437.16" y1="374.62" x2="437.16" y2="427.5" stroke="#48712a" stroke-width="0.25" />
<line x1="438.34" y1="374.62" x2="438.34" y2="427.5" stroke="#48712a" stroke-width="0.25" />
<line x1="439.52" y1="374.62" x2="439.52" y2="427.5" stroke="#48712a" stroke-width="0.25" />
<line x1="441" y1="427.5" x2="441" y2="429.3" stroke="#000" stroke-width="0.45" />
<text transform="translate(441 435.5) scale(0.95 1)" font-size="5" text-anchor="middle" fill="#000" >MM.1S</text>
<rect x="459.1" y="378.37" width="5.9" height="49.13" fill="#5d8d39" stroke="#36591f" stroke-width="0.6" />
<line x1="460.28" y1="378.77" x2="460.28" y2="427.5" stroke="#48712a" stroke-width="0.25" />
<line x1="461.46" y1="378.77" x2="461.46" y2="427.5" stroke="#48712a" stroke-width="0.25" />
<line x1="462.64" y1="378.77" x2="462.64" y2="427.5" stroke="#48712a" stroke-width="0.25" />
<line x1="463.82" y1="378.77" x2="463.82" y2="427.5" stroke="#48712a" stroke-width="0.25" />
<rect x="467.5" y="425.77" width="6.3" height="1.73" fill="#000" />
<line x1="465.5" y1="427.5" x2="465.5" y2="429.3" stroke="#000" stroke-width="0.45" />
<text transform="translate(465.5 435.5) scale(0.95 1)" font-size="5" text-anchor="middle" fill="#000" >NCI-H929</text>
<rect x="483.3" y="380.44" width="5.9" height="47.06" fill="#5d8d39" stroke="#36591f" stroke-width="0.6" />
<line x1="484.48" y1="380.84" x2="484.48" y2="427.5" stroke="#48712a" stroke-width="0.25" />
<line x1="485.66" y1="380.84" x2="485.66" y2="427.5" stroke="#48712a" stroke-width="0.25" />
<line x1="486.84" y1="380.84" x2="486.84" y2="427.5" stroke="#48712a" stroke-width="0.25" />
<line x1="488.02" y1="380.84" x2="488.02" y2="427.5" stroke="#48712a" stroke-width="0.25" />
<rect x="491.8" y="423.69" width="6.3" height="3.81" fill="#000" />
<line x1="490.5" y1="427.5" x2="490.5" y2="429.3" stroke="#000" stroke-width="0.45" />
<text transform="translate(490.5 435.5) scale(0.95 1)" font-size="5" text-anchor="middle" fill="#000" >Daudi</text>
<rect x="433.8" y="443.7" width="7.6" height="3.9" fill="#5d8d39" stroke="#36591f" stroke-width="0.6" />
<line x1="435.07" y1="444.1" x2="435.07" y2="447.6" stroke="#48712a" stroke-width="0.25" />
<line x1="436.33" y1="444.1" x2="436.33" y2="447.6" stroke="#48712a" stroke-width="0.25" />
<line x1="437.6" y1="444.1" x2="437.6" y2="447.6" stroke="#48712a" stroke-width="0.25" />
<line x1="438.87" y1="444.1" x2="438.87" y2="447.6" stroke="#48712a" stroke-width="0.25" />
<line x1="440.13" y1="444.1" x2="440.13" y2="447.6" stroke="#48712a" stroke-width="0.25" />
<text transform="translate(445.6 447.5) scale(0.93 1)" font-size="5.6" text-anchor="start" fill="#000" >CB-011</text>
<rect x="472.5" y="443.7" width="7.6" height="3.9" fill="#000" />
<text transform="translate(484.6 447.5) scale(0.93 1)" font-size="5.6" text-anchor="start" fill="#000" >DKO</text>
<line x1="21.9" y1="364.8" x2="21.9" y2="422.27" stroke="#000" stroke-width="0.55" />
<line x1="20" y1="422.27" x2="21.9" y2="422.27" stroke="#000" stroke-width="0.45" />
<text transform="translate(18.5 423.92) scale(0.95 1)" font-size="4.7" text-anchor="end" fill="#000" >−50</text>
<line x1="20" y1="414.06" x2="21.9" y2="414.06" stroke="#000" stroke-width="0.45" />
<text transform="translate(18.5 415.71) scale(0.95 1)" font-size="4.7" text-anchor="end" fill="#000" >−25</text>
<line x1="20" y1="405.85" x2="21.9" y2="405.85" stroke="#000" stroke-width="0.45" />
<text transform="translate(18.5 407.5) scale(0.95 1)" font-size="4.7" text-anchor="end" fill="#000" >0</text>
<line x1="20" y1="397.64" x2="21.9" y2="397.64" stroke="#000" stroke-width="0.45" />
<text transform="translate(18.5 399.29) scale(0.95 1)" font-size="4.7" text-anchor="end" fill="#000" >25</text>
<line x1="20" y1="389.43" x2="21.9" y2="389.43" stroke="#000" stroke-width="0.45" />
<text transform="translate(18.5 391.08) scale(0.95 1)" font-size="4.7" text-anchor="end" fill="#000" >50</text>
<line x1="20" y1="381.22" x2="21.9" y2="381.22" stroke="#000" stroke-width="0.45" />
<text transform="translate(18.5 382.87) scale(0.95 1)" font-size="4.7" text-anchor="end" fill="#000" >75</text>
<line x1="20" y1="373.01" x2="21.9" y2="373.01" stroke="#000" stroke-width="0.45" />
<text transform="translate(18.5 374.66) scale(0.95 1)" font-size="4.7" text-anchor="end" fill="#000" >100</text>
<line x1="20" y1="364.8" x2="21.9" y2="364.8" stroke="#000" stroke-width="0.45" />
<text transform="translate(18.5 366.45) scale(0.95 1)" font-size="4.7" text-anchor="end" fill="#000" >125</text>
<line x1="21.9" y1="405.85" x2="111.9" y2="405.85" stroke="#333" stroke-width="0.6" />
<line x1="33.5" y1="404.65" x2="33.5" y2="407.05" stroke="#333" stroke-width="0.4" />
<text transform="translate(33.5 419) scale(0.95 1)" font-size="4.7" text-anchor="middle" fill="#000" >0:1</text>
<line x1="56.1" y1="404.65" x2="56.1" y2="407.05" stroke="#333" stroke-width="0.4" />
<text transform="translate(56.1 419) scale(0.95 1)" font-size="4.7" text-anchor="middle" fill="#000" >0.125:1</text>
<line x1="78.5" y1="404.65" x2="78.5" y2="407.05" stroke="#333" stroke-width="0.4" />
<text transform="translate(78.5 419) scale(0.95 1)" font-size="4.7" text-anchor="middle" fill="#000" >0.5:1</text>
<line x1="100.9" y1="404.65" x2="100.9" y2="407.05" stroke="#333" stroke-width="0.4" />
<text transform="translate(100.9 419) scale(0.95 1)" font-size="4.7" text-anchor="middle" fill="#000" >2:1</text>
<text transform="translate(65.8 361.6) scale(0.95 1)" font-size="4.8" text-anchor="middle" fill="#000" >MM.1S</text>
<text transform="translate(67.4 426.2) scale(0.95 1)" font-size="5.1" text-anchor="middle" fill="#000" >E:T ratio</text>
<text transform="translate(7.3 392.2) rotate(-90) scale(0.95 1)" font-size="5.2" text-anchor="middle" fill="#000" >Specific cell lysis (%)</text>
<polyline points="33.5,406.84 56.1,406.84 78.5,406.84 100.9,401.58" fill="none" stroke="#000" stroke-width="0.45" stroke-linejoin="round" />
<polyline points="33.5,407.16 56.1,406.51 78.5,406.84 100.9,406.84" fill="none" stroke="#000" stroke-width="0.45" stroke-linejoin="round" />
<polyline points="33.5,406.51 56.1,407.16 78.5,407.82 100.9,409.79" fill="none" stroke="#000" stroke-width="0.45" stroke-linejoin="round" />
<polyline points="33.5,406.84 56.1,406.18 78.5,406.51 100.9,412.42" fill="none" stroke="#000" stroke-width="0.45" stroke-linejoin="round" />
<polyline points="33.5,407.16 56.1,407.16 78.5,408.15 100.9,414.72" fill="none" stroke="#000" stroke-width="0.45" stroke-linejoin="round" />
<polyline points="33.5,406.51 56.1,405.85 78.5,406.18 100.9,417.34" fill="none" stroke="#000" stroke-width="0.45" stroke-linejoin="round" />
<polyline points="33.5,407.16 56.1,407.49 78.5,408.48 100.9,411.43" fill="none" stroke="#000" stroke-width="0.45" stroke-linejoin="round" />
<polyline points="33.5,406.51 56.1,406.51 78.5,406.51 100.9,408.48" fill="none" stroke="#000" stroke-width="0.45" stroke-linejoin="round" />
<line x1="33.5" y1="410.45" x2="33.5" y2="404.54" stroke="#000" stroke-width="0.45" />
<line x1="32.5" y1="410.45" x2="34.5" y2="410.45" stroke="#000" stroke-width="0.45" />
<line x1="32.5" y1="404.54" x2="34.5" y2="404.54" stroke="#000" stroke-width="0.45" />
<line x1="56.1" y1="408.81" x2="56.1" y2="404.21" stroke="#000" stroke-width="0.45" />
<line x1="55.1" y1="408.81" x2="57.1" y2="408.81" stroke="#000" stroke-width="0.45" />
<line x1="55.1" y1="404.21" x2="57.1" y2="404.21" stroke="#000" stroke-width="0.45" />
<line x1="78.5" y1="409.79" x2="78.5" y2="404.54" stroke="#000" stroke-width="0.45" />
<line x1="77.5" y1="409.79" x2="79.5" y2="409.79" stroke="#000" stroke-width="0.45" />
<line x1="77.5" y1="404.54" x2="79.5" y2="404.54" stroke="#000" stroke-width="0.45" />
<line x1="100.9" y1="406.51" x2="100.9" y2="396.65" stroke="#000" stroke-width="0.45" />
<line x1="99.9" y1="406.51" x2="101.9" y2="406.51" stroke="#000" stroke-width="0.45" />
<line x1="99.9" y1="396.65" x2="101.9" y2="396.65" stroke="#000" stroke-width="0.45" />
<line x1="100.9" y1="422.6" x2="100.9" y2="412.09" stroke="#000" stroke-width="0.45" />
<line x1="99.9" y1="422.6" x2="101.9" y2="422.6" stroke="#000" stroke-width="0.45" />
<line x1="99.9" y1="412.09" x2="101.9" y2="412.09" stroke="#000" stroke-width="0.45" />
<line x1="100.9" y1="415.37" x2="100.9" y2="406.18" stroke="#000" stroke-width="0.45" />
<line x1="99.9" y1="415.37" x2="101.9" y2="415.37" stroke="#000" stroke-width="0.45" />
<line x1="99.9" y1="406.18" x2="101.9" y2="406.18" stroke="#000" stroke-width="0.45" />
<circle cx="33.5" cy="406.84" r="1.12" fill="#000"/>
<circle cx="56.1" cy="406.84" r="1.12" fill="#000"/>
<circle cx="78.5" cy="406.84" r="1.12" fill="#000"/>
<circle cx="100.9" cy="401.58" r="1.12" fill="#000"/>
<rect x="32.38" y="406.04" width="2.24" height="2.24" fill="#000" />
<rect x="54.98" y="405.39" width="2.24" height="2.24" fill="#000" />
<rect x="77.38" y="405.72" width="2.24" height="2.24" fill="#000" />
<rect x="99.78" y="405.72" width="2.24" height="2.24" fill="#000" />
<path d="M32.21 407.4L34.79 407.4L33.5 405.22Z" fill="#000" stroke="none" stroke-width="0.5" />
<path d="M54.81 408.06L57.39 408.06L56.1 405.88Z" fill="#000" stroke="none" stroke-width="0.5" />
<path d="M77.21 408.72L79.79 408.72L78.5 406.53Z" fill="#000" stroke="none" stroke-width="0.5" />
<path d="M99.61 410.69L102.19 410.69L100.9 408.5Z" fill="#000" stroke="none" stroke-width="0.5" />
<path d="M32.21 405.94L34.79 405.94L33.5 408.12Z" fill="#000" stroke="none" stroke-width="0.5" />
<path d="M54.81 405.28L57.39 405.28L56.1 407.47Z" fill="#000" stroke="none" stroke-width="0.5" />
<path d="M77.21 405.61L79.79 405.61L78.5 407.79Z" fill="#000" stroke="none" stroke-width="0.5" />
<path d="M99.61 411.52L102.19 411.52L100.9 413.71Z" fill="#000" stroke="none" stroke-width="0.5" />
<rect x="32.38" y="406.04" width="2.24" height="2.24" fill="#000" />
<rect x="54.98" y="406.04" width="2.24" height="2.24" fill="#000" />
<rect x="77.38" y="407.03" width="2.24" height="2.24" fill="#000" />
<rect x="99.78" y="413.6" width="2.24" height="2.24" fill="#000" />
<rect x="32.38" y="405.39" width="2.24" height="2.24" fill="#000" />
<rect x="54.98" y="404.73" width="2.24" height="2.24" fill="#000" />
<rect x="77.38" y="405.06" width="2.24" height="2.24" fill="#000" />
<rect x="99.78" y="416.22" width="2.24" height="2.24" fill="#000" />
<path d="M32.21 408.06L34.79 408.06L33.5 405.88Z" fill="#000" stroke="none" stroke-width="0.5" />
<path d="M54.81 408.39L57.39 408.39L56.1 406.2Z" fill="#000" stroke="none" stroke-width="0.5" />
<path d="M77.21 409.37L79.79 409.37L78.5 407.19Z" fill="#000" stroke="none" stroke-width="0.5" />
<path d="M99.61 412.33L102.19 412.33L100.9 410.14Z" fill="#000" stroke="none" stroke-width="0.5" />
<path d="M32.21 405.61L34.79 405.61L33.5 407.79Z" fill="#000" stroke="none" stroke-width="0.5" />
<path d="M54.81 405.61L57.39 405.61L56.1 407.79Z" fill="#000" stroke="none" stroke-width="0.5" />
<path d="M77.21 405.61L79.79 405.61L78.5 407.79Z" fill="#000" stroke="none" stroke-width="0.5" />
<path d="M99.61 407.58L102.19 407.58L100.9 409.77Z" fill="#000" stroke="none" stroke-width="0.5" />
<polyline points="33.5,405.19 56.1,374 78.5,373.17 100.9,373.01" fill="none" stroke="#4f8a28" stroke-width="0.45" stroke-linejoin="round" />
<polyline points="33.5,404.21 56.1,373.83 78.5,373.01 100.9,373.01" fill="none" stroke="#4f8a28" stroke-width="0.45" stroke-linejoin="round" />
<polyline points="33.5,403.55 56.1,373.67 78.5,373.01 100.9,373.01" fill="none" stroke="#4f8a28" stroke-width="0.45" stroke-linejoin="round" />
<polyline points="33.5,405.85 56.1,374 78.5,373.17 100.9,373.01" fill="none" stroke="#4f8a28" stroke-width="0.45" stroke-linejoin="round" />
<polyline points="33.5,406.84 56.1,374 78.5,373.17 100.9,373.01" fill="none" stroke="#4f8a28" stroke-width="0.45" stroke-linejoin="round" />
<polyline points="33.5,403.88 56.1,373.67 78.5,373.01 100.9,373.01" fill="none" stroke="#4f8a28" stroke-width="0.45" stroke-linejoin="round" />
<polyline points="33.5,407.82 56.1,374 78.5,373.01 100.9,373.01" fill="none" stroke="#4f8a28" stroke-width="0.45" stroke-linejoin="round" />
<polyline points="33.5,404.86 56.1,373.67 78.5,373.01 100.9,373.01" fill="none" stroke="#4f8a28" stroke-width="0.45" stroke-linejoin="round" />
<line x1="33.5" y1="407.82" x2="33.5" y2="402.57" stroke="#4f8a28" stroke-width="0.4" />
<line x1="32.6" y1="407.82" x2="34.4" y2="407.82" stroke="#4f8a28" stroke-width="0.4" />
<line x1="32.6" y1="402.57" x2="34.4" y2="402.57" stroke="#4f8a28" stroke-width="0.4" />
<circle cx="33.5" cy="405.19" r="1.2" fill="#3a661e"/>
<circle cx="56.1" cy="374" r="1.2" fill="#3a661e"/>
<circle cx="78.5" cy="373.17" r="1.2" fill="#3a661e"/>
<circle cx="100.9" cy="373.01" r="1.2" fill="#3a661e"/>
<rect x="32.3" y="403.01" width="2.4" height="2.4" fill="#3a661e" />
<rect x="54.9" y="372.63" width="2.4" height="2.4" fill="#3a661e" />
<rect x="77.3" y="371.81" width="2.4" height="2.4" fill="#3a661e" />
<rect x="99.7" y="371.81" width="2.4" height="2.4" fill="#3a661e" />
<path d="M32.12 404.51L34.88 404.51L33.5 402.17Z" fill="#3a661e" stroke="none" stroke-width="0.5" />
<path d="M54.72 374.63L57.48 374.63L56.1 372.29Z" fill="#3a661e" stroke="none" stroke-width="0.5" />
<path d="M77.12 373.97L79.88 373.97L78.5 371.63Z" fill="#3a661e" stroke="none" stroke-width="0.5" />
<path d="M99.52 373.97L102.28 373.97L100.9 371.63Z" fill="#3a661e" stroke="none" stroke-width="0.5" />
<path d="M32.12 404.89L34.88 404.89L33.5 407.23Z" fill="#3a661e" stroke="none" stroke-width="0.5" />
<path d="M54.72 373.04L57.48 373.04L56.1 375.38Z" fill="#3a661e" stroke="none" stroke-width="0.5" />
<path d="M77.12 372.21L79.88 372.21L78.5 374.55Z" fill="#3a661e" stroke="none" stroke-width="0.5" />
<path d="M99.52 372.05L102.28 372.05L100.9 374.39Z" fill="#3a661e" stroke="none" stroke-width="0.5" />
<circle cx="33.5" cy="406.84" r="1.2" fill="#fff" stroke="#3a661e" stroke-width="0.5"/>
<circle cx="56.1" cy="374" r="1.2" fill="#fff" stroke="#3a661e" stroke-width="0.5"/>
<circle cx="78.5" cy="373.17" r="1.2" fill="#fff" stroke="#3a661e" stroke-width="0.5"/>
<circle cx="100.9" cy="373.01" r="1.2" fill="#fff" stroke="#3a661e" stroke-width="0.5"/>
<rect x="32.3" y="402.68" width="2.4" height="2.4" fill="#fff" stroke="#3a661e" stroke-width="0.5" />
<rect x="54.9" y="372.47" width="2.4" height="2.4" fill="#fff" stroke="#3a661e" stroke-width="0.5" />
<rect x="77.3" y="371.81" width="2.4" height="2.4" fill="#fff" stroke="#3a661e" stroke-width="0.5" />
<rect x="99.7" y="371.81" width="2.4" height="2.4" fill="#fff" stroke="#3a661e" stroke-width="0.5" />
<path d="M32.12 408.78L34.88 408.78L33.5 406.44Z" fill="#3a661e" stroke="none" stroke-width="0.5" />
<path d="M54.72 374.96L57.48 374.96L56.1 372.62Z" fill="#3a661e" stroke="none" stroke-width="0.5" />
<path d="M77.12 373.97L79.88 373.97L78.5 371.63Z" fill="#3a661e" stroke="none" stroke-width="0.5" />
<path d="M99.52 373.97L102.28 373.97L100.9 371.63Z" fill="#3a661e" stroke="none" stroke-width="0.5" />
<path d="M32.12 403.9L34.88 403.9L33.5 406.24Z" fill="#3a661e" stroke="none" stroke-width="0.5" />
<path d="M54.72 372.71L57.48 372.71L56.1 375.05Z" fill="#3a661e" stroke="none" stroke-width="0.5" />
<path d="M77.12 372.05L79.88 372.05L78.5 374.39Z" fill="#3a661e" stroke="none" stroke-width="0.5" />
<path d="M99.52 372.05L102.28 372.05L100.9 374.39Z" fill="#3a661e" stroke="none" stroke-width="0.5" />
<line x1="25.6" y1="435.7" x2="30.8" y2="435.7" stroke="#4f8a28" stroke-width="0.5" />
<circle cx="28.2" cy="435.7" r="1" fill="#3a661e"/>
<text transform="translate(35.8 437.3) scale(0.88 1)" font-size="4.6" text-anchor="start" fill="#111" >R1</text>
<line x1="50.1" y1="435.7" x2="55.3" y2="435.7" stroke="#4f8a28" stroke-width="0.5" />
<rect x="51.7" y="434.7" width="2" height="2" fill="#3a661e" />
<text transform="translate(60.4 437.3) scale(0.88 1)" font-size="4.6" text-anchor="start" fill="#111" >R2</text>
<line x1="74.8" y1="435.7" x2="80" y2="435.7" stroke="#4f8a28" stroke-width="0.5" />
<path d="M76.25 436.5L78.55 436.5L77.4 434.55Z" fill="#3a661e" stroke="none" stroke-width="0.5" />
<text transform="translate(85 437.3) scale(0.88 1)" font-size="4.6" text-anchor="start" fill="#111" >R3</text>
<line x1="99" y1="435.7" x2="104.2" y2="435.7" stroke="#4f8a28" stroke-width="0.5" />
<path d="M100.45 434.9L102.75 434.9L101.6 436.85Z" fill="#3a661e" stroke="none" stroke-width="0.5" />
<text transform="translate(109 437.3) scale(0.88 1)" font-size="4.6" text-anchor="start" fill="#111" >R4</text>
<line x1="25.6" y1="444.1" x2="30.8" y2="444.1" stroke="#4f8a28" stroke-width="0.5" />
<circle cx="28.2" cy="444.1" r="1" fill="#fff" stroke="#3a661e" stroke-width="0.5"/>
<text transform="translate(35.8 445.7) scale(0.88 1)" font-size="4.6" text-anchor="start" fill="#111" >R5</text>
<line x1="50.1" y1="444.1" x2="55.3" y2="444.1" stroke="#4f8a28" stroke-width="0.5" />
<rect x="51.7" y="443.1" width="2" height="2" fill="#fff" stroke="#3a661e" stroke-width="0.5" />
<text transform="translate(60.4 445.7) scale(0.88 1)" font-size="4.6" text-anchor="start" fill="#111" >R6</text>
<line x1="74.8" y1="444.1" x2="80" y2="444.1" stroke="#4f8a28" stroke-width="0.5" />
<path d="M76.25 444.9L78.55 444.9L77.4 442.95Z" fill="#3a661e" stroke="none" stroke-width="0.5" />
<text transform="translate(85 445.7) scale(0.88 1)" font-size="4.6" text-anchor="start" fill="#111" >R7</text>
<line x1="99" y1="444.1" x2="104.2" y2="444.1" stroke="#4f8a28" stroke-width="0.5" />
<path d="M100.45 443.3L102.75 443.3L101.6 445.25Z" fill="#3a661e" stroke="none" stroke-width="0.5" />
<text transform="translate(109 445.7) scale(0.88 1)" font-size="4.6" text-anchor="start" fill="#111" >R8</text>
<line x1="154.3" y1="366.4" x2="154.3" y2="422.26" stroke="#000" stroke-width="0.55" />
<line x1="152.4" y1="422.26" x2="154.3" y2="422.26" stroke="#000" stroke-width="0.45" />
<text transform="translate(150.9 423.91) scale(0.95 1)" font-size="4.7" text-anchor="end" fill="#000" >−50</text>
<line x1="152.4" y1="414.28" x2="154.3" y2="414.28" stroke="#000" stroke-width="0.45" />
<text transform="translate(150.9 415.93) scale(0.95 1)" font-size="4.7" text-anchor="end" fill="#000" >−25</text>
<line x1="152.4" y1="406.3" x2="154.3" y2="406.3" stroke="#000" stroke-width="0.45" />
<text transform="translate(150.9 407.95) scale(0.95 1)" font-size="4.7" text-anchor="end" fill="#000" >0</text>
<line x1="152.4" y1="398.32" x2="154.3" y2="398.32" stroke="#000" stroke-width="0.45" />
<text transform="translate(150.9 399.97) scale(0.95 1)" font-size="4.7" text-anchor="end" fill="#000" >25</text>
<line x1="152.4" y1="390.34" x2="154.3" y2="390.34" stroke="#000" stroke-width="0.45" />
<text transform="translate(150.9 391.99) scale(0.95 1)" font-size="4.7" text-anchor="end" fill="#000" >50</text>
<line x1="152.4" y1="382.36" x2="154.3" y2="382.36" stroke="#000" stroke-width="0.45" />
<text transform="translate(150.9 384.01) scale(0.95 1)" font-size="4.7" text-anchor="end" fill="#000" >75</text>
<line x1="152.4" y1="374.38" x2="154.3" y2="374.38" stroke="#000" stroke-width="0.45" />
<text transform="translate(150.9 376.03) scale(0.95 1)" font-size="4.7" text-anchor="end" fill="#000" >100</text>
<line x1="152.4" y1="366.4" x2="154.3" y2="366.4" stroke="#000" stroke-width="0.45" />
<text transform="translate(150.9 368.05) scale(0.95 1)" font-size="4.7" text-anchor="end" fill="#000" >125</text>
<line x1="154.3" y1="406.3" x2="244.3" y2="406.3" stroke="#333" stroke-width="0.6" />
<line x1="165.7" y1="405.1" x2="165.7" y2="407.5" stroke="#333" stroke-width="0.4" />
<text transform="translate(165.7 419) scale(0.95 1)" font-size="4.7" text-anchor="middle" fill="#000" >0:1</text>
<line x1="188.5" y1="405.1" x2="188.5" y2="407.5" stroke="#333" stroke-width="0.4" />
<text transform="translate(188.5 419) scale(0.95 1)" font-size="4.7" text-anchor="middle" fill="#000" >0.125:1</text>
<line x1="210.8" y1="405.1" x2="210.8" y2="407.5" stroke="#333" stroke-width="0.4" />
<text transform="translate(210.8 419) scale(0.95 1)" font-size="4.7" text-anchor="middle" fill="#000" >0.5:1</text>
<line x1="233.8" y1="405.1" x2="233.8" y2="407.5" stroke="#333" stroke-width="0.4" />
<text transform="translate(233.8 419) scale(0.95 1)" font-size="4.7" text-anchor="middle" fill="#000" >2:1</text>
<text transform="translate(198.5 361.6) scale(0.95 1)" font-size="4.8" text-anchor="middle" fill="#000" >NCI-H929</text>
<text transform="translate(200.3 427) scale(0.95 1)" font-size="5.1" text-anchor="middle" fill="#000" >E:T ratio</text>
<polyline points="165.7,405.02 188.5,400.55 210.8,399.6 233.8,401.51" fill="none" stroke="#000" stroke-width="0.45" stroke-linejoin="round" />
<polyline points="165.7,405.66 188.5,402.47 210.8,401.51 233.8,403.11" fill="none" stroke="#000" stroke-width="0.45" stroke-linejoin="round" />
<polyline points="165.7,406.3 188.5,404.07 210.8,403.11 233.8,404.07" fill="none" stroke="#000" stroke-width="0.45" stroke-linejoin="round" />
<polyline points="165.7,406.94 188.5,405.34 210.8,404.7 233.8,405.34" fill="none" stroke="#000" stroke-width="0.45" stroke-linejoin="round" />
<polyline points="165.7,405.34 188.5,406.62 210.8,406.3 233.8,406.3" fill="none" stroke="#000" stroke-width="0.45" stroke-linejoin="round" />
<polyline points="165.7,404.7 188.5,408.53 210.8,408.22 233.8,407.58" fill="none" stroke="#000" stroke-width="0.45" stroke-linejoin="round" />
<polyline points="165.7,407.26 188.5,413.32 210.8,410.13 233.8,405.98" fill="none" stroke="#000" stroke-width="0.45" stroke-linejoin="round" />
<polyline points="165.7,405.98 188.5,405.98 210.8,405.66 233.8,404.7" fill="none" stroke="#000" stroke-width="0.45" stroke-linejoin="round" />
<line x1="165.7" y1="408.85" x2="165.7" y2="402.47" stroke="#000" stroke-width="0.45" />
<line x1="164.7" y1="408.85" x2="166.7" y2="408.85" stroke="#000" stroke-width="0.45" />
<line x1="164.7" y1="402.47" x2="166.7" y2="402.47" stroke="#000" stroke-width="0.45" />
<line x1="188.5" y1="409.49" x2="188.5" y2="401.83" stroke="#000" stroke-width="0.45" />
<line x1="187.5" y1="409.49" x2="189.5" y2="409.49" stroke="#000" stroke-width="0.45" />
<line x1="187.5" y1="401.83" x2="189.5" y2="401.83" stroke="#000" stroke-width="0.45" />
<line x1="210.8" y1="408.85" x2="210.8" y2="398.64" stroke="#000" stroke-width="0.45" />
<line x1="209.8" y1="408.85" x2="211.8" y2="408.85" stroke="#000" stroke-width="0.45" />
<line x1="209.8" y1="398.64" x2="211.8" y2="398.64" stroke="#000" stroke-width="0.45" />
<line x1="233.8" y1="408.53" x2="233.8" y2="400.87" stroke="#000" stroke-width="0.45" />
<line x1="232.8" y1="408.53" x2="234.8" y2="408.53" stroke="#000" stroke-width="0.45" />
<line x1="232.8" y1="400.87" x2="234.8" y2="400.87" stroke="#000" stroke-width="0.45" />
<circle cx="165.7" cy="405.02" r="1.12" fill="#000"/>
<circle cx="188.5" cy="400.55" r="1.12" fill="#000"/>
<circle cx="210.8" cy="399.6" r="1.12" fill="#000"/>
<circle cx="233.8" cy="401.51" r="1.12" fill="#000"/>
<rect x="164.58" y="404.54" width="2.24" height="2.24" fill="#000" />
<rect x="187.38" y="401.35" width="2.24" height="2.24" fill="#000" />
<rect x="209.68" y="400.39" width="2.24" height="2.24" fill="#000" />
<rect x="232.68" y="401.99" width="2.24" height="2.24" fill="#000" />
<path d="M164.41 407.2L166.99 407.2L165.7 405.01Z" fill="#000" stroke="none" stroke-width="0.5" />
<path d="M187.21 404.96L189.79 404.96L188.5 402.78Z" fill="#000" stroke="none" stroke-width="0.5" />
<path d="M209.51 404L212.09 404L210.8 401.82Z" fill="#000" stroke="none" stroke-width="0.5" />
<path d="M232.51 404.96L235.09 404.96L233.8 402.78Z" fill="#000" stroke="none" stroke-width="0.5" />
<path d="M164.41 406.04L166.99 406.04L165.7 408.23Z" fill="#000" stroke="none" stroke-width="0.5" />
<path d="M187.21 404.45L189.79 404.45L188.5 406.63Z" fill="#000" stroke="none" stroke-width="0.5" />
<path d="M209.51 403.81L212.09 403.81L210.8 405.99Z" fill="#000" stroke="none" stroke-width="0.5" />
<path d="M232.51 404.45L235.09 404.45L233.8 406.63Z" fill="#000" stroke="none" stroke-width="0.5" />
<rect x="164.58" y="404.22" width="2.24" height="2.24" fill="#000" />
<rect x="187.38" y="405.5" width="2.24" height="2.24" fill="#000" />
<rect x="209.68" y="405.18" width="2.24" height="2.24" fill="#000" />
<rect x="232.68" y="405.18" width="2.24" height="2.24" fill="#000" />
<rect x="164.58" y="403.58" width="2.24" height="2.24" fill="#000" />
<rect x="187.38" y="407.41" width="2.24" height="2.24" fill="#000" />
<rect x="209.68" y="407.1" width="2.24" height="2.24" fill="#000" />
<rect x="232.68" y="406.46" width="2.24" height="2.24" fill="#000" />
<path d="M164.41 408.15L166.99 408.15L165.7 405.97Z" fill="#000" stroke="none" stroke-width="0.5" />
<path d="M187.21 414.22L189.79 414.22L188.5 412.03Z" fill="#000" stroke="none" stroke-width="0.5" />
<path d="M209.51 411.03L212.09 411.03L210.8 408.84Z" fill="#000" stroke="none" stroke-width="0.5" />
<path d="M232.51 406.88L235.09 406.88L233.8 404.69Z" fill="#000" stroke="none" stroke-width="0.5" />
<path d="M164.41 405.08L166.99 405.08L165.7 407.27Z" fill="#000" stroke="none" stroke-width="0.5" />
<path d="M187.21 405.08L189.79 405.08L188.5 407.27Z" fill="#000" stroke="none" stroke-width="0.5" />
<path d="M209.51 404.77L212.09 404.77L210.8 406.95Z" fill="#000" stroke="none" stroke-width="0.5" />
<path d="M232.51 403.81L235.09 403.81L233.8 405.99Z" fill="#000" stroke="none" stroke-width="0.5" />
<polyline points="165.7,405.66 188.5,375.98 210.8,374.38 233.8,374.38" fill="none" stroke="#4f8a28" stroke-width="0.45" stroke-linejoin="round" />
<polyline points="165.7,404.7 188.5,379.17 210.8,374.38 233.8,374.38" fill="none" stroke="#4f8a28" stroke-width="0.45" stroke-linejoin="round" />
<polyline points="165.7,406.3 188.5,380.76 210.8,374.7 233.8,374.38" fill="none" stroke="#4f8a28" stroke-width="0.45" stroke-linejoin="round" />
<polyline points="165.7,406.94 188.5,399.92 210.8,374.38 233.8,374.38" fill="none" stroke="#4f8a28" stroke-width="0.45" stroke-linejoin="round" />
<polyline points="165.7,405.34 188.5,403.11 210.8,374.7 233.8,374.38" fill="none" stroke="#4f8a28" stroke-width="0.45" stroke-linejoin="round" />
<polyline points="165.7,404.38 188.5,404.7 210.8,375.02 233.8,374.38" fill="none" stroke="#4f8a28" stroke-width="0.45" stroke-linejoin="round" />
<polyline points="165.7,405.98 188.5,401.51 210.8,374.38 233.8,374.38" fill="none" stroke="#4f8a28" stroke-width="0.45" stroke-linejoin="round" />
<polyline points="165.7,406.62 188.5,403.75 210.8,374.7 233.8,374.38" fill="none" stroke="#4f8a28" stroke-width="0.45" stroke-linejoin="round" />
<line x1="165.7" y1="408.53" x2="165.7" y2="402.15" stroke="#4f8a28" stroke-width="0.4" />
<line x1="164.8" y1="408.53" x2="166.6" y2="408.53" stroke="#4f8a28" stroke-width="0.4" />
<line x1="164.8" y1="402.15" x2="166.6" y2="402.15" stroke="#4f8a28" stroke-width="0.4" />
<line x1="188.5" y1="385.23" x2="188.5" y2="376.3" stroke="#4f8a28" stroke-width="0.4" />
<line x1="187.6" y1="385.23" x2="189.4" y2="385.23" stroke="#4f8a28" stroke-width="0.4" />
<line x1="187.6" y1="376.3" x2="189.4" y2="376.3" stroke="#4f8a28" stroke-width="0.4" />
<line x1="188.5" y1="403.75" x2="188.5" y2="396.09" stroke="#4f8a28" stroke-width="0.4" />
<line x1="187.6" y1="403.75" x2="189.4" y2="403.75" stroke="#4f8a28" stroke-width="0.4" />
<line x1="187.6" y1="396.09" x2="189.4" y2="396.09" stroke="#4f8a28" stroke-width="0.4" />
<circle cx="165.7" cy="405.66" r="1.2" fill="#3a661e"/>
<circle cx="188.5" cy="375.98" r="1.2" fill="#3a661e"/>
<circle cx="210.8" cy="374.38" r="1.2" fill="#3a661e"/>
<circle cx="233.8" cy="374.38" r="1.2" fill="#3a661e"/>
<rect x="164.5" y="403.5" width="2.4" height="2.4" fill="#3a661e" />
<rect x="187.3" y="377.97" width="2.4" height="2.4" fill="#3a661e" />
<rect x="209.6" y="373.18" width="2.4" height="2.4" fill="#3a661e" />
<rect x="232.6" y="373.18" width="2.4" height="2.4" fill="#3a661e" />
<path d="M164.32 407.26L167.08 407.26L165.7 404.92Z" fill="#3a661e" stroke="none" stroke-width="0.5" />
<path d="M187.12 381.72L189.88 381.72L188.5 379.38Z" fill="#3a661e" stroke="none" stroke-width="0.5" />
<path d="M209.42 375.66L212.18 375.66L210.8 373.32Z" fill="#3a661e" stroke="none" stroke-width="0.5" />
<path d="M232.42 375.34L235.18 375.34L233.8 373Z" fill="#3a661e" stroke="none" stroke-width="0.5" />
<path d="M164.32 405.98L167.08 405.98L165.7 408.32Z" fill="#3a661e" stroke="none" stroke-width="0.5" />
<path d="M187.12 398.96L189.88 398.96L188.5 401.3Z" fill="#3a661e" stroke="none" stroke-width="0.5" />
<path d="M209.42 373.42L212.18 373.42L210.8 375.76Z" fill="#3a661e" stroke="none" stroke-width="0.5" />
<path d="M232.42 373.42L235.18 373.42L233.8 375.76Z" fill="#3a661e" stroke="none" stroke-width="0.5" />
<circle cx="165.7" cy="405.34" r="1.2" fill="#fff" stroke="#3a661e" stroke-width="0.5"/>
<circle cx="188.5" cy="403.11" r="1.2" fill="#fff" stroke="#3a661e" stroke-width="0.5"/>
<circle cx="210.8" cy="374.7" r="1.2" fill="#fff" stroke="#3a661e" stroke-width="0.5"/>
<circle cx="233.8" cy="374.38" r="1.2" fill="#fff" stroke="#3a661e" stroke-width="0.5"/>
<rect x="164.5" y="403.18" width="2.4" height="2.4" fill="#fff" stroke="#3a661e" stroke-width="0.5" />
<rect x="187.3" y="403.5" width="2.4" height="2.4" fill="#fff" stroke="#3a661e" stroke-width="0.5" />
<rect x="209.6" y="373.82" width="2.4" height="2.4" fill="#fff" stroke="#3a661e" stroke-width="0.5" />
<rect x="232.6" y="373.18" width="2.4" height="2.4" fill="#fff" stroke="#3a661e" stroke-width="0.5" />
<path d="M164.32 406.94L167.08 406.94L165.7 404.6Z" fill="#3a661e" stroke="none" stroke-width="0.5" />
<path d="M187.12 402.47L189.88 402.47L188.5 400.13Z" fill="#3a661e" stroke="none" stroke-width="0.5" />
<path d="M209.42 375.34L212.18 375.34L210.8 373Z" fill="#3a661e" stroke="none" stroke-width="0.5" />
<path d="M232.42 375.34L235.18 375.34L233.8 373Z" fill="#3a661e" stroke="none" stroke-width="0.5" />
<path d="M164.32 405.66L167.08 405.66L165.7 408Z" fill="#3a661e" stroke="none" stroke-width="0.5" />
<path d="M187.12 402.79L189.88 402.79L188.5 405.13Z" fill="#3a661e" stroke="none" stroke-width="0.5" />
<path d="M209.42 373.74L212.18 373.74L210.8 376.08Z" fill="#3a661e" stroke="none" stroke-width="0.5" />
<path d="M232.42 373.42L235.18 373.42L233.8 375.76Z" fill="#3a661e" stroke="none" stroke-width="0.5" />
<line x1="160.9" y1="435.7" x2="166.1" y2="435.7" stroke="#4f8a28" stroke-width="0.5" />
<circle cx="163.5" cy="435.7" r="1" fill="#3a661e"/>
<text transform="translate(170.8 437.3) scale(0.88 1)" font-size="4.6" text-anchor="start" fill="#111" >R1</text>
<line x1="180.1" y1="435.7" x2="185.3" y2="435.7" stroke="#4f8a28" stroke-width="0.5" />
<rect x="181.7" y="434.7" width="2" height="2" fill="#3a661e" />
<text transform="translate(189.8 437.3) scale(0.88 1)" font-size="4.6" text-anchor="start" fill="#111" >R2</text>
<line x1="203.2" y1="435.7" x2="208.4" y2="435.7" stroke="#4f8a28" stroke-width="0.5" />
<path d="M204.65 436.5L206.95 436.5L205.8 434.55Z" fill="#3a661e" stroke="none" stroke-width="0.5" />
<text transform="translate(213.4 437.3) scale(0.88 1)" font-size="4.6" text-anchor="start" fill="#111" >R3</text>
<line x1="224.3" y1="435.7" x2="229.5" y2="435.7" stroke="#4f8a28" stroke-width="0.5" />
<path d="M225.75 434.9L228.05 434.9L226.9 436.85Z" fill="#3a661e" stroke="none" stroke-width="0.5" />
<text transform="translate(233.7 437.3) scale(0.88 1)" font-size="4.6" text-anchor="start" fill="#111" >R4</text>
<line x1="160.9" y1="444.1" x2="166.1" y2="444.1" stroke="#4f8a28" stroke-width="0.5" />
<circle cx="163.5" cy="444.1" r="1" fill="#fff" stroke="#3a661e" stroke-width="0.5"/>
<text transform="translate(170.8 445.7) scale(0.88 1)" font-size="4.6" text-anchor="start" fill="#111" >R5</text>
<line x1="180.1" y1="444.1" x2="185.3" y2="444.1" stroke="#4f8a28" stroke-width="0.5" />
<rect x="181.7" y="443.1" width="2" height="2" fill="#fff" stroke="#3a661e" stroke-width="0.5" />
<text transform="translate(189.8 445.7) scale(0.88 1)" font-size="4.6" text-anchor="start" fill="#111" >R6</text>
<line x1="203.2" y1="444.1" x2="208.4" y2="444.1" stroke="#4f8a28" stroke-width="0.5" />
<path d="M204.65 444.9L206.95 444.9L205.8 442.95Z" fill="#3a661e" stroke="none" stroke-width="0.5" />
<text transform="translate(213.4 445.7) scale(0.88 1)" font-size="4.6" text-anchor="start" fill="#111" >R7</text>
<line x1="224.3" y1="444.1" x2="229.5" y2="444.1" stroke="#4f8a28" stroke-width="0.5" />
<path d="M225.75 443.3L228.05 443.3L226.9 445.25Z" fill="#3a661e" stroke="none" stroke-width="0.5" />
<text transform="translate(233.7 445.7) scale(0.88 1)" font-size="4.6" text-anchor="start" fill="#111" >R8</text>
<line x1="286.6" y1="366.25" x2="286.6" y2="422.6" stroke="#000" stroke-width="0.55" />
<line x1="284.7" y1="422.6" x2="286.6" y2="422.6" stroke="#000" stroke-width="0.45" />
<text transform="translate(283.2 424.25) scale(0.95 1)" font-size="4.7" text-anchor="end" fill="#000" >−50</text>
<line x1="284.7" y1="414.55" x2="286.6" y2="414.55" stroke="#000" stroke-width="0.45" />
<text transform="translate(283.2 416.2) scale(0.95 1)" font-size="4.7" text-anchor="end" fill="#000" >−25</text>
<line x1="284.7" y1="406.5" x2="286.6" y2="406.5" stroke="#000" stroke-width="0.45" />
<text transform="translate(283.2 408.15) scale(0.95 1)" font-size="4.7" text-anchor="end" fill="#000" >0</text>
<line x1="284.7" y1="398.45" x2="286.6" y2="398.45" stroke="#000" stroke-width="0.45" />
<text transform="translate(283.2 400.1) scale(0.95 1)" font-size="4.7" text-anchor="end" fill="#000" >25</text>
<line x1="284.7" y1="390.4" x2="286.6" y2="390.4" stroke="#000" stroke-width="0.45" />
<text transform="translate(283.2 392.05) scale(0.95 1)" font-size="4.7" text-anchor="end" fill="#000" >50</text>
<line x1="284.7" y1="382.35" x2="286.6" y2="382.35" stroke="#000" stroke-width="0.45" />
<text transform="translate(283.2 384) scale(0.95 1)" font-size="4.7" text-anchor="end" fill="#000" >75</text>
<line x1="284.7" y1="374.3" x2="286.6" y2="374.3" stroke="#000" stroke-width="0.45" />
<text transform="translate(283.2 375.95) scale(0.95 1)" font-size="4.7" text-anchor="end" fill="#000" >100</text>
<line x1="284.7" y1="366.25" x2="286.6" y2="366.25" stroke="#000" stroke-width="0.45" />
<text transform="translate(283.2 367.9) scale(0.95 1)" font-size="4.7" text-anchor="end" fill="#000" >125</text>
<line x1="286.6" y1="406.5" x2="376.6" y2="406.5" stroke="#333" stroke-width="0.6" />
<line x1="298" y1="405.3" x2="298" y2="407.7" stroke="#333" stroke-width="0.4" />
<text transform="translate(298 419) scale(0.95 1)" font-size="4.7" text-anchor="middle" fill="#000" >0:1</text>
<line x1="321.1" y1="405.3" x2="321.1" y2="407.7" stroke="#333" stroke-width="0.4" />
<text transform="translate(321.1 419) scale(0.95 1)" font-size="4.7" text-anchor="middle" fill="#000" >0.125:1</text>
<line x1="343.5" y1="405.3" x2="343.5" y2="407.7" stroke="#333" stroke-width="0.4" />
<text transform="translate(343.5 419) scale(0.95 1)" font-size="4.7" text-anchor="middle" fill="#000" >0.5:1</text>
<line x1="365.9" y1="405.3" x2="365.9" y2="407.7" stroke="#333" stroke-width="0.4" />
<text transform="translate(365.9 419) scale(0.95 1)" font-size="4.7" text-anchor="middle" fill="#000" >2:1</text>
<text transform="translate(332 361.6) scale(0.95 1)" font-size="4.8" text-anchor="middle" fill="#000" >Daudi</text>
<text transform="translate(331.6 426.2) scale(0.95 1)" font-size="5.1" text-anchor="middle" fill="#000" >E:T ratio</text>
<polyline points="298,402.64 321.1,404.57 343.5,399.42 365.9,386.54" fill="none" stroke="#000" stroke-width="0.45" stroke-linejoin="round" />
<polyline points="298,403.92 321.1,404.89 343.5,402.64 365.9,396.2" fill="none" stroke="#000" stroke-width="0.45" stroke-linejoin="round" />
<polyline points="298,403.28 321.1,405.21 343.5,403.92 365.9,408.11" fill="none" stroke="#000" stroke-width="0.45" stroke-linejoin="round" />
<polyline points="298,404.57 321.1,405.53 343.5,404.57 365.9,410.36" fill="none" stroke="#000" stroke-width="0.45" stroke-linejoin="round" />
<polyline points="298,401.99 321.1,403.92 343.5,404.89 365.9,411.33" fill="none" stroke="#000" stroke-width="0.45" stroke-linejoin="round" />
<polyline points="298,404.89 321.1,405.86 343.5,405.53 365.9,416.16" fill="none" stroke="#000" stroke-width="0.45" stroke-linejoin="round" />
<polyline points="298,405.53 321.1,404.57 343.5,410.36 365.9,417.77" fill="none" stroke="#000" stroke-width="0.45" stroke-linejoin="round" />
<polyline points="298,403.6 321.1,405.21 343.5,404.25 365.9,409.08" fill="none" stroke="#000" stroke-width="0.45" stroke-linejoin="round" />
<line x1="298" y1="407.79" x2="298" y2="400.06" stroke="#000" stroke-width="0.45" />
<line x1="297" y1="407.79" x2="299" y2="407.79" stroke="#000" stroke-width="0.45" />
<line x1="297" y1="400.06" x2="299" y2="400.06" stroke="#000" stroke-width="0.45" />
<line x1="321.1" y1="406.82" x2="321.1" y2="402.96" stroke="#000" stroke-width="0.45" />
<line x1="320.1" y1="406.82" x2="322.1" y2="406.82" stroke="#000" stroke-width="0.45" />
<line x1="320.1" y1="402.96" x2="322.1" y2="402.96" stroke="#000" stroke-width="0.45" />
<line x1="343.5" y1="407.79" x2="343.5" y2="398.77" stroke="#000" stroke-width="0.45" />
<line x1="342.5" y1="407.79" x2="344.5" y2="407.79" stroke="#000" stroke-width="0.45" />
<line x1="342.5" y1="398.77" x2="344.5" y2="398.77" stroke="#000" stroke-width="0.45" />
<line x1="365.9" y1="392.33" x2="365.9" y2="380.74" stroke="#000" stroke-width="0.45" />
<line x1="364.9" y1="392.33" x2="366.9" y2="392.33" stroke="#000" stroke-width="0.45" />
<line x1="364.9" y1="380.74" x2="366.9" y2="380.74" stroke="#000" stroke-width="0.45" />
<line x1="365.9" y1="402.64" x2="365.9" y2="389.76" stroke="#000" stroke-width="0.45" />
<line x1="364.9" y1="402.64" x2="366.9" y2="402.64" stroke="#000" stroke-width="0.45" />
<line x1="364.9" y1="389.76" x2="366.9" y2="389.76" stroke="#000" stroke-width="0.45" />
<line x1="365.9" y1="423.57" x2="365.9" y2="410.69" stroke="#000" stroke-width="0.45" />
<line x1="364.9" y1="423.57" x2="366.9" y2="423.57" stroke="#000" stroke-width="0.45" />
<line x1="364.9" y1="410.69" x2="366.9" y2="410.69" stroke="#000" stroke-width="0.45" />
<circle cx="298" cy="402.64" r="1.12" fill="#000"/>
<circle cx="321.1" cy="404.57" r="1.12" fill="#000"/>
<circle cx="343.5" cy="399.42" r="1.12" fill="#000"/>
<circle cx="365.9" cy="386.54" r="1.12" fill="#000"/>
<rect x="296.88" y="402.8" width="2.24" height="2.24" fill="#000" />
<rect x="319.98" y="403.77" width="2.24" height="2.24" fill="#000" />
<rect x="342.38" y="401.52" width="2.24" height="2.24" fill="#000" />
<rect x="364.78" y="395.08" width="2.24" height="2.24" fill="#000" />
<path d="M296.71 404.18L299.29 404.18L298 401.99Z" fill="#000" stroke="none" stroke-width="0.5" />
<path d="M319.81 406.11L322.39 406.11L321.1 403.92Z" fill="#000" stroke="none" stroke-width="0.5" />
<path d="M342.21 404.82L344.79 404.82L343.5 402.64Z" fill="#000" stroke="none" stroke-width="0.5" />
<path d="M364.61 409.01L367.19 409.01L365.9 406.82Z" fill="#000" stroke="none" stroke-width="0.5" />
<path d="M296.71 403.67L299.29 403.67L298 405.86Z" fill="#000" stroke="none" stroke-width="0.5" />
<path d="M319.81 404.64L322.39 404.64L321.1 406.82Z" fill="#000" stroke="none" stroke-width="0.5" />
<path d="M342.21 403.67L344.79 403.67L343.5 405.86Z" fill="#000" stroke="none" stroke-width="0.5" />
<path d="M364.61 409.47L367.19 409.47L365.9 411.65Z" fill="#000" stroke="none" stroke-width="0.5" />
<rect x="296.88" y="400.87" width="2.24" height="2.24" fill="#000" />
<rect x="319.98" y="402.8" width="2.24" height="2.24" fill="#000" />
<rect x="342.38" y="403.77" width="2.24" height="2.24" fill="#000" />
<rect x="364.78" y="410.21" width="2.24" height="2.24" fill="#000" />
<rect x="296.88" y="403.77" width="2.24" height="2.24" fill="#000" />
<rect x="319.98" y="404.74" width="2.24" height="2.24" fill="#000" />
<rect x="342.38" y="404.41" width="2.24" height="2.24" fill="#000" />
<rect x="364.78" y="415.04" width="2.24" height="2.24" fill="#000" />
<path d="M296.71 406.43L299.29 406.43L298 404.25Z" fill="#000" stroke="none" stroke-width="0.5" />
<path d="M319.81 405.46L322.39 405.46L321.1 403.28Z" fill="#000" stroke="none" stroke-width="0.5" />
<path d="M342.21 411.26L344.79 411.26L343.5 409.08Z" fill="#000" stroke="none" stroke-width="0.5" />
<path d="M364.61 418.67L367.19 418.67L365.9 416.48Z" fill="#000" stroke="none" stroke-width="0.5" />
<path d="M296.71 402.71L299.29 402.71L298 404.89Z" fill="#000" stroke="none" stroke-width="0.5" />
<path d="M319.81 404.32L322.39 404.32L321.1 406.5Z" fill="#000" stroke="none" stroke-width="0.5" />
<path d="M342.21 403.35L344.79 403.35L343.5 405.53Z" fill="#000" stroke="none" stroke-width="0.5" />
<path d="M364.61 408.18L367.19 408.18L365.9 410.36Z" fill="#000" stroke="none" stroke-width="0.5" />
<polyline points="298,404.89 321.1,375.91 343.5,374.94 365.9,374.3" fill="none" stroke="#4f8a28" stroke-width="0.45" stroke-linejoin="round" />
<polyline points="298,403.92 321.1,376.55 343.5,374.62 365.9,374.3" fill="none" stroke="#4f8a28" stroke-width="0.45" stroke-linejoin="round" />
<polyline points="298,406.5 321.1,375.27 343.5,374.3 365.9,374.3" fill="none" stroke="#4f8a28" stroke-width="0.45" stroke-linejoin="round" />
<polyline points="298,407.47 321.1,384.6 343.5,374.94 365.9,374.3" fill="none" stroke="#4f8a28" stroke-width="0.45" stroke-linejoin="round" />
<polyline points="298,405.21 321.1,408.11 343.5,375.27 365.9,374.3" fill="none" stroke="#4f8a28" stroke-width="0.45" stroke-linejoin="round" />
<polyline points="298,403.28 321.1,409.08 343.5,374.94 365.9,374.3" fill="none" stroke="#4f8a28" stroke-width="0.45" stroke-linejoin="round" />
<polyline points="298,408.11 321.1,405.53 343.5,390.4 365.9,374.3" fill="none" stroke="#4f8a28" stroke-width="0.45" stroke-linejoin="round" />
<polyline points="298,405.86 321.1,407.14 343.5,374.62 365.9,374.3" fill="none" stroke="#4f8a28" stroke-width="0.45" stroke-linejoin="round" />
<line x1="298" y1="410.36" x2="298" y2="401.35" stroke="#4f8a28" stroke-width="0.4" />
<line x1="297.1" y1="410.36" x2="298.9" y2="410.36" stroke="#4f8a28" stroke-width="0.4" />
<line x1="297.1" y1="401.35" x2="298.9" y2="401.35" stroke="#4f8a28" stroke-width="0.4" />
<line x1="321.1" y1="387.82" x2="321.1" y2="381.38" stroke="#4f8a28" stroke-width="0.4" />
<line x1="320.2" y1="387.82" x2="322" y2="387.82" stroke="#4f8a28" stroke-width="0.4" />
<line x1="320.2" y1="381.38" x2="322" y2="381.38" stroke="#4f8a28" stroke-width="0.4" />
<line x1="343.5" y1="395.55" x2="343.5" y2="385.25" stroke="#4f8a28" stroke-width="0.4" />
<line x1="342.6" y1="395.55" x2="344.4" y2="395.55" stroke="#4f8a28" stroke-width="0.4" />
<line x1="342.6" y1="385.25" x2="344.4" y2="385.25" stroke="#4f8a28" stroke-width="0.4" />
<line x1="321.1" y1="377.52" x2="321.1" y2="374.3" stroke="#4f8a28" stroke-width="0.4" />
<line x1="320.2" y1="377.52" x2="322" y2="377.52" stroke="#4f8a28" stroke-width="0.4" />
<line x1="320.2" y1="374.3" x2="322" y2="374.3" stroke="#4f8a28" stroke-width="0.4" />
<circle cx="298" cy="404.89" r="1.2" fill="#3a661e"/>
<circle cx="321.1" cy="375.91" r="1.2" fill="#3a661e"/>
<circle cx="343.5" cy="374.94" r="1.2" fill="#3a661e"/>
<circle cx="365.9" cy="374.3" r="1.2" fill="#3a661e"/>
<rect x="296.8" y="402.72" width="2.4" height="2.4" fill="#3a661e" />
<rect x="319.9" y="375.35" width="2.4" height="2.4" fill="#3a661e" />
<rect x="342.3" y="373.42" width="2.4" height="2.4" fill="#3a661e" />
<rect x="364.7" y="373.1" width="2.4" height="2.4" fill="#3a661e" />
<path d="M296.62 407.46L299.38 407.46L298 405.12Z" fill="#3a661e" stroke="none" stroke-width="0.5" />
<path d="M319.72 376.23L322.48 376.23L321.1 373.89Z" fill="#3a661e" stroke="none" stroke-width="0.5" />
<path d="M342.12 375.26L344.88 375.26L343.5 372.92Z" fill="#3a661e" stroke="none" stroke-width="0.5" />
<path d="M364.52 375.26L367.28 375.26L365.9 372.92Z" fill="#3a661e" stroke="none" stroke-width="0.5" />
<path d="M296.62 406.51L299.38 406.51L298 408.85Z" fill="#3a661e" stroke="none" stroke-width="0.5" />
<path d="M319.72 383.64L322.48 383.64L321.1 385.98Z" fill="#3a661e" stroke="none" stroke-width="0.5" />
<path d="M342.12 373.98L344.88 373.98L343.5 376.32Z" fill="#3a661e" stroke="none" stroke-width="0.5" />
<path d="M364.52 373.34L367.28 373.34L365.9 375.68Z" fill="#3a661e" stroke="none" stroke-width="0.5" />
<circle cx="298" cy="405.21" r="1.2" fill="#fff" stroke="#3a661e" stroke-width="0.5"/>
<circle cx="321.1" cy="408.11" r="1.2" fill="#fff" stroke="#3a661e" stroke-width="0.5"/>
<circle cx="343.5" cy="375.27" r="1.2" fill="#fff" stroke="#3a661e" stroke-width="0.5"/>
<circle cx="365.9" cy="374.3" r="1.2" fill="#fff" stroke="#3a661e" stroke-width="0.5"/>
<rect x="296.8" y="402.08" width="2.4" height="2.4" fill="#fff" stroke="#3a661e" stroke-width="0.5" />
<rect x="319.9" y="407.88" width="2.4" height="2.4" fill="#fff" stroke="#3a661e" stroke-width="0.5" />
<rect x="342.3" y="373.74" width="2.4" height="2.4" fill="#fff" stroke="#3a661e" stroke-width="0.5" />
<rect x="364.7" y="373.1" width="2.4" height="2.4" fill="#fff" stroke="#3a661e" stroke-width="0.5" />
<path d="M296.62 409.07L299.38 409.07L298 406.73Z" fill="#3a661e" stroke="none" stroke-width="0.5" />
<path d="M319.72 406.49L322.48 406.49L321.1 404.15Z" fill="#3a661e" stroke="none" stroke-width="0.5" />
<path d="M342.12 391.36L344.88 391.36L343.5 389.02Z" fill="#3a661e" stroke="none" stroke-width="0.5" />
<path d="M364.52 375.26L367.28 375.26L365.9 372.92Z" fill="#3a661e" stroke="none" stroke-width="0.5" />
<path d="M296.62 404.9L299.38 404.9L298 407.24Z" fill="#3a661e" stroke="none" stroke-width="0.5" />
<path d="M319.72 406.18L322.48 406.18L321.1 408.52Z" fill="#3a661e" stroke="none" stroke-width="0.5" />
<path d="M342.12 373.66L344.88 373.66L343.5 376Z" fill="#3a661e" stroke="none" stroke-width="0.5" />
<path d="M364.52 373.34L367.28 373.34L365.9 375.68Z" fill="#3a661e" stroke="none" stroke-width="0.5" />
<line x1="291.2" y1="435.7" x2="296.4" y2="435.7" stroke="#4f8a28" stroke-width="0.5" />
<circle cx="293.8" cy="435.7" r="1" fill="#3a661e"/>
<text transform="translate(301.2 437.3) scale(0.88 1)" font-size="4.6" text-anchor="start" fill="#111" >R1</text>
<line x1="312" y1="435.7" x2="317.2" y2="435.7" stroke="#4f8a28" stroke-width="0.5" />
<rect x="313.6" y="434.7" width="2" height="2" fill="#3a661e" />
<text transform="translate(321.3 437.3) scale(0.88 1)" font-size="4.6" text-anchor="start" fill="#111" >R2</text>
<line x1="337" y1="435.7" x2="342.2" y2="435.7" stroke="#4f8a28" stroke-width="0.5" />
<path d="M338.45 436.5L340.75 436.5L339.6 434.55Z" fill="#3a661e" stroke="none" stroke-width="0.5" />
<text transform="translate(346.3 437.3) scale(0.88 1)" font-size="4.6" text-anchor="start" fill="#111" >R3</text>
<line x1="360.1" y1="435.7" x2="365.3" y2="435.7" stroke="#4f8a28" stroke-width="0.5" />
<path d="M361.55 434.9L363.85 434.9L362.7 436.85Z" fill="#3a661e" stroke="none" stroke-width="0.5" />
<text transform="translate(368.5 437.3) scale(0.88 1)" font-size="4.6" text-anchor="start" fill="#111" >R4</text>
<line x1="291.2" y1="444.1" x2="296.4" y2="444.1" stroke="#4f8a28" stroke-width="0.5" />
<circle cx="293.8" cy="444.1" r="1" fill="#fff" stroke="#3a661e" stroke-width="0.5"/>
<text transform="translate(301.2 445.7) scale(0.88 1)" font-size="4.6" text-anchor="start" fill="#111" >R5</text>
<line x1="312" y1="444.1" x2="317.2" y2="444.1" stroke="#4f8a28" stroke-width="0.5" />
<rect x="313.6" y="443.1" width="2" height="2" fill="#fff" stroke="#3a661e" stroke-width="0.5" />
<text transform="translate(321.3 445.7) scale(0.88 1)" font-size="4.6" text-anchor="start" fill="#111" >R6</text>
<line x1="337" y1="444.1" x2="342.2" y2="444.1" stroke="#4f8a28" stroke-width="0.5" />
<path d="M338.45 444.9L340.75 444.9L339.6 442.95Z" fill="#3a661e" stroke="none" stroke-width="0.5" />
<text transform="translate(346.3 445.7) scale(0.88 1)" font-size="4.6" text-anchor="start" fill="#111" >R7</text>
<line x1="360.1" y1="444.1" x2="365.3" y2="444.1" stroke="#4f8a28" stroke-width="0.5" />
<path d="M361.55 443.3L363.85 443.3L362.7 445.25Z" fill="#3a661e" stroke="none" stroke-width="0.5" />
<text transform="translate(368.5 445.7) scale(0.88 1)" font-size="4.6" text-anchor="start" fill="#111" >R8</text>
<line x1="22.5" y1="473.7" x2="22.5" y2="519.5" stroke="#000" stroke-width="0.55" />
<line x1="20.9" y1="519.5" x2="22.5" y2="519.5" stroke="#000" stroke-width="0.45" />
<text transform="translate(20.1 518.3) scale(0.95 1)" font-size="4.8" text-anchor="end" fill="#000" >0</text>
<line x1="20.9" y1="510.34" x2="22.5" y2="510.34" stroke="#000" stroke-width="0.45" />
<text transform="translate(20.1 509.14) scale(0.95 1)" font-size="4.8" text-anchor="end" fill="#000" >20</text>
<line x1="20.9" y1="501.18" x2="22.5" y2="501.18" stroke="#000" stroke-width="0.45" />
<text transform="translate(20.1 499.98) scale(0.95 1)" font-size="4.8" text-anchor="end" fill="#000" >40</text>
<line x1="20.9" y1="492.02" x2="22.5" y2="492.02" stroke="#000" stroke-width="0.45" />
<text transform="translate(20.1 490.82) scale(0.95 1)" font-size="4.8" text-anchor="end" fill="#000" >60</text>
<line x1="20.9" y1="482.86" x2="22.5" y2="482.86" stroke="#000" stroke-width="0.45" />
<text transform="translate(20.1 481.66) scale(0.95 1)" font-size="4.8" text-anchor="end" fill="#000" >80</text>
<line x1="20.9" y1="473.7" x2="22.5" y2="473.7" stroke="#000" stroke-width="0.45" />
<text transform="translate(20.1 472.5) scale(0.95 1)" font-size="4.8" text-anchor="end" fill="#000" >100</text>
<text transform="translate(9.2 492) rotate(-90) scale(0.95 1)" font-size="4.8" text-anchor="middle" fill="#111">Ki-67<tspan dy="-1.6" font-size="3">+</tspan><tspan dy="1.6"> (%)</tspan></text>
<text transform="translate(70.5 467.9) scale(0.95 1)" font-size="5.3" text-anchor="middle" fill="#000" >MM.1S</text>
<text transform="translate(80.9 542) scale(0.92 1)" font-size="4.6" text-anchor="middle" fill="#000" >E:T ratio</text>
<line x1="25.1" y1="545.6" x2="40.7" y2="545.6" stroke="#222" stroke-width="0.5" />
<text transform="translate(32.65 551.7) scale(0.92 1)" font-size="4.6" text-anchor="middle" fill="#000" >R1</text>
<rect x="24.8" y="479.38" width="4.2" height="40.12" fill="#5d8d39" stroke="#36591f" stroke-width="0.6" />
<line x1="25.85" y1="479.78" x2="25.85" y2="519.5" stroke="#48712a" stroke-width="0.25" />
<line x1="26.9" y1="479.78" x2="26.9" y2="519.5" stroke="#48712a" stroke-width="0.25" />
<line x1="27.95" y1="479.78" x2="27.95" y2="519.5" stroke="#48712a" stroke-width="0.25" />
<circle cx="26.1" cy="479.08" r="0.6" fill="#222"/>
<circle cx="27.8" cy="478.58" r="0.6" fill="#222"/>
<rect x="24.6" y="512.17" width="4.6" height="7.33" fill="#000" />
<circle cx="26.9" cy="510.97" r="0.55" fill="#1a1a1a"/>
<text transform="translate(28.5 523.9) rotate(-55) scale(0.95 1)" font-size="5" text-anchor="end" fill="#000" >2:1</text>
<rect x="31.05" y="477.36" width="4.2" height="42.14" fill="#5d8d39" stroke="#36591f" stroke-width="0.6" />
<line x1="32.1" y1="477.76" x2="32.1" y2="519.5" stroke="#48712a" stroke-width="0.25" />
<line x1="33.15" y1="477.76" x2="33.15" y2="519.5" stroke="#48712a" stroke-width="0.25" />
<line x1="34.2" y1="477.76" x2="34.2" y2="519.5" stroke="#48712a" stroke-width="0.25" />
<circle cx="32.35" cy="477.06" r="0.6" fill="#222"/>
<circle cx="34.05" cy="476.56" r="0.6" fill="#222"/>
<rect x="30.85" y="512.17" width="4.6" height="7.33" fill="#000" />
<circle cx="33.15" cy="510.97" r="0.55" fill="#1a1a1a"/>
<text transform="translate(34.75 523.9) rotate(-55) scale(0.95 1)" font-size="5" text-anchor="end" fill="#000" >0.5:1</text>
<rect x="37.3" y="475.99" width="4.2" height="43.51" fill="#5d8d39" stroke="#36591f" stroke-width="0.6" />
<line x1="38.35" y1="476.39" x2="38.35" y2="519.5" stroke="#48712a" stroke-width="0.25" />
<line x1="39.4" y1="476.39" x2="39.4" y2="519.5" stroke="#48712a" stroke-width="0.25" />
<line x1="40.45" y1="476.39" x2="40.45" y2="519.5" stroke="#48712a" stroke-width="0.25" />
<circle cx="38.6" cy="475.69" r="0.6" fill="#222"/>
<circle cx="40.3" cy="475.19" r="0.6" fill="#222"/>
<rect x="37.1" y="513.09" width="4.6" height="6.41" fill="#000" />
<circle cx="39.4" cy="511.89" r="0.55" fill="#1a1a1a"/>
<text transform="translate(41 523.9) rotate(-55) scale(0.95 1)" font-size="5" text-anchor="end" fill="#000" >0.125:1</text>
<line x1="48.15" y1="545.6" x2="63.75" y2="545.6" stroke="#222" stroke-width="0.5" />
<text transform="translate(55.7 551.7) scale(0.92 1)" font-size="4.6" text-anchor="middle" fill="#000" >R2</text>
<line x1="49.95" y1="486.98" x2="49.95" y2="487.9" stroke="#111" stroke-width="0.55" />
<line x1="48.75" y1="486.98" x2="51.15" y2="486.98" stroke="#111" stroke-width="0.55" />
<line x1="48.75" y1="487.9" x2="51.15" y2="487.9" stroke="#111" stroke-width="0.55" />
<rect x="47.85" y="487.9" width="4.2" height="31.6" fill="#5d8d39" stroke="#36591f" stroke-width="0.6" />
<line x1="48.9" y1="488.3" x2="48.9" y2="519.5" stroke="#48712a" stroke-width="0.25" />
<line x1="49.95" y1="488.3" x2="49.95" y2="519.5" stroke="#48712a" stroke-width="0.25" />
<line x1="51" y1="488.3" x2="51" y2="519.5" stroke="#48712a" stroke-width="0.25" />
<circle cx="49.15" cy="487.6" r="0.6" fill="#222"/>
<circle cx="50.85" cy="487.1" r="0.6" fill="#222"/>
<rect x="47.65" y="518.58" width="4.6" height="0.92" fill="#000" />
<circle cx="49.95" cy="517.38" r="0.55" fill="#1a1a1a"/>
<text transform="translate(51.55 523.9) rotate(-55) scale(0.95 1)" font-size="5" text-anchor="end" fill="#000" >2:1</text>
<rect x="54.1" y="484.69" width="4.2" height="34.81" fill="#5d8d39" stroke="#36591f" stroke-width="0.6" />
<line x1="55.15" y1="485.09" x2="55.15" y2="519.5" stroke="#48712a" stroke-width="0.25" />
<line x1="56.2" y1="485.09" x2="56.2" y2="519.5" stroke="#48712a" stroke-width="0.25" />
<line x1="57.25" y1="485.09" x2="57.25" y2="519.5" stroke="#48712a" stroke-width="0.25" />
<circle cx="55.4" cy="484.39" r="0.6" fill="#222"/>
<circle cx="57.1" cy="483.89" r="0.6" fill="#222"/>
<rect x="53.9" y="518.58" width="4.6" height="0.92" fill="#000" />
<circle cx="56.2" cy="517.38" r="0.55" fill="#1a1a1a"/>
<text transform="translate(57.8 523.9) rotate(-55) scale(0.95 1)" font-size="5" text-anchor="end" fill="#000" >0.5:1</text>
<line x1="62.45" y1="482.86" x2="62.45" y2="485.15" stroke="#111" stroke-width="0.55" />
<line x1="61.25" y1="482.86" x2="63.65" y2="482.86" stroke="#111" stroke-width="0.55" />
<line x1="61.25" y1="485.15" x2="63.65" y2="485.15" stroke="#111" stroke-width="0.55" />
<rect x="60.35" y="485.15" width="4.2" height="34.35" fill="#5d8d39" stroke="#36591f" stroke-width="0.6" />
<line x1="61.4" y1="485.55" x2="61.4" y2="519.5" stroke="#48712a" stroke-width="0.25" />
<line x1="62.45" y1="485.55" x2="62.45" y2="519.5" stroke="#48712a" stroke-width="0.25" />
<line x1="63.5" y1="485.55" x2="63.5" y2="519.5" stroke="#48712a" stroke-width="0.25" />
<circle cx="61.65" cy="484.85" r="0.6" fill="#222"/>
<circle cx="63.35" cy="484.35" r="0.6" fill="#222"/>
<rect x="60.15" y="518.13" width="4.6" height="1.37" fill="#000" />
<circle cx="62.45" cy="516.93" r="0.55" fill="#1a1a1a"/>
<text transform="translate(64.05 523.9) rotate(-55) scale(0.95 1)" font-size="5" text-anchor="end" fill="#000" >0.125:1</text>
<line x1="71.2" y1="545.6" x2="86.8" y2="545.6" stroke="#222" stroke-width="0.5" />
<text transform="translate(78.75 551.7) scale(0.92 1)" font-size="4.6" text-anchor="middle" fill="#000" >R3</text>
<rect x="70.9" y="487.44" width="4.2" height="32.06" fill="#5d8d39" stroke="#36591f" stroke-width="0.6" />
<line x1="71.95" y1="487.84" x2="71.95" y2="519.5" stroke="#48712a" stroke-width="0.25" />
<line x1="73" y1="487.84" x2="73" y2="519.5" stroke="#48712a" stroke-width="0.25" />
<line x1="74.05" y1="487.84" x2="74.05" y2="519.5" stroke="#48712a" stroke-width="0.25" />
<circle cx="72.2" cy="487.14" r="0.6" fill="#222"/>
<circle cx="73.9" cy="486.64" r="0.6" fill="#222"/>
<rect x="70.7" y="517.21" width="4.6" height="2.29" fill="#000" />
<circle cx="73" cy="516.01" r="0.55" fill="#1a1a1a"/>
<text transform="translate(74.6 523.9) rotate(-55) scale(0.95 1)" font-size="5" text-anchor="end" fill="#000" >2:1</text>
<line x1="79.25" y1="484.23" x2="79.25" y2="485.15" stroke="#111" stroke-width="0.55" />
<line x1="78.05" y1="484.23" x2="80.45" y2="484.23" stroke="#111" stroke-width="0.55" />
<line x1="78.05" y1="485.15" x2="80.45" y2="485.15" stroke="#111" stroke-width="0.55" />
<rect x="77.15" y="485.15" width="4.2" height="34.35" fill="#5d8d39" stroke="#36591f" stroke-width="0.6" />
<line x1="78.2" y1="485.55" x2="78.2" y2="519.5" stroke="#48712a" stroke-width="0.25" />
<line x1="79.25" y1="485.55" x2="79.25" y2="519.5" stroke="#48712a" stroke-width="0.25" />
<line x1="80.3" y1="485.55" x2="80.3" y2="519.5" stroke="#48712a" stroke-width="0.25" />
<circle cx="78.45" cy="484.85" r="0.6" fill="#222"/>
<circle cx="80.15" cy="484.35" r="0.6" fill="#222"/>
<rect x="76.95" y="516.29" width="4.6" height="3.21" fill="#000" />
<circle cx="79.25" cy="515.09" r="0.55" fill="#1a1a1a"/>
<text transform="translate(80.85 523.9) rotate(-55) scale(0.95 1)" font-size="5" text-anchor="end" fill="#000" >0.5:1</text>
<line x1="85.5" y1="478.51" x2="85.5" y2="485.84" stroke="#111" stroke-width="0.55" />
<line x1="84.3" y1="478.51" x2="86.7" y2="478.51" stroke="#111" stroke-width="0.55" />
<line x1="84.3" y1="485.84" x2="86.7" y2="485.84" stroke="#111" stroke-width="0.55" />
<rect x="83.4" y="485.84" width="4.2" height="33.66" fill="#5d8d39" stroke="#36591f" stroke-width="0.6" />
<line x1="84.45" y1="486.24" x2="84.45" y2="519.5" stroke="#48712a" stroke-width="0.25" />
<line x1="85.5" y1="486.24" x2="85.5" y2="519.5" stroke="#48712a" stroke-width="0.25" />
<line x1="86.55" y1="486.24" x2="86.55" y2="519.5" stroke="#48712a" stroke-width="0.25" />
<circle cx="84.7" cy="485.54" r="0.6" fill="#222"/>
<circle cx="86.4" cy="485.04" r="0.6" fill="#222"/>
<rect x="83.2" y="514.92" width="4.6" height="4.58" fill="#000" />
<circle cx="85.5" cy="513.72" r="0.55" fill="#1a1a1a"/>
<text transform="translate(85.5 475.64)" font-size="5.8" text-anchor="middle" fill="#000" >*</text>
<text transform="translate(87.1 523.9) rotate(-55) scale(0.95 1)" font-size="5" text-anchor="end" fill="#000" >0.125:1</text>
<line x1="94.25" y1="545.6" x2="109.85" y2="545.6" stroke="#222" stroke-width="0.5" />
<text transform="translate(101.8 551.7) scale(0.92 1)" font-size="4.6" text-anchor="middle" fill="#000" >R4</text>
<line x1="96.05" y1="493.39" x2="96.05" y2="496.6" stroke="#111" stroke-width="0.55" />
<line x1="94.85" y1="493.39" x2="97.25" y2="493.39" stroke="#111" stroke-width="0.55" />
<line x1="94.85" y1="496.6" x2="97.25" y2="496.6" stroke="#111" stroke-width="0.55" />
<rect x="93.95" y="496.6" width="4.2" height="22.9" fill="#5d8d39" stroke="#36591f" stroke-width="0.6" />
<line x1="95" y1="497" x2="95" y2="519.5" stroke="#48712a" stroke-width="0.25" />
<line x1="96.05" y1="497" x2="96.05" y2="519.5" stroke="#48712a" stroke-width="0.25" />
<line x1="97.1" y1="497" x2="97.1" y2="519.5" stroke="#48712a" stroke-width="0.25" />
<circle cx="95.25" cy="496.3" r="0.6" fill="#222"/>
<circle cx="96.95" cy="495.8" r="0.6" fill="#222"/>
<rect x="93.75" y="513.55" width="4.6" height="5.95" fill="#000" />
<circle cx="96.05" cy="512.35" r="0.55" fill="#1a1a1a"/>
<text transform="translate(97.65 523.9) rotate(-55) scale(0.95 1)" font-size="5" text-anchor="end" fill="#000" >2:1</text>
<line x1="102.3" y1="493.39" x2="102.3" y2="496.14" stroke="#111" stroke-width="0.55" />
<line x1="101.1" y1="493.39" x2="103.5" y2="493.39" stroke="#111" stroke-width="0.55" />
<line x1="101.1" y1="496.14" x2="103.5" y2="496.14" stroke="#111" stroke-width="0.55" />
<rect x="100.2" y="496.14" width="4.2" height="23.36" fill="#5d8d39" stroke="#36591f" stroke-width="0.6" />
<line x1="101.25" y1="496.54" x2="101.25" y2="519.5" stroke="#48712a" stroke-width="0.25" />
<line x1="102.3" y1="496.54" x2="102.3" y2="519.5" stroke="#48712a" stroke-width="0.25" />
<line x1="103.35" y1="496.54" x2="103.35" y2="519.5" stroke="#48712a" stroke-width="0.25" />
<circle cx="101.5" cy="495.84" r="0.6" fill="#222"/>
<circle cx="103.2" cy="495.34" r="0.6" fill="#222"/>
<rect x="100" y="509.42" width="4.6" height="10.08" fill="#000" />
<circle cx="102.3" cy="508.22" r="0.55" fill="#1a1a1a"/>
<text transform="translate(103.9 523.9) rotate(-55) scale(0.95 1)" font-size="5" text-anchor="end" fill="#000" >0.5:1</text>
<line x1="106.25" y1="519.1" x2="110.85" y2="519.1" stroke="#333" stroke-width="0.9" />
<text transform="translate(110.15 523.9) rotate(-55) scale(0.95 1)" font-size="5" text-anchor="end" fill="#000" >0.125:1</text>
<line x1="117.3" y1="545.6" x2="132.9" y2="545.6" stroke="#222" stroke-width="0.5" />
<text transform="translate(124.85 551.7) scale(0.92 1)" font-size="4.6" text-anchor="middle" fill="#000" >R5</text>
<line x1="119.1" y1="474.62" x2="119.1" y2="482.4" stroke="#111" stroke-width="0.55" />
<line x1="117.9" y1="474.62" x2="120.3" y2="474.62" stroke="#111" stroke-width="0.55" />
<line x1="117.9" y1="482.4" x2="120.3" y2="482.4" stroke="#111" stroke-width="0.55" />
<rect x="117" y="482.4" width="4.2" height="37.1" fill="#5d8d39" stroke="#36591f" stroke-width="0.6" />
<line x1="118.05" y1="482.8" x2="118.05" y2="519.5" stroke="#48712a" stroke-width="0.25" />
<line x1="119.1" y1="482.8" x2="119.1" y2="519.5" stroke="#48712a" stroke-width="0.25" />
<line x1="120.15" y1="482.8" x2="120.15" y2="519.5" stroke="#48712a" stroke-width="0.25" />
<circle cx="118.3" cy="482.1" r="0.6" fill="#222"/>
<circle cx="120" cy="481.6" r="0.6" fill="#222"/>
<rect x="116.8" y="518.58" width="4.6" height="0.92" fill="#000" />
<circle cx="119.1" cy="517.38" r="0.55" fill="#1a1a1a"/>
<text transform="translate(120.7 523.9) rotate(-55) scale(0.95 1)" font-size="5" text-anchor="end" fill="#000" >2:1</text>
<line x1="125.35" y1="474.62" x2="125.35" y2="485.84" stroke="#111" stroke-width="0.55" />
<line x1="124.15" y1="474.62" x2="126.55" y2="474.62" stroke="#111" stroke-width="0.55" />
<line x1="124.15" y1="485.84" x2="126.55" y2="485.84" stroke="#111" stroke-width="0.55" />
<rect x="123.25" y="485.84" width="4.2" height="33.66" fill="#5d8d39" stroke="#36591f" stroke-width="0.6" />
<line x1="124.3" y1="486.24" x2="124.3" y2="519.5" stroke="#48712a" stroke-width="0.25" />
<line x1="125.35" y1="486.24" x2="125.35" y2="519.5" stroke="#48712a" stroke-width="0.25" />
<line x1="126.4" y1="486.24" x2="126.4" y2="519.5" stroke="#48712a" stroke-width="0.25" />
<circle cx="124.55" cy="485.54" r="0.6" fill="#222"/>
<circle cx="126.25" cy="485.04" r="0.6" fill="#222"/>
<rect x="123.05" y="518.13" width="4.6" height="1.37" fill="#000" />
<circle cx="125.35" cy="516.93" r="0.55" fill="#1a1a1a"/>
<text transform="translate(126.95 523.9) rotate(-55) scale(0.95 1)" font-size="5" text-anchor="end" fill="#000" >0.5:1</text>
<line x1="129.3" y1="519.1" x2="133.9" y2="519.1" stroke="#333" stroke-width="0.9" />
<rect x="129.3" y="514.92" width="4.6" height="4.58" fill="#000" />
<circle cx="131.6" cy="513.72" r="0.55" fill="#1a1a1a"/>
<text transform="translate(133.2 523.9) rotate(-55) scale(0.95 1)" font-size="5" text-anchor="end" fill="#000" >0.125:1</text>
<line x1="146.7" y1="474.5" x2="146.7" y2="520.3" stroke="#000" stroke-width="0.55" />
<line x1="145.1" y1="520.3" x2="146.7" y2="520.3" stroke="#000" stroke-width="0.45" />
<text transform="translate(144.3 522) scale(0.95 1)" font-size="4.8" text-anchor="end" fill="#000" >0</text>
<line x1="145.1" y1="511.14" x2="146.7" y2="511.14" stroke="#000" stroke-width="0.45" />
<text transform="translate(144.3 512.84) scale(0.95 1)" font-size="4.8" text-anchor="end" fill="#000" >20</text>
<line x1="145.1" y1="501.98" x2="146.7" y2="501.98" stroke="#000" stroke-width="0.45" />
<text transform="translate(144.3 503.68) scale(0.95 1)" font-size="4.8" text-anchor="end" fill="#000" >40</text>
<line x1="145.1" y1="492.82" x2="146.7" y2="492.82" stroke="#000" stroke-width="0.45" />
<text transform="translate(144.3 494.52) scale(0.95 1)" font-size="4.8" text-anchor="end" fill="#000" >60</text>
<line x1="145.1" y1="483.66" x2="146.7" y2="483.66" stroke="#000" stroke-width="0.45" />
<text transform="translate(144.3 485.36) scale(0.95 1)" font-size="4.8" text-anchor="end" fill="#000" >80</text>
<line x1="145.1" y1="474.5" x2="146.7" y2="474.5" stroke="#000" stroke-width="0.45" />
<text transform="translate(144.3 476.2) scale(0.95 1)" font-size="4.8" text-anchor="end" fill="#000" >100</text>
<text transform="translate(197.4 467.9) scale(0.95 1)" font-size="5.3" text-anchor="middle" fill="#000" >NCI-H929</text>
<text transform="translate(207.6 542) scale(0.92 1)" font-size="4.6" text-anchor="middle" fill="#000" >E:T ratio</text>
<line x1="150.5" y1="545.6" x2="166.1" y2="545.6" stroke="#222" stroke-width="0.5" />
<text transform="translate(158.05 551.7) scale(0.92 1)" font-size="4.6" text-anchor="middle" fill="#000" >R1</text>
<rect x="150.2" y="481.83" width="4.2" height="38.47" fill="#5d8d39" stroke="#36591f" stroke-width="0.6" />
<line x1="151.25" y1="482.23" x2="151.25" y2="520.3" stroke="#48712a" stroke-width="0.25" />
<line x1="152.3" y1="482.23" x2="152.3" y2="520.3" stroke="#48712a" stroke-width="0.25" />
<line x1="153.35" y1="482.23" x2="153.35" y2="520.3" stroke="#48712a" stroke-width="0.25" />
<circle cx="151.5" cy="481.53" r="0.6" fill="#222"/>
<circle cx="153.2" cy="481.03" r="0.6" fill="#222"/>
<rect x="150" y="516.18" width="4.6" height="4.12" fill="#000" />
<circle cx="152.3" cy="514.98" r="0.55" fill="#1a1a1a"/>
<text transform="translate(153.9 524.7) rotate(-55) scale(0.95 1)" font-size="5" text-anchor="end" fill="#000" >2:1</text>
<rect x="156.45" y="479.54" width="4.2" height="40.76" fill="#5d8d39" stroke="#36591f" stroke-width="0.6" />
<line x1="157.5" y1="479.94" x2="157.5" y2="520.3" stroke="#48712a" stroke-width="0.25" />
<line x1="158.55" y1="479.94" x2="158.55" y2="520.3" stroke="#48712a" stroke-width="0.25" />
<line x1="159.6" y1="479.94" x2="159.6" y2="520.3" stroke="#48712a" stroke-width="0.25" />
<circle cx="157.75" cy="479.24" r="0.6" fill="#222"/>
<circle cx="159.45" cy="478.74" r="0.6" fill="#222"/>
<rect x="156.25" y="515.49" width="4.6" height="4.81" fill="#000" />
<circle cx="158.55" cy="514.29" r="0.55" fill="#1a1a1a"/>
<text transform="translate(160.15 524.7) rotate(-55) scale(0.95 1)" font-size="5" text-anchor="end" fill="#000" >0.5:1</text>
<line x1="164.8" y1="477.71" x2="164.8" y2="478.62" stroke="#111" stroke-width="0.55" />
<line x1="163.6" y1="477.71" x2="166" y2="477.71" stroke="#111" stroke-width="0.55" />
<line x1="163.6" y1="478.62" x2="166" y2="478.62" stroke="#111" stroke-width="0.55" />
<rect x="162.7" y="478.62" width="4.2" height="41.68" fill="#5d8d39" stroke="#36591f" stroke-width="0.6" />
<line x1="163.75" y1="479.02" x2="163.75" y2="520.3" stroke="#48712a" stroke-width="0.25" />
<line x1="164.8" y1="479.02" x2="164.8" y2="520.3" stroke="#48712a" stroke-width="0.25" />
<line x1="165.85" y1="479.02" x2="165.85" y2="520.3" stroke="#48712a" stroke-width="0.25" />
<circle cx="164" cy="478.32" r="0.6" fill="#222"/>
<circle cx="165.7" cy="477.82" r="0.6" fill="#222"/>
<rect x="162.5" y="516.82" width="4.6" height="3.48" fill="#000" />
<circle cx="164.8" cy="515.62" r="0.55" fill="#1a1a1a"/>
<text transform="translate(166.4 524.7) rotate(-55) scale(0.95 1)" font-size="5" text-anchor="end" fill="#000" >0.125:1</text>
<line x1="173.55" y1="545.6" x2="189.15" y2="545.6" stroke="#222" stroke-width="0.5" />
<text transform="translate(181.1 551.7) scale(0.92 1)" font-size="4.6" text-anchor="middle" fill="#000" >R2</text>
<line x1="175.35" y1="484.12" x2="175.35" y2="485.95" stroke="#111" stroke-width="0.55" />
<line x1="174.15" y1="484.12" x2="176.55" y2="484.12" stroke="#111" stroke-width="0.55" />
<line x1="174.15" y1="485.95" x2="176.55" y2="485.95" stroke="#111" stroke-width="0.55" />
<rect x="173.25" y="485.95" width="4.2" height="34.35" fill="#5d8d39" stroke="#36591f" stroke-width="0.6" />
<line x1="174.3" y1="486.35" x2="174.3" y2="520.3" stroke="#48712a" stroke-width="0.25" />
<line x1="175.35" y1="486.35" x2="175.35" y2="520.3" stroke="#48712a" stroke-width="0.25" />
<line x1="176.4" y1="486.35" x2="176.4" y2="520.3" stroke="#48712a" stroke-width="0.25" />
<circle cx="174.55" cy="485.65" r="0.6" fill="#222"/>
<circle cx="176.25" cy="485.15" r="0.6" fill="#222"/>
<text transform="translate(176.95 524.7) rotate(-55) scale(0.95 1)" font-size="5" text-anchor="end" fill="#000" >2:1</text>
<line x1="181.6" y1="484.8" x2="181.6" y2="486.64" stroke="#111" stroke-width="0.55" />
<line x1="180.4" y1="484.8" x2="182.8" y2="484.8" stroke="#111" stroke-width="0.55" />
<line x1="180.4" y1="486.64" x2="182.8" y2="486.64" stroke="#111" stroke-width="0.55" />
<rect x="179.5" y="486.64" width="4.2" height="33.66" fill="#5d8d39" stroke="#36591f" stroke-width="0.6" />
<line x1="180.55" y1="487.04" x2="180.55" y2="520.3" stroke="#48712a" stroke-width="0.25" />
<line x1="181.6" y1="487.04" x2="181.6" y2="520.3" stroke="#48712a" stroke-width="0.25" />
<line x1="182.65" y1="487.04" x2="182.65" y2="520.3" stroke="#48712a" stroke-width="0.25" />
<circle cx="180.8" cy="486.34" r="0.6" fill="#222"/>
<circle cx="182.5" cy="485.84" r="0.6" fill="#222"/>
<text transform="translate(183.2 524.7) rotate(-55) scale(0.95 1)" font-size="5" text-anchor="end" fill="#000" >0.5:1</text>
<line x1="187.85" y1="489.16" x2="187.85" y2="493.28" stroke="#111" stroke-width="0.55" />
<line x1="186.65" y1="489.16" x2="189.05" y2="489.16" stroke="#111" stroke-width="0.55" />
<line x1="186.65" y1="493.28" x2="189.05" y2="493.28" stroke="#111" stroke-width="0.55" />
<rect x="185.75" y="493.28" width="4.2" height="27.02" fill="#5d8d39" stroke="#36591f" stroke-width="0.6" />
<line x1="186.8" y1="493.68" x2="186.8" y2="520.3" stroke="#48712a" stroke-width="0.25" />
<line x1="187.85" y1="493.68" x2="187.85" y2="520.3" stroke="#48712a" stroke-width="0.25" />
<line x1="188.9" y1="493.68" x2="188.9" y2="520.3" stroke="#48712a" stroke-width="0.25" />
<circle cx="187.05" cy="492.98" r="0.6" fill="#222"/>
<circle cx="188.75" cy="492.48" r="0.6" fill="#222"/>
<rect x="185.55" y="518.47" width="4.6" height="1.83" fill="#000" />
<circle cx="187.85" cy="517.27" r="0.55" fill="#1a1a1a"/>
<text transform="translate(187.85 484.23)" font-size="5.8" text-anchor="middle" fill="#000" >*</text>
<text transform="translate(189.45 524.7) rotate(-55) scale(0.95 1)" font-size="5" text-anchor="end" fill="#000" >0.125:1</text>
<line x1="196.6" y1="545.6" x2="212.2" y2="545.6" stroke="#222" stroke-width="0.5" />
<text transform="translate(204.15 551.7) scale(0.92 1)" font-size="4.6" text-anchor="middle" fill="#000" >R3</text>
<line x1="198.4" y1="489.84" x2="198.4" y2="491.22" stroke="#111" stroke-width="0.55" />
<line x1="197.2" y1="489.84" x2="199.6" y2="489.84" stroke="#111" stroke-width="0.55" />
<line x1="197.2" y1="491.22" x2="199.6" y2="491.22" stroke="#111" stroke-width="0.55" />
<rect x="196.3" y="491.22" width="4.2" height="29.08" fill="#5d8d39" stroke="#36591f" stroke-width="0.6" />
<line x1="197.35" y1="491.62" x2="197.35" y2="520.3" stroke="#48712a" stroke-width="0.25" />
<line x1="198.4" y1="491.62" x2="198.4" y2="520.3" stroke="#48712a" stroke-width="0.25" />
<line x1="199.45" y1="491.62" x2="199.45" y2="520.3" stroke="#48712a" stroke-width="0.25" />
<circle cx="197.6" cy="490.92" r="0.6" fill="#222"/>
<circle cx="199.3" cy="490.42" r="0.6" fill="#222"/>
<text transform="translate(200 524.7) rotate(-55) scale(0.95 1)" font-size="5" text-anchor="end" fill="#000" >2:1</text>
<line x1="204.65" y1="490.76" x2="204.65" y2="491.22" stroke="#111" stroke-width="0.55" />
<line x1="203.45" y1="490.76" x2="205.85" y2="490.76" stroke="#111" stroke-width="0.55" />
<line x1="203.45" y1="491.22" x2="205.85" y2="491.22" stroke="#111" stroke-width="0.55" />
<rect x="202.55" y="491.22" width="4.2" height="29.08" fill="#5d8d39" stroke="#36591f" stroke-width="0.6" />
<line x1="203.6" y1="491.62" x2="203.6" y2="520.3" stroke="#48712a" stroke-width="0.25" />
<line x1="204.65" y1="491.62" x2="204.65" y2="520.3" stroke="#48712a" stroke-width="0.25" />
<line x1="205.7" y1="491.62" x2="205.7" y2="520.3" stroke="#48712a" stroke-width="0.25" />
<circle cx="203.85" cy="490.92" r="0.6" fill="#222"/>
<circle cx="205.55" cy="490.42" r="0.6" fill="#222"/>
<text transform="translate(206.25 524.7) rotate(-55) scale(0.95 1)" font-size="5" text-anchor="end" fill="#000" >0.5:1</text>
<line x1="210.9" y1="474.96" x2="210.9" y2="490.53" stroke="#111" stroke-width="0.55" />
<line x1="209.7" y1="474.96" x2="212.1" y2="474.96" stroke="#111" stroke-width="0.55" />
<line x1="209.7" y1="490.53" x2="212.1" y2="490.53" stroke="#111" stroke-width="0.55" />
<rect x="208.8" y="490.53" width="4.2" height="29.77" fill="#5d8d39" stroke="#36591f" stroke-width="0.6" />
<line x1="209.85" y1="490.93" x2="209.85" y2="520.3" stroke="#48712a" stroke-width="0.25" />
<line x1="210.9" y1="490.93" x2="210.9" y2="520.3" stroke="#48712a" stroke-width="0.25" />
<line x1="211.95" y1="490.93" x2="211.95" y2="520.3" stroke="#48712a" stroke-width="0.25" />
<circle cx="210.1" cy="490.23" r="0.6" fill="#222"/>
<circle cx="211.8" cy="489.73" r="0.6" fill="#222"/>
<text transform="translate(212.5 524.7) rotate(-55) scale(0.95 1)" font-size="5" text-anchor="end" fill="#000" >0.125:1</text>
<line x1="219.65" y1="545.6" x2="235.25" y2="545.6" stroke="#222" stroke-width="0.5" />
<text transform="translate(227.2 551.7) scale(0.92 1)" font-size="4.6" text-anchor="middle" fill="#000" >R4</text>
<line x1="221.45" y1="494.65" x2="221.45" y2="501.52" stroke="#111" stroke-width="0.55" />
<line x1="220.25" y1="494.65" x2="222.65" y2="494.65" stroke="#111" stroke-width="0.55" />
<line x1="220.25" y1="501.52" x2="222.65" y2="501.52" stroke="#111" stroke-width="0.55" />
<rect x="219.35" y="501.52" width="4.2" height="18.78" fill="#5d8d39" stroke="#36591f" stroke-width="0.6" />
<line x1="220.4" y1="501.92" x2="220.4" y2="520.3" stroke="#48712a" stroke-width="0.25" />
<line x1="221.45" y1="501.92" x2="221.45" y2="520.3" stroke="#48712a" stroke-width="0.25" />
<line x1="222.5" y1="501.92" x2="222.5" y2="520.3" stroke="#48712a" stroke-width="0.25" />
<circle cx="220.65" cy="501.22" r="0.6" fill="#222"/>
<circle cx="222.35" cy="500.72" r="0.6" fill="#222"/>
<rect x="219.15" y="518.01" width="4.6" height="2.29" fill="#000" />
<circle cx="221.45" cy="516.81" r="0.55" fill="#1a1a1a"/>
<text transform="translate(223.05 524.7) rotate(-55) scale(0.95 1)" font-size="5" text-anchor="end" fill="#000" >2:1</text>
<line x1="227.7" y1="490.07" x2="227.7" y2="505.19" stroke="#111" stroke-width="0.55" />
<line x1="226.5" y1="490.07" x2="228.9" y2="490.07" stroke="#111" stroke-width="0.55" />
<line x1="226.5" y1="505.19" x2="228.9" y2="505.19" stroke="#111" stroke-width="0.55" />
<rect x="225.6" y="505.19" width="4.2" height="15.11" fill="#5d8d39" stroke="#36591f" stroke-width="0.6" />
<line x1="226.65" y1="505.59" x2="226.65" y2="520.3" stroke="#48712a" stroke-width="0.25" />
<line x1="227.7" y1="505.59" x2="227.7" y2="520.3" stroke="#48712a" stroke-width="0.25" />
<line x1="228.75" y1="505.59" x2="228.75" y2="520.3" stroke="#48712a" stroke-width="0.25" />
<circle cx="226.9" cy="504.89" r="0.6" fill="#222"/>
<circle cx="228.6" cy="504.39" r="0.6" fill="#222"/>
<rect x="225.4" y="511.6" width="4.6" height="8.7" fill="#000" />
<circle cx="227.7" cy="510.4" r="0.55" fill="#1a1a1a"/>
<text transform="translate(227.7 476.9)" font-size="5.8" text-anchor="middle" fill="#000" >*</text>
<text transform="translate(229.3 524.7) rotate(-55) scale(0.95 1)" font-size="5" text-anchor="end" fill="#000" >0.5:1</text>
<line x1="233.95" y1="504.73" x2="233.95" y2="512.97" stroke="#111" stroke-width="0.55" />
<line x1="232.75" y1="504.73" x2="235.15" y2="504.73" stroke="#111" stroke-width="0.55" />
<line x1="232.75" y1="512.97" x2="235.15" y2="512.97" stroke="#111" stroke-width="0.55" />
<rect x="231.85" y="512.97" width="4.2" height="7.33" fill="#5d8d39" stroke="#36591f" stroke-width="0.6" />
<line x1="232.9" y1="513.37" x2="232.9" y2="520.3" stroke="#48712a" stroke-width="0.25" />
<line x1="233.95" y1="513.37" x2="233.95" y2="520.3" stroke="#48712a" stroke-width="0.25" />
<line x1="235" y1="513.37" x2="235" y2="520.3" stroke="#48712a" stroke-width="0.25" />
<circle cx="233.15" cy="512.67" r="0.6" fill="#222"/>
<circle cx="234.85" cy="512.17" r="0.6" fill="#222"/>
<rect x="231.65" y="512.97" width="4.6" height="7.33" fill="#000" />
<circle cx="233.95" cy="511.77" r="0.55" fill="#1a1a1a"/>
<text transform="translate(233.95 499.8)" font-size="5.8" text-anchor="middle" fill="#000" >*</text>
<text transform="translate(235.55 524.7) rotate(-55) scale(0.95 1)" font-size="5" text-anchor="end" fill="#000" >0.125:1</text>
<line x1="242.7" y1="545.6" x2="258.3" y2="545.6" stroke="#222" stroke-width="0.5" />
<text transform="translate(250.25 551.7) scale(0.92 1)" font-size="4.6" text-anchor="middle" fill="#000" >R5</text>
<line x1="244.5" y1="510.45" x2="244.5" y2="515.49" stroke="#111" stroke-width="0.55" />
<line x1="243.3" y1="510.45" x2="245.7" y2="510.45" stroke="#111" stroke-width="0.55" />
<line x1="243.3" y1="515.49" x2="245.7" y2="515.49" stroke="#111" stroke-width="0.55" />
<rect x="242.4" y="515.49" width="4.2" height="4.81" fill="#5d8d39" stroke="#36591f" stroke-width="0.6" />
<line x1="243.45" y1="515.89" x2="243.45" y2="520.3" stroke="#48712a" stroke-width="0.25" />
<line x1="244.5" y1="515.89" x2="244.5" y2="520.3" stroke="#48712a" stroke-width="0.25" />
<line x1="245.55" y1="515.89" x2="245.55" y2="520.3" stroke="#48712a" stroke-width="0.25" />
<circle cx="243.7" cy="515.19" r="0.6" fill="#222"/>
<circle cx="245.4" cy="514.69" r="0.6" fill="#222"/>
<text transform="translate(244.5 507.59)" font-size="5.8" text-anchor="middle" fill="#000" >*</text>
<text transform="translate(246.1 524.7) rotate(-55) scale(0.95 1)" font-size="5" text-anchor="end" fill="#000" >2:1</text>
<line x1="248.45" y1="519.9" x2="253.05" y2="519.9" stroke="#333" stroke-width="0.9" />
<text transform="translate(252.35 524.7) rotate(-55) scale(0.95 1)" font-size="5" text-anchor="end" fill="#000" >0.5:1</text>
<line x1="257" y1="490.07" x2="257" y2="505.19" stroke="#111" stroke-width="0.55" />
<line x1="255.8" y1="490.07" x2="258.2" y2="490.07" stroke="#111" stroke-width="0.55" />
<line x1="255.8" y1="505.19" x2="258.2" y2="505.19" stroke="#111" stroke-width="0.55" />
<rect x="254.9" y="505.19" width="4.2" height="15.11" fill="#5d8d39" stroke="#36591f" stroke-width="0.6" />
<line x1="255.95" y1="505.59" x2="255.95" y2="520.3" stroke="#48712a" stroke-width="0.25" />
<line x1="257" y1="505.59" x2="257" y2="520.3" stroke="#48712a" stroke-width="0.25" />
<line x1="258.05" y1="505.59" x2="258.05" y2="520.3" stroke="#48712a" stroke-width="0.25" />
<circle cx="256.2" cy="504.89" r="0.6" fill="#222"/>
<circle cx="257.9" cy="504.39" r="0.6" fill="#222"/>
<text transform="translate(257 476.9)" font-size="5.8" text-anchor="middle" fill="#000" >*</text>
<text transform="translate(258.6 524.7) rotate(-55) scale(0.95 1)" font-size="5" text-anchor="end" fill="#000" >0.125:1</text>
<line x1="277.5" y1="474.5" x2="277.5" y2="520.3" stroke="#000" stroke-width="0.55" />
<line x1="275.9" y1="520.3" x2="277.5" y2="520.3" stroke="#000" stroke-width="0.45" />
<text transform="translate(275.1 522) scale(0.95 1)" font-size="4.8" text-anchor="end" fill="#000" >0</text>
<line x1="275.9" y1="511.14" x2="277.5" y2="511.14" stroke="#000" stroke-width="0.45" />
<text transform="translate(275.1 512.84) scale(0.95 1)" font-size="4.8" text-anchor="end" fill="#000" >20</text>
<line x1="275.9" y1="501.98" x2="277.5" y2="501.98" stroke="#000" stroke-width="0.45" />
<text transform="translate(275.1 503.68) scale(0.95 1)" font-size="4.8" text-anchor="end" fill="#000" >40</text>
<line x1="275.9" y1="492.82" x2="277.5" y2="492.82" stroke="#000" stroke-width="0.45" />
<text transform="translate(275.1 494.52) scale(0.95 1)" font-size="4.8" text-anchor="end" fill="#000" >60</text>
<line x1="275.9" y1="483.66" x2="277.5" y2="483.66" stroke="#000" stroke-width="0.45" />
<text transform="translate(275.1 485.36) scale(0.95 1)" font-size="4.8" text-anchor="end" fill="#000" >80</text>
<line x1="275.9" y1="474.5" x2="277.5" y2="474.5" stroke="#000" stroke-width="0.45" />
<text transform="translate(275.1 476.2) scale(0.95 1)" font-size="4.8" text-anchor="end" fill="#000" >100</text>
<text transform="translate(326 467.9) scale(0.95 1)" font-size="5.3" text-anchor="middle" fill="#000" >Daudi</text>
<text transform="translate(334 542) scale(0.92 1)" font-size="4.6" text-anchor="middle" fill="#000" >E:T ratio</text>
<line x1="279.4" y1="545.6" x2="295" y2="545.6" stroke="#222" stroke-width="0.5" />
<text transform="translate(286.95 551.7) scale(0.92 1)" font-size="4.6" text-anchor="middle" fill="#000" >R1</text>
<rect x="279.1" y="480" width="4.2" height="40.3" fill="#5d8d39" stroke="#36591f" stroke-width="0.6" />
<line x1="280.15" y1="480.4" x2="280.15" y2="520.3" stroke="#48712a" stroke-width="0.25" />
<line x1="281.2" y1="480.4" x2="281.2" y2="520.3" stroke="#48712a" stroke-width="0.25" />
<line x1="282.25" y1="480.4" x2="282.25" y2="520.3" stroke="#48712a" stroke-width="0.25" />
<circle cx="280.4" cy="479.7" r="0.6" fill="#222"/>
<circle cx="282.1" cy="479.2" r="0.6" fill="#222"/>
<rect x="278.9" y="513.57" width="4.6" height="6.73" fill="#000" />
<circle cx="281.2" cy="512.37" r="0.55" fill="#1a1a1a"/>
<text transform="translate(282.8 524.7) rotate(-55) scale(0.95 1)" font-size="5" text-anchor="end" fill="#000" >2:1</text>
<line x1="287.45" y1="476.79" x2="287.45" y2="477.71" stroke="#111" stroke-width="0.55" />
<line x1="286.25" y1="476.79" x2="288.65" y2="476.79" stroke="#111" stroke-width="0.55" />
<line x1="286.25" y1="477.71" x2="288.65" y2="477.71" stroke="#111" stroke-width="0.55" />
<rect x="285.35" y="477.71" width="4.2" height="42.59" fill="#5d8d39" stroke="#36591f" stroke-width="0.6" />
<line x1="286.4" y1="478.11" x2="286.4" y2="520.3" stroke="#48712a" stroke-width="0.25" />
<line x1="287.45" y1="478.11" x2="287.45" y2="520.3" stroke="#48712a" stroke-width="0.25" />
<line x1="288.5" y1="478.11" x2="288.5" y2="520.3" stroke="#48712a" stroke-width="0.25" />
<circle cx="286.65" cy="477.41" r="0.6" fill="#222"/>
<circle cx="288.35" cy="476.91" r="0.6" fill="#222"/>
<rect x="285.15" y="513.57" width="4.6" height="6.73" fill="#000" />
<circle cx="287.45" cy="512.37" r="0.55" fill="#1a1a1a"/>
<text transform="translate(289.05 524.7) rotate(-55) scale(0.95 1)" font-size="5" text-anchor="end" fill="#000" >0.5:1</text>
<line x1="293.7" y1="476.15" x2="293.7" y2="476.61" stroke="#111" stroke-width="0.55" />
<line x1="292.5" y1="476.15" x2="294.9" y2="476.15" stroke="#111" stroke-width="0.55" />
<line x1="292.5" y1="476.61" x2="294.9" y2="476.61" stroke="#111" stroke-width="0.55" />
<rect x="291.6" y="476.61" width="4.2" height="43.69" fill="#5d8d39" stroke="#36591f" stroke-width="0.6" />
<line x1="292.65" y1="477.01" x2="292.65" y2="520.3" stroke="#48712a" stroke-width="0.25" />
<line x1="293.7" y1="477.01" x2="293.7" y2="520.3" stroke="#48712a" stroke-width="0.25" />
<line x1="294.75" y1="477.01" x2="294.75" y2="520.3" stroke="#48712a" stroke-width="0.25" />
<circle cx="292.9" cy="476.31" r="0.6" fill="#222"/>
<circle cx="294.6" cy="475.81" r="0.6" fill="#222"/>
<rect x="291.4" y="515.72" width="4.6" height="4.58" fill="#000" />
<circle cx="293.7" cy="514.52" r="0.55" fill="#1a1a1a"/>
<text transform="translate(295.3 524.7) rotate(-55) scale(0.95 1)" font-size="5" text-anchor="end" fill="#000" >0.125:1</text>
<line x1="302.45" y1="545.6" x2="318.05" y2="545.6" stroke="#222" stroke-width="0.5" />
<text transform="translate(310 551.7) scale(0.92 1)" font-size="4.6" text-anchor="middle" fill="#000" >R2</text>
<line x1="304.25" y1="487.32" x2="304.25" y2="490.07" stroke="#111" stroke-width="0.55" />
<line x1="303.05" y1="487.32" x2="305.45" y2="487.32" stroke="#111" stroke-width="0.55" />
<line x1="303.05" y1="490.07" x2="305.45" y2="490.07" stroke="#111" stroke-width="0.55" />
<rect x="302.15" y="490.07" width="4.2" height="30.23" fill="#5d8d39" stroke="#36591f" stroke-width="0.6" />
<line x1="303.2" y1="490.47" x2="303.2" y2="520.3" stroke="#48712a" stroke-width="0.25" />
<line x1="304.25" y1="490.47" x2="304.25" y2="520.3" stroke="#48712a" stroke-width="0.25" />
<line x1="305.3" y1="490.47" x2="305.3" y2="520.3" stroke="#48712a" stroke-width="0.25" />
<circle cx="303.45" cy="489.77" r="0.6" fill="#222"/>
<circle cx="305.15" cy="489.27" r="0.6" fill="#222"/>
<rect x="301.95" y="519.38" width="4.6" height="0.92" fill="#000" />
<circle cx="304.25" cy="518.18" r="0.55" fill="#1a1a1a"/>
<text transform="translate(305.85 524.7) rotate(-55) scale(0.95 1)" font-size="5" text-anchor="end" fill="#000" >2:1</text>
<line x1="310.5" y1="485.95" x2="310.5" y2="486.87" stroke="#111" stroke-width="0.55" />
<line x1="309.3" y1="485.95" x2="311.7" y2="485.95" stroke="#111" stroke-width="0.55" />
<line x1="309.3" y1="486.87" x2="311.7" y2="486.87" stroke="#111" stroke-width="0.55" />
<rect x="308.4" y="486.87" width="4.2" height="33.43" fill="#5d8d39" stroke="#36591f" stroke-width="0.6" />
<line x1="309.45" y1="487.27" x2="309.45" y2="520.3" stroke="#48712a" stroke-width="0.25" />
<line x1="310.5" y1="487.27" x2="310.5" y2="520.3" stroke="#48712a" stroke-width="0.25" />
<line x1="311.55" y1="487.27" x2="311.55" y2="520.3" stroke="#48712a" stroke-width="0.25" />
<circle cx="309.7" cy="486.57" r="0.6" fill="#222"/>
<circle cx="311.4" cy="486.07" r="0.6" fill="#222"/>
<rect x="308.2" y="519.38" width="4.6" height="0.92" fill="#000" />
<circle cx="310.5" cy="518.18" r="0.55" fill="#1a1a1a"/>
<text transform="translate(312.1 524.7) rotate(-55) scale(0.95 1)" font-size="5" text-anchor="end" fill="#000" >0.5:1</text>
<line x1="316.75" y1="484.12" x2="316.75" y2="484.58" stroke="#111" stroke-width="0.55" />
<line x1="315.55" y1="484.12" x2="317.95" y2="484.12" stroke="#111" stroke-width="0.55" />
<line x1="315.55" y1="484.58" x2="317.95" y2="484.58" stroke="#111" stroke-width="0.55" />
<rect x="314.65" y="484.58" width="4.2" height="35.72" fill="#5d8d39" stroke="#36591f" stroke-width="0.6" />
<line x1="315.7" y1="484.98" x2="315.7" y2="520.3" stroke="#48712a" stroke-width="0.25" />
<line x1="316.75" y1="484.98" x2="316.75" y2="520.3" stroke="#48712a" stroke-width="0.25" />
<line x1="317.8" y1="484.98" x2="317.8" y2="520.3" stroke="#48712a" stroke-width="0.25" />
<circle cx="315.95" cy="484.28" r="0.6" fill="#222"/>
<circle cx="317.65" cy="483.78" r="0.6" fill="#222"/>
<text transform="translate(318.35 524.7) rotate(-55) scale(0.95 1)" font-size="5" text-anchor="end" fill="#000" >0.125:1</text>
<line x1="325.5" y1="545.6" x2="341.1" y2="545.6" stroke="#222" stroke-width="0.5" />
<text transform="translate(333.05 551.7) scale(0.92 1)" font-size="4.6" text-anchor="middle" fill="#000" >R3</text>
<line x1="327.3" y1="493.87" x2="327.3" y2="496.16" stroke="#111" stroke-width="0.55" />
<line x1="326.1" y1="493.87" x2="328.5" y2="493.87" stroke="#111" stroke-width="0.55" />
<line x1="326.1" y1="496.16" x2="328.5" y2="496.16" stroke="#111" stroke-width="0.55" />
<rect x="325.2" y="496.16" width="4.2" height="24.14" fill="#5d8d39" stroke="#36591f" stroke-width="0.6" />
<line x1="326.25" y1="496.56" x2="326.25" y2="520.3" stroke="#48712a" stroke-width="0.25" />
<line x1="327.3" y1="496.56" x2="327.3" y2="520.3" stroke="#48712a" stroke-width="0.25" />
<line x1="328.35" y1="496.56" x2="328.35" y2="520.3" stroke="#48712a" stroke-width="0.25" />
<circle cx="326.5" cy="495.86" r="0.6" fill="#222"/>
<circle cx="328.2" cy="495.36" r="0.6" fill="#222"/>
<text transform="translate(328.9 524.7) rotate(-55) scale(0.95 1)" font-size="5" text-anchor="end" fill="#000" >2:1</text>
<line x1="333.55" y1="486.96" x2="333.55" y2="491.54" stroke="#111" stroke-width="0.55" />
<line x1="332.35" y1="486.96" x2="334.75" y2="486.96" stroke="#111" stroke-width="0.55" />
<line x1="332.35" y1="491.54" x2="334.75" y2="491.54" stroke="#111" stroke-width="0.55" />
<rect x="331.45" y="491.54" width="4.2" height="28.76" fill="#5d8d39" stroke="#36591f" stroke-width="0.6" />
<line x1="332.5" y1="491.94" x2="332.5" y2="520.3" stroke="#48712a" stroke-width="0.25" />
<line x1="333.55" y1="491.94" x2="333.55" y2="520.3" stroke="#48712a" stroke-width="0.25" />
<line x1="334.6" y1="491.94" x2="334.6" y2="520.3" stroke="#48712a" stroke-width="0.25" />
<circle cx="332.75" cy="491.24" r="0.6" fill="#222"/>
<circle cx="334.45" cy="490.74" r="0.6" fill="#222"/>
<text transform="translate(333.55 486.98)" font-size="5.8" text-anchor="middle" fill="#000" >*</text>
<text transform="translate(335.15 524.7) rotate(-55) scale(0.95 1)" font-size="5" text-anchor="end" fill="#000" >0.5:1</text>
<line x1="339.8" y1="486.18" x2="339.8" y2="490.76" stroke="#111" stroke-width="0.55" />
<line x1="338.6" y1="486.18" x2="341" y2="486.18" stroke="#111" stroke-width="0.55" />
<line x1="338.6" y1="490.76" x2="341" y2="490.76" stroke="#111" stroke-width="0.55" />
<rect x="337.7" y="490.76" width="4.2" height="29.54" fill="#5d8d39" stroke="#36591f" stroke-width="0.6" />
<line x1="338.75" y1="491.16" x2="338.75" y2="520.3" stroke="#48712a" stroke-width="0.25" />
<line x1="339.8" y1="491.16" x2="339.8" y2="520.3" stroke="#48712a" stroke-width="0.25" />
<line x1="340.85" y1="491.16" x2="340.85" y2="520.3" stroke="#48712a" stroke-width="0.25" />
<circle cx="339" cy="490.46" r="0.6" fill="#222"/>
<circle cx="340.7" cy="489.96" r="0.6" fill="#222"/>
<text transform="translate(341.4 524.7) rotate(-55) scale(0.95 1)" font-size="5" text-anchor="end" fill="#000" >0.125:1</text>
<line x1="348.55" y1="545.6" x2="364.15" y2="545.6" stroke="#222" stroke-width="0.5" />
<text transform="translate(356.1 551.7) scale(0.92 1)" font-size="4.6" text-anchor="middle" fill="#000" >R4</text>
<line x1="350.35" y1="486.18" x2="350.35" y2="488.93" stroke="#111" stroke-width="0.55" />
<line x1="349.15" y1="486.18" x2="351.55" y2="486.18" stroke="#111" stroke-width="0.55" />
<line x1="349.15" y1="488.93" x2="351.55" y2="488.93" stroke="#111" stroke-width="0.55" />
<rect x="348.25" y="488.93" width="4.2" height="31.37" fill="#5d8d39" stroke="#36591f" stroke-width="0.6" />
<line x1="349.3" y1="489.33" x2="349.3" y2="520.3" stroke="#48712a" stroke-width="0.25" />
<line x1="350.35" y1="489.33" x2="350.35" y2="520.3" stroke="#48712a" stroke-width="0.25" />
<line x1="351.4" y1="489.33" x2="351.4" y2="520.3" stroke="#48712a" stroke-width="0.25" />
<circle cx="349.55" cy="488.63" r="0.6" fill="#222"/>
<circle cx="351.25" cy="488.13" r="0.6" fill="#222"/>
<rect x="348.05" y="518.47" width="4.6" height="1.83" fill="#000" />
<circle cx="350.35" cy="517.27" r="0.55" fill="#1a1a1a"/>
<text transform="translate(351.95 524.7) rotate(-55) scale(0.95 1)" font-size="5" text-anchor="end" fill="#000" >2:1</text>
<line x1="356.6" y1="487.32" x2="356.6" y2="493.28" stroke="#111" stroke-width="0.55" />
<line x1="355.4" y1="487.32" x2="357.8" y2="487.32" stroke="#111" stroke-width="0.55" />
<line x1="355.4" y1="493.28" x2="357.8" y2="493.28" stroke="#111" stroke-width="0.55" />
<rect x="354.5" y="493.28" width="4.2" height="27.02" fill="#5d8d39" stroke="#36591f" stroke-width="0.6" />
<line x1="355.55" y1="493.68" x2="355.55" y2="520.3" stroke="#48712a" stroke-width="0.25" />
<line x1="356.6" y1="493.68" x2="356.6" y2="520.3" stroke="#48712a" stroke-width="0.25" />
<line x1="357.65" y1="493.68" x2="357.65" y2="520.3" stroke="#48712a" stroke-width="0.25" />
<circle cx="355.8" cy="492.98" r="0.6" fill="#222"/>
<circle cx="357.5" cy="492.48" r="0.6" fill="#222"/>
<rect x="354.3" y="513.57" width="4.6" height="6.73" fill="#000" />
<circle cx="356.6" cy="512.37" r="0.55" fill="#1a1a1a"/>
<text transform="translate(358.2 524.7) rotate(-55) scale(0.95 1)" font-size="5" text-anchor="end" fill="#000" >0.5:1</text>
<line x1="362.85" y1="498.09" x2="362.85" y2="509.54" stroke="#111" stroke-width="0.55" />
<line x1="361.65" y1="498.09" x2="364.05" y2="498.09" stroke="#111" stroke-width="0.55" />
<line x1="361.65" y1="509.54" x2="364.05" y2="509.54" stroke="#111" stroke-width="0.55" />
<line x1="360.55" y1="519.9" x2="365.15" y2="519.9" stroke="#333" stroke-width="0.9" />
<rect x="360.55" y="509.54" width="4.6" height="10.76" fill="#000" />
<circle cx="362.85" cy="508.34" r="0.55" fill="#1a1a1a"/>
<text transform="translate(362.85 487.89)" font-size="5.8" text-anchor="middle" fill="#000" >*</text>
<text transform="translate(364.45 524.7) rotate(-55) scale(0.95 1)" font-size="5" text-anchor="end" fill="#000" >0.125:1</text>
<line x1="371.6" y1="545.6" x2="387.2" y2="545.6" stroke="#222" stroke-width="0.5" />
<text transform="translate(379.15 551.7) scale(0.92 1)" font-size="4.6" text-anchor="middle" fill="#000" >R5</text>
<line x1="373.4" y1="492.82" x2="373.4" y2="497.86" stroke="#111" stroke-width="0.55" />
<line x1="372.2" y1="492.82" x2="374.6" y2="492.82" stroke="#111" stroke-width="0.55" />
<line x1="372.2" y1="497.86" x2="374.6" y2="497.86" stroke="#111" stroke-width="0.55" />
<rect x="371.3" y="497.86" width="4.2" height="22.44" fill="#5d8d39" stroke="#36591f" stroke-width="0.6" />
<line x1="372.35" y1="498.26" x2="372.35" y2="520.3" stroke="#48712a" stroke-width="0.25" />
<line x1="373.4" y1="498.26" x2="373.4" y2="520.3" stroke="#48712a" stroke-width="0.25" />
<line x1="374.45" y1="498.26" x2="374.45" y2="520.3" stroke="#48712a" stroke-width="0.25" />
<circle cx="372.6" cy="497.56" r="0.6" fill="#222"/>
<circle cx="374.3" cy="497.06" r="0.6" fill="#222"/>
<rect x="371.1" y="517.09" width="4.6" height="3.21" fill="#000" />
<circle cx="373.4" cy="515.89" r="0.55" fill="#1a1a1a"/>
<text transform="translate(375 524.7) rotate(-55) scale(0.95 1)" font-size="5" text-anchor="end" fill="#000" >2:1</text>
<line x1="379.65" y1="484.58" x2="379.65" y2="497.86" stroke="#111" stroke-width="0.55" />
<line x1="378.45" y1="484.58" x2="380.85" y2="484.58" stroke="#111" stroke-width="0.55" />
<line x1="378.45" y1="497.86" x2="380.85" y2="497.86" stroke="#111" stroke-width="0.55" />
<rect x="377.55" y="497.86" width="4.2" height="22.44" fill="#5d8d39" stroke="#36591f" stroke-width="0.6" />
<line x1="378.6" y1="498.26" x2="378.6" y2="520.3" stroke="#48712a" stroke-width="0.25" />
<line x1="379.65" y1="498.26" x2="379.65" y2="520.3" stroke="#48712a" stroke-width="0.25" />
<line x1="380.7" y1="498.26" x2="380.7" y2="520.3" stroke="#48712a" stroke-width="0.25" />
<circle cx="378.85" cy="497.56" r="0.6" fill="#222"/>
<circle cx="380.55" cy="497.06" r="0.6" fill="#222"/>
<text transform="translate(379.65 476.9)" font-size="5.8" text-anchor="middle" fill="#000" >*</text>
<text transform="translate(381.25 524.7) rotate(-55) scale(0.95 1)" font-size="5" text-anchor="end" fill="#000" >0.5:1</text>
<line x1="385.9" y1="488.93" x2="385.9" y2="499" stroke="#111" stroke-width="0.55" />
<line x1="384.7" y1="488.93" x2="387.1" y2="488.93" stroke="#111" stroke-width="0.55" />
<line x1="384.7" y1="499" x2="387.1" y2="499" stroke="#111" stroke-width="0.55" />
<rect x="383.8" y="499" width="4.2" height="21.3" fill="#5d8d39" stroke="#36591f" stroke-width="0.6" />
<line x1="384.85" y1="499.4" x2="384.85" y2="520.3" stroke="#48712a" stroke-width="0.25" />
<line x1="385.9" y1="499.4" x2="385.9" y2="520.3" stroke="#48712a" stroke-width="0.25" />
<line x1="386.95" y1="499.4" x2="386.95" y2="520.3" stroke="#48712a" stroke-width="0.25" />
<circle cx="385.1" cy="498.7" r="0.6" fill="#222"/>
<circle cx="386.8" cy="498.2" r="0.6" fill="#222"/>
<rect x="383.6" y="510.87" width="4.6" height="9.43" fill="#000" />
<circle cx="385.9" cy="509.67" r="0.55" fill="#1a1a1a"/>
<text transform="translate(387.5 524.7) rotate(-55) scale(0.95 1)" font-size="5" text-anchor="end" fill="#000" >0.125:1</text>
<line x1="405" y1="474.3" x2="405" y2="520.1" stroke="#000" stroke-width="0.55" />
<line x1="403.4" y1="520.1" x2="405" y2="520.1" stroke="#000" stroke-width="0.45" />
<text transform="translate(402.6 521.8) scale(0.95 1)" font-size="4.8" text-anchor="end" fill="#000" >0</text>
<line x1="403.4" y1="510.94" x2="405" y2="510.94" stroke="#000" stroke-width="0.45" />
<text transform="translate(402.6 512.64) scale(0.95 1)" font-size="4.8" text-anchor="end" fill="#000" >20</text>
<line x1="403.4" y1="501.78" x2="405" y2="501.78" stroke="#000" stroke-width="0.45" />
<text transform="translate(402.6 503.48) scale(0.95 1)" font-size="4.8" text-anchor="end" fill="#000" >40</text>
<line x1="403.4" y1="492.62" x2="405" y2="492.62" stroke="#000" stroke-width="0.45" />
<text transform="translate(402.6 494.32) scale(0.95 1)" font-size="4.8" text-anchor="end" fill="#000" >60</text>
<line x1="403.4" y1="483.46" x2="405" y2="483.46" stroke="#000" stroke-width="0.45" />
<text transform="translate(402.6 485.16) scale(0.95 1)" font-size="4.8" text-anchor="end" fill="#000" >80</text>
<line x1="403.4" y1="474.3" x2="405" y2="474.3" stroke="#000" stroke-width="0.45" />
<text transform="translate(402.6 476) scale(0.95 1)" font-size="4.8" text-anchor="end" fill="#000" >100</text>
<text transform="translate(459 467.9) scale(0.95 1)" font-size="5.3" text-anchor="middle" fill="#000" >T cells only</text>
<text transform="translate(462.2 542) scale(0.92 1)" font-size="4.6" text-anchor="middle" fill="#000" >E:T ratio</text>
<line x1="408.5" y1="545.6" x2="424.1" y2="545.6" stroke="#222" stroke-width="0.5" />
<text transform="translate(416.05 551.7) scale(0.92 1)" font-size="4.6" text-anchor="middle" fill="#000" >R1</text>
<rect x="408.2" y="484.83" width="4.2" height="35.27" fill="#5d8d39" stroke="#36591f" stroke-width="0.6" />
<line x1="409.25" y1="485.23" x2="409.25" y2="520.1" stroke="#48712a" stroke-width="0.25" />
<line x1="410.3" y1="485.23" x2="410.3" y2="520.1" stroke="#48712a" stroke-width="0.25" />
<line x1="411.35" y1="485.23" x2="411.35" y2="520.1" stroke="#48712a" stroke-width="0.25" />
<circle cx="409.5" cy="484.53" r="0.6" fill="#222"/>
<circle cx="411.2" cy="484.03" r="0.6" fill="#222"/>
<rect x="408" y="514.7" width="4.6" height="5.4" fill="#000" />
<circle cx="410.3" cy="513.5" r="0.55" fill="#1a1a1a"/>
<text transform="translate(411.9 524.5) rotate(-55) scale(0.95 1)" font-size="5" text-anchor="end" fill="#000" >2:1</text>
<line x1="416.55" y1="485.06" x2="416.55" y2="485.52" stroke="#111" stroke-width="0.55" />
<line x1="415.35" y1="485.06" x2="417.75" y2="485.06" stroke="#111" stroke-width="0.55" />
<line x1="415.35" y1="485.52" x2="417.75" y2="485.52" stroke="#111" stroke-width="0.55" />
<rect x="414.45" y="485.52" width="4.2" height="34.58" fill="#5d8d39" stroke="#36591f" stroke-width="0.6" />
<line x1="415.5" y1="485.92" x2="415.5" y2="520.1" stroke="#48712a" stroke-width="0.25" />
<line x1="416.55" y1="485.92" x2="416.55" y2="520.1" stroke="#48712a" stroke-width="0.25" />
<line x1="417.6" y1="485.92" x2="417.6" y2="520.1" stroke="#48712a" stroke-width="0.25" />
<circle cx="415.75" cy="485.22" r="0.6" fill="#222"/>
<circle cx="417.45" cy="484.72" r="0.6" fill="#222"/>
<rect x="414.25" y="515.2" width="4.6" height="4.9" fill="#000" />
<circle cx="416.55" cy="514" r="0.55" fill="#1a1a1a"/>
<text transform="translate(418.15 524.5) rotate(-55) scale(0.95 1)" font-size="5" text-anchor="end" fill="#000" >0.5:1</text>
<line x1="422.8" y1="487.12" x2="422.8" y2="488.5" stroke="#111" stroke-width="0.55" />
<line x1="421.6" y1="487.12" x2="424" y2="487.12" stroke="#111" stroke-width="0.55" />
<line x1="421.6" y1="488.5" x2="424" y2="488.5" stroke="#111" stroke-width="0.55" />
<rect x="420.7" y="488.5" width="4.2" height="31.6" fill="#5d8d39" stroke="#36591f" stroke-width="0.6" />
<line x1="421.75" y1="488.9" x2="421.75" y2="520.1" stroke="#48712a" stroke-width="0.25" />
<line x1="422.8" y1="488.9" x2="422.8" y2="520.1" stroke="#48712a" stroke-width="0.25" />
<line x1="423.85" y1="488.9" x2="423.85" y2="520.1" stroke="#48712a" stroke-width="0.25" />
<circle cx="422" cy="488.2" r="0.6" fill="#222"/>
<circle cx="423.7" cy="487.7" r="0.6" fill="#222"/>
<rect x="420.5" y="517.81" width="4.6" height="2.29" fill="#000" />
<circle cx="422.8" cy="516.61" r="0.55" fill="#1a1a1a"/>
<text transform="translate(424.4 524.5) rotate(-55) scale(0.95 1)" font-size="5" text-anchor="end" fill="#000" >0.125:1</text>
<line x1="431.9" y1="545.6" x2="447.5" y2="545.6" stroke="#222" stroke-width="0.5" />
<text transform="translate(439.45 551.7) scale(0.92 1)" font-size="4.6" text-anchor="middle" fill="#000" >R2</text>
<line x1="433.7" y1="517.35" x2="433.7" y2="518.27" stroke="#111" stroke-width="0.55" />
<line x1="432.5" y1="517.35" x2="434.9" y2="517.35" stroke="#111" stroke-width="0.55" />
<line x1="432.5" y1="518.27" x2="434.9" y2="518.27" stroke="#111" stroke-width="0.55" />
<line x1="431.4" y1="519.7" x2="436" y2="519.7" stroke="#333" stroke-width="0.9" />
<rect x="431.4" y="518.27" width="4.6" height="1.83" fill="#000" />
<circle cx="433.7" cy="517.07" r="0.55" fill="#1a1a1a"/>
<text transform="translate(435.3 524.5) rotate(-55) scale(0.95 1)" font-size="5" text-anchor="end" fill="#000" >2:1</text>
<line x1="439.95" y1="512.31" x2="439.95" y2="516.44" stroke="#111" stroke-width="0.55" />
<line x1="438.75" y1="512.31" x2="441.15" y2="512.31" stroke="#111" stroke-width="0.55" />
<line x1="438.75" y1="516.44" x2="441.15" y2="516.44" stroke="#111" stroke-width="0.55" />
<line x1="437.65" y1="519.7" x2="442.25" y2="519.7" stroke="#333" stroke-width="0.9" />
<rect x="437.65" y="516.44" width="4.6" height="3.66" fill="#000" />
<circle cx="439.95" cy="515.24" r="0.55" fill="#1a1a1a"/>
<text transform="translate(439.95 510.59)" font-size="5.8" text-anchor="middle" fill="#000" >*</text>
<text transform="translate(441.55 524.5) rotate(-55) scale(0.95 1)" font-size="5" text-anchor="end" fill="#000" >0.5:1</text>
<line x1="443.9" y1="519.7" x2="448.5" y2="519.7" stroke="#333" stroke-width="0.9" />
<text transform="translate(447.8 524.5) rotate(-55) scale(0.95 1)" font-size="5" text-anchor="end" fill="#000" >0.125:1</text>
<line x1="455.3" y1="545.6" x2="470.9" y2="545.6" stroke="#222" stroke-width="0.5" />
<text transform="translate(462.85 551.7) scale(0.92 1)" font-size="4.6" text-anchor="middle" fill="#000" >R3</text>
<line x1="457.1" y1="516.89" x2="457.1" y2="518.27" stroke="#111" stroke-width="0.55" />
<line x1="455.9" y1="516.89" x2="458.3" y2="516.89" stroke="#111" stroke-width="0.55" />
<line x1="455.9" y1="518.27" x2="458.3" y2="518.27" stroke="#111" stroke-width="0.55" />
<line x1="454.8" y1="519.7" x2="459.4" y2="519.7" stroke="#333" stroke-width="0.9" />
<rect x="454.8" y="518.27" width="4.6" height="1.83" fill="#000" />
<circle cx="457.1" cy="517.07" r="0.55" fill="#1a1a1a"/>
<text transform="translate(458.7 524.5) rotate(-55) scale(0.95 1)" font-size="5" text-anchor="end" fill="#000" >2:1</text>
<line x1="461.05" y1="519.7" x2="465.65" y2="519.7" stroke="#333" stroke-width="0.9" />
<text transform="translate(464.95 524.5) rotate(-55) scale(0.95 1)" font-size="5" text-anchor="end" fill="#000" >0.5:1</text>
<line x1="467.3" y1="519.7" x2="471.9" y2="519.7" stroke="#333" stroke-width="0.9" />
<text transform="translate(471.2 524.5) rotate(-55) scale(0.95 1)" font-size="5" text-anchor="end" fill="#000" >0.125:1</text>
<line x1="478.7" y1="545.6" x2="494.3" y2="545.6" stroke="#222" stroke-width="0.5" />
<text transform="translate(486.25 551.7) scale(0.92 1)" font-size="4.6" text-anchor="middle" fill="#000" >R4</text>
<line x1="478.2" y1="519.7" x2="482.8" y2="519.7" stroke="#333" stroke-width="0.9" />
<text transform="translate(482.1 524.5) rotate(-55) scale(0.95 1)" font-size="5" text-anchor="end" fill="#000" >2:1</text>
<line x1="484.45" y1="519.7" x2="489.05" y2="519.7" stroke="#333" stroke-width="0.9" />
<text transform="translate(488.35 524.5) rotate(-55) scale(0.95 1)" font-size="5" text-anchor="end" fill="#000" >0.5:1</text>
<line x1="490.7" y1="519.7" x2="495.3" y2="519.7" stroke="#333" stroke-width="0.9" />
<text transform="translate(494.6 524.5) rotate(-55) scale(0.95 1)" font-size="5" text-anchor="end" fill="#000" >0.125:1</text>
<line x1="502.1" y1="545.6" x2="517.7" y2="545.6" stroke="#222" stroke-width="0.5" />
<text transform="translate(509.65 551.7) scale(0.92 1)" font-size="4.6" text-anchor="middle" fill="#000" >R5</text>
<line x1="501.6" y1="519.7" x2="506.2" y2="519.7" stroke="#333" stroke-width="0.9" />
<text transform="translate(505.5 524.5) rotate(-55) scale(0.95 1)" font-size="5" text-anchor="end" fill="#000" >2:1</text>
<line x1="507.85" y1="519.7" x2="512.45" y2="519.7" stroke="#333" stroke-width="0.9" />
<text transform="translate(511.75 524.5) rotate(-55) scale(0.95 1)" font-size="5" text-anchor="end" fill="#000" >0.5:1</text>
<line x1="514.1" y1="519.7" x2="518.7" y2="519.7" stroke="#333" stroke-width="0.9" />
<text transform="translate(518 524.5) rotate(-55) scale(0.95 1)" font-size="5" text-anchor="end" fill="#000" >0.125:1</text>
<rect x="219.8" y="561" width="6.5" height="3.8" fill="#5d8d39" stroke="#36591f" stroke-width="0.6" />
<line x1="220.88" y1="561.4" x2="220.88" y2="564.8" stroke="#48712a" stroke-width="0.25" />
<line x1="221.97" y1="561.4" x2="221.97" y2="564.8" stroke="#48712a" stroke-width="0.25" />
<line x1="223.05" y1="561.4" x2="223.05" y2="564.8" stroke="#48712a" stroke-width="0.25" />
<line x1="224.13" y1="561.4" x2="224.13" y2="564.8" stroke="#48712a" stroke-width="0.25" />
<line x1="225.22" y1="561.4" x2="225.22" y2="564.8" stroke="#48712a" stroke-width="0.25" />
<text transform="translate(228.8 565.4) scale(0.85 1)" font-size="7.4" text-anchor="start" fill="#000" >CB-011</text>
<rect x="270" y="561" width="6.5" height="3.8" fill="#000" />
<text transform="translate(279 565.4) scale(0.85 1)" font-size="7.4" text-anchor="start" fill="#000" >DKO</text>
</svg>
</body></html>
